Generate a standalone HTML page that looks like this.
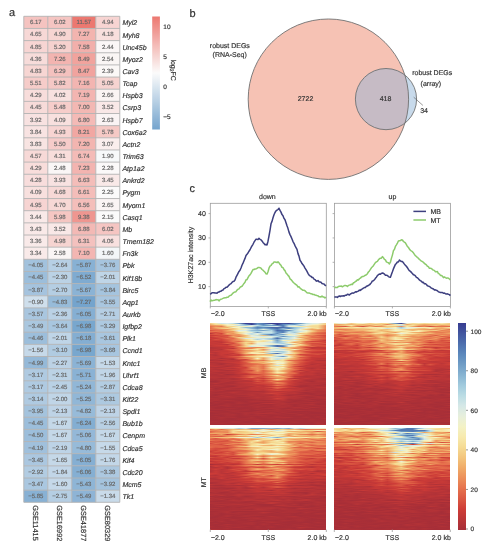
<!DOCTYPE html>
<html><head><meta charset="utf-8"><style>
html,body{margin:0;padding:0;background:#fff;width:491px;height:550px;overflow:hidden}
body{position:relative;font-family:"Liberation Sans",sans-serif}
.hm{position:absolute}
.hm div{position:absolute;left:0;right:0}
svg{position:absolute;left:0;top:0}
svg text{font-family:"Liberation Sans",sans-serif;stroke-width:0.18px;text-rendering:geometricPrecision}
#wrap{position:absolute;left:0;top:0;width:491px;height:550px;filter:blur(0.45px)}
</style></head><body><div id="wrap">
<div class="hm" style="left:210.3px;top:0;width:116.0px"><div style="top:322.80px;height:1.05px;background:linear-gradient(90deg,#f3cc83 0%,#f6e9ac 5%,#cde4e6 10%,#dcece7 15%,#bfdee5 20%,#74a1c8 25%,#373c91 31%,#3a4496 36%,#6390c0 41%,#5076b2 46%,#373c91 53%,#373c91 58%,#4257a0 63%,#394294 68%,#5480b8 73%,#6895c2 78%,#b9dce4 83%,#ddece7 88%,#e4eee2 93%,#f3c981 100%)"></div><div style="top:323.80px;height:1.05px;background:linear-gradient(90deg,#f0ab69 0%,#f5dd97 5%,#f5dc96 10%,#f1f1ca 15%,#f6e7a9 20%,#e3eee2 25%,#6d9ac5 31%,#373c91 36%,#77a4ca 41%,#5784ba 46%,#c1dfe5 53%,#373c91 58%,#5b88bc 63%,#79a6cb 68%,#6b98c4 73%,#cbe3e6 78%,#e3eee3 83%,#ecf0d2 88%,#f7efb8 93%,#f3cc83 100%)"></div><div style="top:324.80px;height:1.05px;background:linear-gradient(90deg,#ec935b 0%,#efa262 5%,#f1af6c 10%,#f7ebaf 15%,#f0f1cc 20%,#bddde5 25%,#a4cddf 31%,#d8eae7 36%,#c2e0e5 41%,#709dc6 46%,#74a1c8 53%,#628fbf 58%,#527bb5 63%,#c2dfe5 68%,#cfe5e6 73%,#a0c9dd 78%,#e3eee3 83%,#f6e19e 88%,#f5de99 93%,#ec915b 100%)"></div><div style="top:325.81px;height:1.05px;background:linear-gradient(90deg,#e66e4b 0%,#eb8e59 5%,#e7774f 10%,#f4d58a 15%,#f4d489 20%,#f3f1c6 25%,#f7f2bf 31%,#eef0cf 36%,#7facce 41%,#a3ccde 46%,#d2e7e6 53%,#ddece7 58%,#527db6 63%,#e6efde 68%,#f7f2bf 73%,#f6e9ac 78%,#f6e19e 83%,#f5d990 88%,#f5db94 93%,#ea8555 100%)"></div><div style="top:326.81px;height:1.05px;background:linear-gradient(90deg,#e6724c 0%,#f0ac69 5%,#f1b06c 10%,#f1af6c 15%,#f1f1ca 20%,#f6f2c1 25%,#91bcd6 31%,#8cb7d3 36%,#5582b9 41%,#608dbe 46%,#4a69aa 53%,#4a69aa 58%,#4a69aa 63%,#6491c0 68%,#95c0d8 73%,#b7dae4 78%,#e1eee6 83%,#f6e3a2 88%,#f5db93 93%,#ea8857 100%)"></div><div style="top:327.81px;height:1.05px;background:linear-gradient(90deg,#e6714c 0%,#ed955d 5%,#f2c17a 10%,#f5d88d 15%,#f2c079 20%,#f7edb3 25%,#d2e7e6 31%,#8cb8d4 36%,#6491c0 41%,#88b4d2 46%,#5c89bc 53%,#4a69aa 58%,#8ab6d3 63%,#527db6 68%,#9bc5da 73%,#c9e2e6 78%,#f7eaaf 83%,#f3c47d 88%,#f6e5a5 93%,#ea8656 100%)"></div><div style="top:328.81px;height:1.05px;background:linear-gradient(90deg,#e98153 0%,#e7754e 5%,#ea8455 10%,#eb8d59 15%,#f3c67e 20%,#f7e9ad 25%,#f0f1ca 31%,#c7e2e5 36%,#91bcd6 41%,#e9efd8 46%,#86b2d1 53%,#5986bb 58%,#81adce 63%,#eaf0d6 68%,#aad3e2 73%,#eff1ce 78%,#f3ca81 83%,#efa363 88%,#f0a967 93%,#e87950 100%)"></div><div style="top:329.81px;height:1.05px;background:linear-gradient(90deg,#d7503f 0%,#e36848 5%,#e6704c 10%,#efa262 15%,#f4d389 20%,#dbebe7 25%,#dcebe7 31%,#96c0d8 36%,#84b0d0 41%,#74a1c8 46%,#b3d9e4 53%,#4a69aa 58%,#5179b4 63%,#5c89bc 68%,#b6dae4 73%,#eaf0d5 78%,#e9efd8 83%,#f3c77f 88%,#ec8f5a 93%,#e6704c 100%)"></div><div style="top:330.82px;height:1.05px;background:linear-gradient(90deg,#e66e4b 0%,#e7784f 5%,#e56c4a 10%,#ed975d 15%,#ed965d 20%,#f0f1cb 25%,#f6f2c1 31%,#b7dbe4 36%,#acd5e2 41%,#d1e6e6 46%,#bedee5 53%,#5f8cbe 58%,#537eb7 63%,#a6cfe0 68%,#b7dae4 73%,#cfe5e6 78%,#f4f2c3 83%,#f4ce85 88%,#ed975d 93%,#e7774f 100%)"></div><div style="top:331.82px;height:1.05px;background:linear-gradient(90deg,#db5842 0%,#d44a3c 5%,#e46b49 10%,#ea8555 15%,#f0a664 20%,#f4d68b 25%,#f1f1ca 31%,#e9efd8 36%,#6a97c3 41%,#c9e3e6 46%,#cae3e6 53%,#729fc7 58%,#537db6 63%,#d6e9e7 68%,#9cc6db 73%,#eef1ce 78%,#f6e4a4 83%,#efa463 88%,#e7744d 93%,#dc5b43 100%)"></div><div style="top:332.82px;height:1.05px;background:linear-gradient(90deg,#b63337 0%,#db5942 5%,#d04239 10%,#f0a664 15%,#ec915b 20%,#f5d990 25%,#e6efde 31%,#bcdde5 36%,#e2eee4 41%,#b1d8e4 46%,#aed6e3 53%,#5d8abd 58%,#d7e9e7 63%,#cde5e6 68%,#d2e7e6 73%,#f3c67e 78%,#f4cd84 83%,#eb8d59 88%,#e26647 93%,#d95541 100%)"></div><div style="top:333.82px;height:1.05px;background:linear-gradient(90deg,#d54c3d 0%,#dc5b43 5%,#d95440 10%,#ec915b 15%,#ee9b5f 20%,#ed965d 25%,#f7f2bf 31%,#c1dfe5 36%,#eff1ce 41%,#8db9d4 46%,#4f74b1 53%,#90bbd5 58%,#719ec7 63%,#f7ecb3 68%,#d3e7e6 73%,#f7efb8 78%,#f2c17a 83%,#ed995e 88%,#e98053 93%,#e06246 100%)"></div><div style="top:334.82px;height:1.05px;background:linear-gradient(90deg,#c73937 0%,#cd3d37 5%,#d85340 10%,#d64e3e 15%,#ea8857 20%,#ed945c 25%,#f2bc76 31%,#eaefd7 36%,#c5e1e5 41%,#f2c17a 46%,#82aecf 53%,#8fbad5 58%,#bddde5 63%,#e9efd8 68%,#eff1cd 73%,#f3ca81 78%,#e87d51 83%,#e98053 88%,#db5942 93%,#d2463b 100%)"></div><div style="top:335.83px;height:1.05px;background:linear-gradient(90deg,#cf4038 0%,#da5741 5%,#d2463b 10%,#dd5d44 15%,#f0ac69 20%,#e87a50 25%,#f3ca81 31%,#e3eee3 36%,#e6efde 41%,#d2e7e6 46%,#e2eee4 53%,#c5e1e5 58%,#5d8abd 63%,#a4cddf 68%,#c3e0e5 73%,#f4d58b 78%,#f0a664 83%,#e56d4a 88%,#e6704c 93%,#d44b3d 100%)"></div><div style="top:336.83px;height:1.05px;background:linear-gradient(90deg,#be3637 0%,#d0433a 5%,#da5641 10%,#d8523f 15%,#e98354 20%,#f4d58b 25%,#f4d086 31%,#f6e4a4 36%,#eaf0d5 41%,#f7f1bb 46%,#e6efdd 53%,#6e9bc5 58%,#e2eee5 63%,#bcdde5 68%,#e9efd7 73%,#f0a765 78%,#f0a665 83%,#e56d4a 88%,#df6145 93%,#d85240 100%)"></div><div style="top:337.83px;height:1.05px;background:linear-gradient(90deg,#cd3d37 0%,#c83a37 5%,#d54c3d 10%,#e6704c 15%,#e16547 20%,#f0ae6b 25%,#d7e9e7 31%,#e4eee0 36%,#d4e8e6 41%,#c5e1e5 46%,#a0c9dd 53%,#4a69aa 58%,#8ebad5 63%,#c3e0e5 68%,#e4eee1 73%,#f6e4a3 78%,#eb8e59 83%,#eb8e59 88%,#e87950 93%,#dc5a43 100%)"></div><div style="top:338.83px;height:1.05px;background:linear-gradient(90deg,#bd3637 0%,#d7513f 5%,#cf4139 10%,#dc5b43 15%,#e7744d 20%,#ed995e 25%,#f5d78d 31%,#f7efb7 36%,#aad2e1 41%,#e1eee7 46%,#9bc5db 53%,#80adce 58%,#b2d8e4 63%,#bbdce4 68%,#f6e19e 73%,#f2be78 78%,#f0a967 83%,#e56d4a 88%,#df6146 93%,#d64f3e 100%)"></div><div style="top:339.83px;height:1.05px;background:linear-gradient(90deg,#c93a37 0%,#cf4139 5%,#ce3e38 10%,#d95541 15%,#e7774f 20%,#ed945c 25%,#f4ce84 31%,#f7f0b9 36%,#ecf0d3 41%,#f6e5a6 46%,#f5f2c3 53%,#729fc7 58%,#f4f2c5 63%,#f6e9ad 68%,#deece7 73%,#f3cc83 78%,#f0ab68 83%,#e7784f 88%,#db5842 93%,#c13737 100%)"></div><div style="top:340.84px;height:1.05px;background:linear-gradient(90deg,#cb3b37 0%,#bd3637 5%,#c63937 10%,#d64e3e 15%,#e7784f 20%,#e16447 25%,#f1b773 31%,#f1b773 36%,#f7eaae 41%,#f5dc96 46%,#d8eae7 53%,#87b3d1 58%,#b1d8e4 63%,#e7efdc 68%,#f4d388 73%,#f1af6c 78%,#e06346 83%,#d0433a 88%,#cf4139 93%,#d2463b 100%)"></div><div style="top:341.84px;height:1.05px;background:linear-gradient(90deg,#c63937 0%,#c83a37 5%,#bd3637 10%,#d04339 15%,#dc5a43 20%,#ee9d60 25%,#f5da92 31%,#f3cc83 36%,#f7f2bf 41%,#eaefd7 46%,#cfe5e6 53%,#8ab6d3 58%,#bddde5 63%,#f6e7a9 68%,#efa061 73%,#f2bc76 78%,#e46a49 83%,#e46b4a 88%,#e26648 93%,#cd3c37 100%)"></div><div style="top:342.84px;height:1.05px;background:linear-gradient(90deg,#c83a37 0%,#c33837 5%,#cc3b37 10%,#dd5d44 15%,#d3483c 20%,#eb8957 25%,#f4d389 31%,#ee9f61 36%,#eaf0d7 41%,#eaf0d6 46%,#edf0d0 53%,#bedde5 58%,#a3ccde 63%,#f0f1cb 68%,#f7f2bc 73%,#ee9e61 78%,#e7754e 83%,#d54c3d 88%,#d3493c 93%,#dc5a43 100%)"></div><div style="top:343.84px;height:1.05px;background:linear-gradient(90deg,#c73a37 0%,#c73a37 5%,#c33837 10%,#ba3537 15%,#e06246 20%,#e56c4a 25%,#f5da91 31%,#f5da91 36%,#e3eee2 41%,#ecf0d3 46%,#eef0cf 53%,#e4eee2 58%,#d9eae7 63%,#98c2d9 68%,#f2ba75 73%,#f6e19d 78%,#eb8d59 83%,#da5742 88%,#d64e3e 93%,#c63937 100%)"></div><div style="top:344.84px;height:1.05px;background:linear-gradient(90deg,#bd3637 0%,#cb3b37 5%,#ce3f38 10%,#ce3f38 15%,#e46a49 20%,#e06246 25%,#f4d087 31%,#eaf0d6 36%,#eff1cd 41%,#d1e6e6 46%,#7eabcd 53%,#4a69aa 58%,#6c99c4 63%,#e7efdb 68%,#f5f2c1 73%,#f3c880 78%,#efa363 83%,#d85340 88%,#d95440 93%,#d7503f 100%)"></div><div style="top:345.85px;height:1.05px;background:linear-gradient(90deg,#c33837 0%,#c43937 5%,#c63937 10%,#ca3b37 15%,#ce3f38 20%,#ec905a 25%,#f4d48a 31%,#cce4e6 36%,#f3f2c5 41%,#ecf0d2 46%,#90bbd5 53%,#4b6cac 58%,#5078b3 63%,#e6efde 68%,#f6e2a0 73%,#ea8656 78%,#e26647 83%,#e56c4a 88%,#d2473b 93%,#d64f3e 100%)"></div><div style="top:346.85px;height:1.05px;background:linear-gradient(90deg,#b13237 0%,#ba3537 5%,#bc3637 10%,#c93a37 15%,#d44a3c 20%,#e36949 25%,#ef9f61 31%,#eb8b58 36%,#e98354 41%,#ed955c 46%,#f0f1cb 53%,#dfede7 58%,#f1b26f 63%,#f2bc76 68%,#f0a564 73%,#e98053 78%,#d0433a 83%,#bd3637 88%,#be3637 93%,#c43837 100%)"></div><div style="top:347.85px;height:1.05px;background:linear-gradient(90deg,#b53337 0%,#b73437 5%,#bf3737 10%,#c73a37 15%,#b73437 20%,#e46b49 25%,#e6734d 31%,#ea8455 36%,#f5d78c 41%,#f4ce85 46%,#f7f1bb 53%,#bddde5 58%,#f7eaaf 63%,#f4cf86 68%,#ea8656 73%,#eb8c58 78%,#e46b4a 83%,#c13837 88%,#c63937 93%,#be3637 100%)"></div><div style="top:348.85px;height:1.05px;background:linear-gradient(90deg,#b93437 0%,#c03737 5%,#b43337 10%,#d44b3d 15%,#db5942 20%,#e16547 25%,#f2bd77 31%,#f5db93 36%,#f6e5a5 41%,#ec8f5a 46%,#cbe3e6 53%,#eef0ce 58%,#bbdce5 63%,#f4d086 68%,#f5f2c2 73%,#efa363 78%,#d44b3d 83%,#d54c3d 88%,#ce3f38 93%,#ce3e37 100%)"></div><div style="top:349.85px;height:1.05px;background:linear-gradient(90deg,#b83437 0%,#b93537 5%,#c23837 10%,#cd3c37 15%,#d8523f 20%,#e06246 25%,#ec935c 31%,#f0a766 36%,#f3cc83 41%,#f1b36f 46%,#e6efdd 53%,#e2eee5 58%,#e2eee5 63%,#f6e5a6 68%,#ee9e61 73%,#e46a49 78%,#e87b50 83%,#d95541 88%,#d54d3d 93%,#d64e3e 100%)"></div><div style="top:350.85px;height:1.05px;background:linear-gradient(90deg,#bd3637 0%,#c83a37 5%,#c63937 10%,#c53937 15%,#d1443a 20%,#e6704c 25%,#efa162 31%,#f1b470 36%,#f5e09c 41%,#f6e8ab 46%,#b7dae4 53%,#92bdd6 58%,#a9d1e1 63%,#e9efd8 68%,#ee9e61 73%,#e87a50 78%,#d44a3c 83%,#d2463b 88%,#cd3c37 93%,#c63937 100%)"></div><div style="top:351.86px;height:1.05px;background:linear-gradient(90deg,#bd3637 0%,#b73437 5%,#c83a37 10%,#ca3b37 15%,#d3483b 20%,#e06346 25%,#f0a665 31%,#f7eaaf 36%,#f6e19f 41%,#f1b571 46%,#d9eae7 53%,#e5efdf 58%,#acd4e2 63%,#f4f2c4 68%,#f3c57d 73%,#eb8c58 78%,#da5741 83%,#ca3a37 88%,#c43837 93%,#c83a37 100%)"></div><div style="top:352.86px;height:1.05px;background:linear-gradient(90deg,#cb3b37 0%,#bb3537 5%,#c93a37 10%,#cb3b37 15%,#c13737 20%,#dd5d44 25%,#f2bc76 31%,#f7e9ad 36%,#f7f0b9 41%,#f7f2bc 46%,#85b1d1 53%,#4a69aa 58%,#cbe4e6 63%,#e8efda 68%,#f4d389 73%,#ec8f5a 78%,#e46a49 83%,#d64e3e 88%,#d2473b 93%,#d44b3d 100%)"></div><div style="top:353.86px;height:1.05px;background:linear-gradient(90deg,#b83437 0%,#b83437 5%,#c93a37 10%,#bc3537 15%,#d0433a 20%,#cb3b37 25%,#e98154 31%,#e87a50 36%,#f1af6c 41%,#f0a866 46%,#f3cc83 53%,#e6efdd 58%,#edf0d1 63%,#f1b26e 68%,#efa262 73%,#d2463b 78%,#d1453a 83%,#d2463b 88%,#d7513f 93%,#c03737 100%)"></div><div style="top:354.86px;height:1.05px;background:linear-gradient(90deg,#bc3637 0%,#b13237 5%,#c63937 10%,#c63937 15%,#c63937 20%,#ca3b37 25%,#e87950 31%,#efa061 36%,#f3c67e 41%,#f4d288 46%,#f4cf85 53%,#d6e9e7 58%,#d8eae7 63%,#f6e3a1 68%,#f1b571 73%,#e36848 78%,#d1453a 83%,#cd3c37 88%,#cb3b37 93%,#c93a37 100%)"></div><div style="top:355.86px;height:1.05px;background:linear-gradient(90deg,#bf3737 0%,#bd3637 5%,#be3637 10%,#cd3c37 15%,#d85340 20%,#e26748 25%,#f1b772 31%,#f4d48a 36%,#f6e4a3 41%,#f7f2bd 46%,#f6f2c1 53%,#add5e3 58%,#6794c2 63%,#edf0d0 68%,#f0a867 73%,#eb8d59 78%,#dd5d44 83%,#cf4139 88%,#cd3c37 93%,#ca3b37 100%)"></div><div style="top:356.87px;height:1.05px;background:linear-gradient(90deg,#bc3537 0%,#be3637 5%,#bf3737 10%,#c93a37 15%,#d1453a 20%,#d85340 25%,#e87b51 31%,#f0ab69 36%,#f5d78d 41%,#f1b671 46%,#daebe7 53%,#eaf0d6 58%,#e6efdd 63%,#f7f2bd 68%,#f1b671 73%,#db5942 78%,#d64f3e 83%,#c43837 88%,#c83a37 93%,#c93a37 100%)"></div><div style="top:357.87px;height:1.05px;background:linear-gradient(90deg,#c23837 0%,#bf3737 5%,#ab3037 10%,#bb3537 15%,#ba3537 20%,#e26748 25%,#eb8c58 31%,#ed995e 36%,#f4f2c4 41%,#ee9c5f 46%,#f5f2c2 53%,#cae3e6 58%,#cee5e6 63%,#f4d086 68%,#ef9f61 73%,#e7744e 78%,#d64f3e 83%,#c63937 88%,#bd3637 93%,#be3637 100%)"></div><div style="top:358.87px;height:1.05px;background:linear-gradient(90deg,#b83437 0%,#b73437 5%,#c33837 10%,#bb3537 15%,#ae3037 20%,#d2463b 25%,#d1443a 31%,#ee9b5f 36%,#f3cb82 41%,#f0a564 46%,#f1f1ca 53%,#c1dfe5 58%,#f6e7a9 63%,#f2bf78 68%,#ed975e 73%,#df6045 78%,#cf4038 83%,#c43837 88%,#bf3637 93%,#c23837 100%)"></div><div style="top:359.87px;height:1.05px;background:linear-gradient(90deg,#ac3037 0%,#b63337 5%,#ad3037 10%,#bd3637 15%,#c03737 20%,#bd3637 25%,#db5842 31%,#e46b4a 36%,#ec8f5a 41%,#e6724c 46%,#f4d288 53%,#f4d48a 58%,#f6e19e 63%,#e7744e 68%,#e16547 73%,#d8523f 78%,#c43837 83%,#cc3b37 88%,#b53337 93%,#b23237 100%)"></div><div style="top:360.87px;height:1.05px;background:linear-gradient(90deg,#c03737 0%,#ba3537 5%,#c13737 10%,#c03737 15%,#bd3637 20%,#c73a37 25%,#e46a49 31%,#ea8656 36%,#efa262 41%,#f1b873 46%,#f4cf85 53%,#eff1cd 58%,#f6e7a8 63%,#f2c17b 68%,#e87d51 73%,#de5e44 78%,#d3483c 83%,#c43837 88%,#c33837 93%,#c13737 100%)"></div><div style="top:361.88px;height:1.05px;background:linear-gradient(90deg,#b23237 0%,#b43337 5%,#bc3637 10%,#c43837 15%,#c73a37 20%,#cb3b37 25%,#db5842 31%,#f0a866 36%,#f1b06c 41%,#f0a867 46%,#f6f2c0 53%,#f7f2be 58%,#f4f2c3 63%,#f1b672 68%,#e98053 73%,#da5641 78%,#ce3e37 83%,#be3637 88%,#c73937 93%,#c13737 100%)"></div><div style="top:362.88px;height:1.05px;background:linear-gradient(90deg,#bb3537 0%,#b53337 5%,#ad3037 10%,#b53337 15%,#bd3637 20%,#cd3d37 25%,#d85340 31%,#e6704c 36%,#ea8555 41%,#f1b36f 46%,#f1b470 53%,#e8efda 58%,#f0f1ca 63%,#f0a564 68%,#eb8c58 73%,#d7503f 78%,#c83a37 83%,#bd3637 88%,#b83437 93%,#c13837 100%)"></div><div style="top:363.88px;height:1.05px;background:linear-gradient(90deg,#b93437 0%,#b83437 5%,#ac3037 10%,#bf3737 15%,#ba3537 20%,#c03737 25%,#db5942 31%,#e06246 36%,#e7764e 41%,#e7754e 46%,#f2ba75 53%,#f7eaaf 58%,#f5d78d 63%,#efa363 68%,#de5e44 73%,#d64e3e 78%,#ce3f38 83%,#b33237 88%,#c33837 93%,#b73437 100%)"></div><div style="top:364.88px;height:1.05px;background:linear-gradient(90deg,#c03737 0%,#b73437 5%,#bb3537 10%,#b73437 15%,#b93537 20%,#c83a37 25%,#df6045 31%,#e66f4b 36%,#ec905a 41%,#e87d52 46%,#f4d389 53%,#d1e6e6 58%,#f7f2bd 63%,#efa463 68%,#e6714c 73%,#d7503f 78%,#bd3637 83%,#c23837 88%,#c13737 93%,#b03137 100%)"></div><div style="top:365.88px;height:1.05px;background:linear-gradient(90deg,#bc3637 0%,#c13737 5%,#b93437 10%,#af3137 15%,#bc3637 20%,#c13737 25%,#da5641 31%,#e6724c 36%,#eb8a58 41%,#e66f4b 46%,#f2ba75 53%,#f6e19d 58%,#f4d087 63%,#ee9a5f 68%,#d85240 73%,#bf3637 78%,#c63937 83%,#c03737 88%,#be3637 93%,#be3637 100%)"></div><div style="top:366.89px;height:1.05px;background:linear-gradient(90deg,#b53337 0%,#b13237 5%,#b33237 10%,#c33837 15%,#c63937 20%,#d04239 25%,#cd3c37 31%,#eb8d59 36%,#ec915b 41%,#e7754e 46%,#f6e19f 53%,#f6e4a4 58%,#f7f2bf 63%,#ea8756 68%,#e36949 73%,#d7513f 78%,#bd3637 83%,#ba3537 88%,#bd3637 93%,#be3637 100%)"></div><div style="top:367.89px;height:1.05px;background:linear-gradient(90deg,#bc3637 0%,#b83437 5%,#c03737 10%,#ba3537 15%,#b43337 20%,#c73937 25%,#d2473b 31%,#e87b51 36%,#ed965d 41%,#e66f4b 46%,#f4cd84 53%,#f2f1c8 58%,#f5da91 63%,#f1af6c 68%,#df6045 73%,#cf4038 78%,#be3637 83%,#b13237 88%,#c03737 93%,#b03137 100%)"></div><div style="top:368.89px;height:1.05px;background:linear-gradient(90deg,#b93537 0%,#b33237 5%,#b23237 10%,#c23837 15%,#c33837 20%,#c23837 25%,#d8523f 31%,#e7764e 36%,#ec935b 41%,#ea8455 46%,#f3c67e 53%,#f6f2c0 58%,#f5d88f 63%,#ec935c 68%,#e7754e 73%,#d7503f 78%,#c63937 83%,#bd3637 88%,#c53937 93%,#c33837 100%)"></div><div style="top:369.89px;height:1.05px;background:linear-gradient(90deg,#b93537 0%,#bc3537 5%,#b33237 10%,#ad3037 15%,#b23237 20%,#c33837 25%,#d64e3e 31%,#d3483c 36%,#efa162 41%,#df6045 46%,#efa262 53%,#f6e19f 58%,#f0ad6b 63%,#ea8756 68%,#de5e44 73%,#b53337 78%,#c83a37 83%,#bb3537 88%,#b73437 93%,#b93537 100%)"></div><div style="top:370.89px;height:1.05px;background:linear-gradient(90deg,#b53337 0%,#bd3637 5%,#bb3537 10%,#b83437 15%,#c03737 20%,#c13737 25%,#d85340 31%,#e06346 36%,#eb8e59 41%,#e06346 46%,#ec935c 53%,#f5dd98 58%,#f0aa68 63%,#e98354 68%,#d2463b 73%,#d54d3e 78%,#b83437 83%,#c53937 88%,#bc3637 93%,#b73437 100%)"></div><div style="top:371.90px;height:1.05px;background:linear-gradient(90deg,#ba3537 0%,#b23237 5%,#ae3137 10%,#b53337 15%,#b73437 20%,#c63937 25%,#d7503f 31%,#e56c4a 36%,#e7774f 41%,#e36848 46%,#f1b36f 53%,#f7ecb2 58%,#f6e19e 63%,#e97e52 68%,#df6045 73%,#c33837 78%,#bc3637 83%,#c03737 88%,#b83437 93%,#b93537 100%)"></div><div style="top:372.90px;height:1.05px;background:linear-gradient(90deg,#b53337 0%,#b83437 5%,#b03137 10%,#b93437 15%,#b83437 20%,#c73a37 25%,#ca3b37 31%,#dc5b43 36%,#e87a50 41%,#e16447 46%,#ed965d 53%,#f4d58a 58%,#f2c079 63%,#e7784f 68%,#e56c4a 73%,#c03737 78%,#c03737 83%,#be3637 88%,#b13237 93%,#c33837 100%)"></div><div style="top:373.90px;height:1.05px;background:linear-gradient(90deg,#b33237 0%,#b03137 5%,#bb3537 10%,#a62e38 15%,#ad3037 20%,#bb3537 25%,#c03737 31%,#cd3d37 36%,#d2473b 41%,#df6045 46%,#e97e52 53%,#eb8c58 58%,#ea8756 63%,#e36949 68%,#d44a3c 73%,#c83a37 78%,#c03737 83%,#c23837 88%,#b73437 93%,#af3137 100%)"></div><div style="top:374.90px;height:1.05px;background:linear-gradient(90deg,#b33237 0%,#b23237 5%,#b23237 10%,#b33237 15%,#b63337 20%,#bd3637 25%,#d3493c 31%,#dd5d44 36%,#e06246 41%,#e06246 46%,#f0ac6a 53%,#f5db93 58%,#e98153 63%,#e7764e 68%,#d2463b 73%,#cc3b37 78%,#b83437 83%,#bb3537 88%,#b13237 93%,#b93537 100%)"></div><div style="top:375.90px;height:1.05px;background:linear-gradient(90deg,#b63437 0%,#b63337 5%,#b03137 10%,#b53337 15%,#be3637 20%,#bb3537 25%,#d2473b 31%,#e16447 36%,#e16547 41%,#d7503f 46%,#e87950 53%,#f1b26e 58%,#f0ae6b 63%,#e26748 68%,#c43937 73%,#b83437 78%,#b33237 83%,#b73437 88%,#bb3537 93%,#b23237 100%)"></div><div style="top:376.91px;height:1.05px;background:linear-gradient(90deg,#ba3537 0%,#b73437 5%,#b83437 10%,#b83437 15%,#bf3737 20%,#cb3b37 25%,#d64f3e 31%,#e7754e 36%,#d44b3d 41%,#db5942 46%,#ec915b 53%,#efa262 58%,#ec925b 63%,#ea8555 68%,#d2473b 73%,#be3637 78%,#b63337 83%,#b83437 88%,#b83437 93%,#b53337 100%)"></div><div style="top:377.91px;height:1.05px;background:linear-gradient(90deg,#b33237 0%,#b43337 5%,#aa2f37 10%,#b33237 15%,#ac3037 20%,#b73437 25%,#c83a37 31%,#cb3b37 36%,#d54c3d 41%,#c83a37 46%,#df6045 53%,#eb8c58 58%,#ed965d 63%,#d04239 68%,#b43337 73%,#b93537 78%,#c53937 83%,#b93537 88%,#b23237 93%,#ab2f37 100%)"></div><div style="top:378.91px;height:1.05px;background:linear-gradient(90deg,#ae3037 0%,#b23237 5%,#b43337 10%,#b73437 15%,#ad3037 20%,#b63337 25%,#d0433a 31%,#cd3d37 36%,#de5f45 41%,#d7513f 46%,#eb8b58 53%,#f6e3a2 58%,#f0a867 63%,#d85340 68%,#da5741 73%,#c03737 78%,#b63337 83%,#b23237 88%,#b13237 93%,#ad3037 100%)"></div><div style="top:379.91px;height:1.05px;background:linear-gradient(90deg,#b13137 0%,#ab3037 5%,#b53337 10%,#b53337 15%,#b93537 20%,#bb3537 25%,#b73437 31%,#c43937 36%,#d2463b 41%,#ca3b37 46%,#df6045 53%,#efa162 58%,#e46b49 63%,#d54d3e 68%,#be3637 73%,#c03737 78%,#ae3037 83%,#b03137 88%,#b63437 93%,#b23237 100%)"></div><div style="top:380.91px;height:1.05px;background:linear-gradient(90deg,#a72e37 0%,#a62e38 5%,#b33237 10%,#b83437 15%,#ad3037 20%,#b43337 25%,#b73437 31%,#b73437 36%,#da5641 41%,#ce3e37 46%,#e7744d 53%,#d95541 58%,#d95440 63%,#d1443a 68%,#c03737 73%,#bc3537 78%,#b33237 83%,#a72e37 88%,#b93537 93%,#b63437 100%)"></div><div style="top:381.92px;height:1.05px;background:linear-gradient(90deg,#ae3137 0%,#ab3037 5%,#b73437 10%,#ad3037 15%,#af3137 20%,#bb3537 25%,#c43837 31%,#c73937 36%,#c93a37 41%,#d3483c 46%,#dd5c44 53%,#ec905a 58%,#e56c4a 63%,#cf4139 68%,#c63937 73%,#b23237 78%,#ba3537 83%,#b33237 88%,#b43337 93%,#b03137 100%)"></div><div style="top:382.92px;height:1.05px;background:linear-gradient(90deg,#ae3137 0%,#bb3537 5%,#ad3037 10%,#ad3037 15%,#ad3037 20%,#b73437 25%,#bc3637 31%,#c13837 36%,#d3483b 41%,#d1443a 46%,#d95440 53%,#e98354 58%,#e6734d 63%,#d04339 68%,#bf3737 73%,#ba3537 78%,#b23237 83%,#b13237 88%,#b13237 93%,#b23237 100%)"></div><div style="top:383.92px;height:1.05px;background:linear-gradient(90deg,#ab3037 0%,#ad3037 5%,#ad3037 10%,#b23237 15%,#b73437 20%,#b43337 25%,#ba3537 31%,#be3637 36%,#c53937 41%,#ca3a37 46%,#d0433a 53%,#d95541 58%,#de5f45 63%,#d1453a 68%,#c03737 73%,#b53337 78%,#b23237 83%,#b53337 88%,#b63337 93%,#a62e38 100%)"></div><div style="top:384.92px;height:1.05px;background:linear-gradient(90deg,#ae3137 0%,#b63437 5%,#b23237 10%,#ae3037 15%,#ad3037 20%,#b73437 25%,#bb3537 31%,#c33837 36%,#be3637 41%,#be3637 46%,#d44b3d 53%,#e87c51 58%,#db5942 63%,#c23837 68%,#c23837 73%,#ae3037 78%,#aa2f37 83%,#b33237 88%,#aa2f37 93%,#ae3137 100%)"></div><div style="top:385.92px;height:1.05px;background:linear-gradient(90deg,#b33337 0%,#ad3037 5%,#b23237 10%,#aa2f37 15%,#a62e37 20%,#b83437 25%,#b73437 31%,#b33237 36%,#c93a37 41%,#bd3637 46%,#c33837 53%,#d2473b 58%,#d1453a 63%,#c73a37 68%,#af3137 73%,#a92f37 78%,#aa2f37 83%,#b23237 88%,#b23237 93%,#af3137 100%)"></div><div style="top:386.93px;height:1.05px;background:linear-gradient(90deg,#ab2f37 0%,#ae3137 5%,#a92f37 10%,#ad3037 15%,#b63337 20%,#b83437 25%,#b23237 31%,#c03737 36%,#c23837 41%,#c13737 46%,#d64f3e 53%,#e36949 58%,#dc5b43 63%,#cd3d37 68%,#c63937 73%,#b03137 78%,#b63337 83%,#ae3137 88%,#b93437 93%,#b93437 100%)"></div><div style="top:387.93px;height:1.05px;background:linear-gradient(90deg,#bb3537 0%,#a62e38 5%,#af3137 10%,#b53337 15%,#b03137 20%,#ac3037 25%,#b43337 31%,#c03737 36%,#c03737 41%,#c43837 46%,#c13837 53%,#dd5c44 58%,#c93a37 63%,#bb3537 68%,#b93437 73%,#be3637 78%,#b33237 83%,#b33237 88%,#b03137 93%,#b13237 100%)"></div><div style="top:388.93px;height:1.05px;background:linear-gradient(90deg,#b23237 0%,#ab3037 5%,#ae3037 10%,#b33237 15%,#b03137 20%,#b13237 25%,#bb3537 31%,#bf3737 36%,#c23837 41%,#be3637 46%,#d1453a 53%,#ce3f38 58%,#c93a37 63%,#cb3b37 68%,#be3637 73%,#bd3637 78%,#b13237 83%,#af3137 88%,#ae3037 93%,#b33237 100%)"></div><div style="top:389.93px;height:1.05px;background:linear-gradient(90deg,#b93437 0%,#af3137 5%,#b83437 10%,#a92f37 15%,#a82f37 20%,#ac3037 25%,#b13237 31%,#bb3537 36%,#c33837 41%,#ba3537 46%,#cd3d37 53%,#d64e3e 58%,#cf4139 63%,#c83a37 68%,#c53937 73%,#b63437 78%,#aa2f37 83%,#b53337 88%,#ad3037 93%,#b13237 100%)"></div><div style="top:390.93px;height:1.05px;background:linear-gradient(90deg,#af3137 0%,#b03137 5%,#ab2f37 10%,#ac3037 15%,#af3137 20%,#b33237 25%,#ae3137 31%,#af3137 36%,#ac3037 41%,#af3137 46%,#c23837 53%,#bb3537 58%,#ba3537 63%,#bf3737 68%,#b43337 73%,#b83437 78%,#b53337 83%,#af3137 88%,#aa2f37 93%,#ac3037 100%)"></div><div style="top:391.94px;height:1.05px;background:linear-gradient(90deg,#b13237 0%,#a92f37 5%,#ad3037 10%,#b23237 15%,#bc3537 20%,#b23237 25%,#af3137 31%,#b63337 36%,#b93437 41%,#b43337 46%,#c33837 53%,#c93a37 58%,#c63937 63%,#b83437 68%,#ba3537 73%,#ad3037 78%,#a62e37 83%,#af3137 88%,#ad3037 93%,#ad3037 100%)"></div><div style="top:392.94px;height:1.05px;background:linear-gradient(90deg,#af3137 0%,#ae3137 5%,#b33237 10%,#ac3037 15%,#b33237 20%,#b03137 25%,#b13237 31%,#b63337 36%,#b53337 41%,#bd3637 46%,#d1443a 53%,#cb3b37 58%,#b93537 63%,#ba3537 68%,#bd3637 73%,#b13137 78%,#a62e38 83%,#a82e37 88%,#ae3037 93%,#b03137 100%)"></div><div style="top:393.94px;height:1.05px;background:linear-gradient(90deg,#ae3137 0%,#a62e37 5%,#ab3037 10%,#b03137 15%,#ac3037 20%,#b43337 25%,#b43337 31%,#b93537 36%,#b33237 41%,#b73437 46%,#b73437 53%,#ca3a37 58%,#c23837 63%,#b13237 68%,#b03137 73%,#a92f37 78%,#ad3037 83%,#a72e37 88%,#af3137 93%,#a62e37 100%)"></div><div style="top:394.94px;height:1.05px;background:linear-gradient(90deg,#ad3037 0%,#a62e38 5%,#b43337 10%,#ab3037 15%,#ad3037 20%,#ab3037 25%,#ac3037 31%,#ba3537 36%,#b33237 41%,#b63337 46%,#b13237 53%,#c13837 58%,#b53337 63%,#aa2f37 68%,#b33237 73%,#b63337 78%,#b63337 83%,#ae3137 88%,#a62e38 93%,#a72e37 100%)"></div><div style="top:395.94px;height:1.05px;background:linear-gradient(90deg,#a92f37 0%,#b13237 5%,#ae3037 10%,#b83437 15%,#ae3137 20%,#ae3137 25%,#b33237 31%,#b23237 36%,#b63337 41%,#b13237 46%,#c03737 53%,#c73937 58%,#c03737 63%,#b83437 68%,#b93537 73%,#ae3137 78%,#aa2f37 83%,#ad3037 88%,#b33237 93%,#ab2f37 100%)"></div><div style="top:396.95px;height:1.05px;background:linear-gradient(90deg,#ab3037 0%,#a92f37 5%,#b13237 10%,#af3137 15%,#b13237 20%,#a62e38 25%,#a92f37 31%,#b13237 36%,#ba3537 41%,#b43337 46%,#ba3537 53%,#be3637 58%,#c33837 63%,#b73437 68%,#b43337 73%,#b53337 78%,#aa2f37 83%,#a72e37 88%,#b13237 93%,#b23237 100%)"></div><div style="top:397.95px;height:1.05px;background:linear-gradient(90deg,#b13137 0%,#ae3137 5%,#ab3037 10%,#ac3037 15%,#aa2f37 20%,#aa2f37 25%,#ac3037 31%,#b33237 36%,#b43337 41%,#b23237 46%,#b83437 53%,#cf4139 58%,#c23837 63%,#b33337 68%,#b53337 73%,#ae3137 78%,#aa2f37 83%,#b03137 88%,#ad3037 93%,#b23237 100%)"></div><div style="top:398.95px;height:1.05px;background:linear-gradient(90deg,#ab2f37 0%,#b03137 5%,#aa2f37 10%,#a72e37 15%,#a72e37 20%,#a62e37 25%,#a92f37 31%,#a82e37 36%,#af3137 41%,#b13237 46%,#bb3537 53%,#c13737 58%,#bf3737 63%,#a92f37 68%,#ae3137 73%,#ab3037 78%,#b13237 83%,#a62e38 88%,#a82e37 93%,#ab2f37 100%)"></div><div style="top:399.95px;height:1.05px;background:linear-gradient(90deg,#ad3037 0%,#b13237 5%,#ac3037 10%,#b23237 15%,#ad3037 20%,#a62e38 25%,#aa2f37 31%,#ac3037 36%,#ae3137 41%,#a92f37 46%,#ad3037 53%,#b03137 58%,#ba3537 63%,#ad3037 68%,#a92f37 73%,#a82e37 78%,#ac3037 83%,#b13237 88%,#a62e38 93%,#af3137 100%)"></div><div style="top:400.95px;height:1.05px;background:linear-gradient(90deg,#b13237 0%,#a62e38 5%,#ac3037 10%,#a82e37 15%,#ab2f37 20%,#ac3037 25%,#a62e38 31%,#b33237 36%,#b33237 41%,#b33237 46%,#b33237 53%,#b63337 58%,#ae3137 63%,#ae3137 68%,#a62e37 73%,#ac3037 78%,#aa2f37 83%,#a62e38 88%,#ac3037 93%,#a82e37 100%)"></div><div style="top:401.95px;height:1.05px;background:linear-gradient(90deg,#a72e37 0%,#ae3037 5%,#ab2f37 10%,#a72e37 15%,#a62e38 20%,#b03137 25%,#a92f37 31%,#ae3037 36%,#aa2f37 41%,#a92f37 46%,#ab2f37 53%,#b43337 58%,#b13237 63%,#a62e38 68%,#ac3037 73%,#ab3037 78%,#af3137 83%,#b33237 88%,#ac3037 93%,#aa2f37 100%)"></div><div style="top:402.96px;height:1.05px;background:linear-gradient(90deg,#a62e38 0%,#ac3037 5%,#a72e37 10%,#ac3037 15%,#a82e37 20%,#b13237 25%,#ac3037 31%,#a82e37 36%,#a62e38 41%,#b63337 46%,#bd3637 53%,#b13237 58%,#b63437 63%,#af3137 68%,#b03137 73%,#ac3037 78%,#a62e37 83%,#ae3037 88%,#a62e38 93%,#ab2f37 100%)"></div><div style="top:403.96px;height:1.05px;background:linear-gradient(90deg,#ac3037 0%,#a62e38 5%,#a82e37 10%,#ae3037 15%,#aa2f37 20%,#a82f37 25%,#a62e38 31%,#aa2f37 36%,#b23237 41%,#a72e37 46%,#a82e37 53%,#b13237 58%,#b43337 63%,#ac3037 68%,#a72e37 73%,#ac3037 78%,#b13237 83%,#b53337 88%,#a62e37 93%,#a82f37 100%)"></div><div style="top:404.96px;height:1.05px;background:linear-gradient(90deg,#a62e38 0%,#a62e38 5%,#b03137 10%,#af3137 15%,#a72e37 20%,#a92f37 25%,#a62e38 31%,#af3137 36%,#aa2f37 41%,#ac3037 46%,#ab2f37 53%,#b43337 58%,#ad3037 63%,#b23237 68%,#a62e37 73%,#ae3137 78%,#ab2f37 83%,#ac3037 88%,#ae3137 93%,#ac3037 100%)"></div><div style="top:405.96px;height:1.05px;background:linear-gradient(90deg,#aa2f37 0%,#ad3037 5%,#a62e38 10%,#b03137 15%,#a92f37 20%,#ad3037 25%,#ab2f37 31%,#a92f37 36%,#b13137 41%,#ae3137 46%,#aa2f37 53%,#b03137 58%,#b13237 63%,#b03137 68%,#a72e37 73%,#ab2f37 78%,#ae3137 83%,#a72e37 88%,#a92f37 93%,#ad3037 100%)"></div><div style="top:406.96px;height:1.05px;background:linear-gradient(90deg,#ac3037 0%,#a62e37 5%,#a82e37 10%,#a62e38 15%,#a62e38 20%,#a92f37 25%,#a62e38 31%,#aa2f37 36%,#af3137 41%,#a62e37 46%,#ac3037 53%,#af3137 58%,#b23237 63%,#aa2f37 68%,#b23237 73%,#b23237 78%,#a82e37 83%,#b43337 88%,#ae3137 93%,#a62e38 100%)"></div><div style="top:407.97px;height:1.05px;background:linear-gradient(90deg,#af3137 0%,#a82e37 5%,#a82e37 10%,#ae3037 15%,#ac3037 20%,#a62e38 25%,#a82e37 31%,#a82f37 36%,#aa2f37 41%,#ad3037 46%,#b33237 53%,#ae3137 58%,#a82e37 63%,#a62e37 68%,#ac3037 73%,#ab2f37 78%,#b23237 83%,#a62e37 88%,#a62e38 93%,#b03137 100%)"></div><div style="top:408.97px;height:1.05px;background:linear-gradient(90deg,#ac3037 0%,#ae3037 5%,#ad3037 10%,#a92f37 15%,#a62e38 20%,#a72e37 25%,#ac3037 31%,#a62e38 36%,#ae3137 41%,#a92f37 46%,#a62e37 53%,#b23237 58%,#a92f37 63%,#b23237 68%,#a92f37 73%,#a62e38 78%,#a62e38 83%,#ab3037 88%,#a82e37 93%,#ad3037 100%)"></div><div style="top:409.97px;height:1.05px;background:linear-gradient(90deg,#a62e38 0%,#a62e38 5%,#a62e38 10%,#ae3037 15%,#ad3037 20%,#ac3037 25%,#ad3037 31%,#a62e37 36%,#a62e38 41%,#ae3037 46%,#ae3137 53%,#af3137 58%,#ac3037 63%,#ab2f37 68%,#b13137 73%,#b33237 78%,#ae3037 83%,#ae3137 88%,#ac3037 93%,#a92f37 100%)"></div><div style="top:410.97px;height:1.05px;background:linear-gradient(90deg,#b03137 0%,#ab2f37 5%,#a92f37 10%,#a62e37 15%,#ae3137 20%,#aa2f37 25%,#a62e37 31%,#a62e37 36%,#b03137 41%,#ad3037 46%,#a82f37 53%,#af3137 58%,#ab2f37 63%,#ac3037 68%,#a62e38 73%,#a62e38 78%,#a62e38 83%,#aa2f37 88%,#ac3037 93%,#ac3037 100%)"></div><div style="top:411.97px;height:1.05px;background:linear-gradient(90deg,#a72e37 0%,#aa2f37 5%,#a92f37 10%,#aa2f37 15%,#a92f37 20%,#ac3037 25%,#af3137 31%,#ae3037 36%,#ae3037 41%,#a82e37 46%,#b23237 53%,#a62e38 58%,#b03137 63%,#a72e37 68%,#a62e38 73%,#a92f37 78%,#aa2f37 83%,#a62e38 88%,#a62e38 93%,#aa2f37 100%)"></div><div style="top:412.98px;height:1.05px;background:linear-gradient(90deg,#a62e37 0%,#a62e38 5%,#ac3037 10%,#ae3137 15%,#a82f37 20%,#a62e38 25%,#b13237 31%,#ac3037 36%,#b23237 41%,#b63337 46%,#b23237 53%,#af3137 58%,#a82e37 63%,#ae3137 68%,#ae3137 73%,#a62e38 78%,#aa2f37 83%,#a62e38 88%,#a62e38 93%,#a62e38 100%)"></div><div style="top:413.98px;height:1.05px;background:linear-gradient(90deg,#a62e38 0%,#ac3037 5%,#a92f37 10%,#ad3037 15%,#b03137 20%,#a72e37 25%,#b03137 31%,#a62e38 36%,#ae3137 41%,#a62e37 46%,#aa2f37 53%,#ac3037 58%,#ab2f37 63%,#a62e37 68%,#a72e37 73%,#b23237 78%,#a72e37 83%,#ab2f37 88%,#aa2f37 93%,#aa2f37 100%)"></div><div style="top:414.98px;height:1.05px;background:linear-gradient(90deg,#a62e38 0%,#a62e37 5%,#a62e38 10%,#ad3037 15%,#ad3037 20%,#a62e37 25%,#ac3037 31%,#ac3037 36%,#ad3037 41%,#af3137 46%,#a72e37 53%,#a82e37 58%,#a92f37 63%,#a92f37 68%,#a92f37 73%,#ab3037 78%,#a72e37 83%,#a82f37 88%,#a62e38 93%,#a62e38 100%)"></div><div style="top:415.98px;height:1.05px;background:linear-gradient(90deg,#a62e37 0%,#ad3037 5%,#a62e38 10%,#ab3037 15%,#a92f37 20%,#a62e37 25%,#aa2f37 31%,#a92f37 36%,#a62e38 41%,#ab2f37 46%,#a82e37 53%,#af3137 58%,#a82e37 63%,#a72e37 68%,#a62e38 73%,#a62e37 78%,#ab2f37 83%,#a62e37 88%,#ad3037 93%,#a62e38 100%)"></div><div style="top:416.98px;height:1.05px;background:linear-gradient(90deg,#aa2f37 0%,#a72e37 5%,#b03137 10%,#ab3037 15%,#b03137 20%,#a62e38 25%,#a72e37 31%,#af3137 36%,#a72e37 41%,#ab2f37 46%,#ab2f37 53%,#b03137 58%,#b03137 63%,#b13237 68%,#a82f37 73%,#a82f37 78%,#af3137 83%,#a62e38 88%,#ac3037 93%,#a62e38 100%)"></div><div style="top:417.99px;height:1.05px;background:linear-gradient(90deg,#a62e38 0%,#aa2f37 5%,#ac3037 10%,#a62e37 15%,#a62e38 20%,#aa2f37 25%,#ac3037 31%,#ac3037 36%,#a82e37 41%,#a62e37 46%,#aa2f37 53%,#a62e38 58%,#a92f37 63%,#a62e38 68%,#a62e38 73%,#a82e37 78%,#a72e37 83%,#a92f37 88%,#a62e38 93%,#b33237 100%)"></div><div style="top:418.99px;height:1.05px;background:linear-gradient(90deg,#a92f37 0%,#a62e38 5%,#aa2f37 10%,#a72e37 15%,#a62e38 20%,#ac3037 25%,#aa2f37 31%,#aa2f37 36%,#ae3037 41%,#a72e37 46%,#a72e37 53%,#ab3037 58%,#a62e38 63%,#a72e37 68%,#a92f37 73%,#ab2f37 78%,#a62e38 83%,#ad3037 88%,#a82e37 93%,#aa2f37 100%)"></div><div style="top:419.99px;height:1.05px;background:linear-gradient(90deg,#a62e38 0%,#a82e37 5%,#aa2f37 10%,#a62e38 15%,#a62e38 20%,#a62e38 25%,#ae3037 31%,#a62e38 36%,#ad3037 41%,#ab2f37 46%,#ab3037 53%,#ac3037 58%,#ac3037 63%,#a82e37 68%,#a72e37 73%,#a62e38 78%,#a62e38 83%,#aa2f37 88%,#a62e38 93%,#a92f37 100%)"></div><div style="top:420.99px;height:1.05px;background:linear-gradient(90deg,#ab2f37 0%,#ac3037 5%,#a72e37 10%,#a62e38 15%,#ac3037 20%,#ab3037 25%,#a62e38 31%,#a62e38 36%,#b13237 41%,#a62e38 46%,#a82e37 53%,#aa2f37 58%,#a82e37 63%,#a92f37 68%,#a92f37 73%,#a62e38 78%,#a72e37 83%,#a82f37 88%,#a92f37 93%,#a72e37 100%)"></div><div style="top:421.99px;height:1.05px;background:linear-gradient(90deg,#ab3037 0%,#a92f37 5%,#aa2f37 10%,#a92f37 15%,#ad3037 20%,#ac3037 25%,#a62e38 31%,#a92f37 36%,#a72e37 41%,#b03137 46%,#a62e38 53%,#a92f37 58%,#a62e38 63%,#a82f37 68%,#ad3037 73%,#a82e37 78%,#a82e37 83%,#a72e37 88%,#ad3037 93%,#a82e37 100%)"></div><div style="top:423.00px;height:1.05px;background:linear-gradient(90deg,#a72e37 0%,#ab2f37 5%,#ad3037 10%,#a82e37 15%,#a62e37 20%,#a92f37 25%,#ae3137 31%,#aa2f37 36%,#ac3037 41%,#a72e37 46%,#ad3037 53%,#ad3037 58%,#a62e38 63%,#a72e37 68%,#a62e38 73%,#a72e37 78%,#a72e37 83%,#a62e38 88%,#af3137 93%,#a72e37 100%)"></div><div style="top:424.00px;height:1.05px;background:linear-gradient(90deg,#ad3037 0%,#a62e37 5%,#a62e38 10%,#aa2f37 15%,#a62e37 20%,#a82e37 25%,#ac3037 31%,#af3137 36%,#aa2f37 41%,#ab2f37 46%,#a82e37 53%,#ab3037 58%,#ab2f37 63%,#aa2f37 68%,#a62e37 73%,#a62e38 78%,#a92f37 83%,#a62e38 88%,#ac3037 93%,#b43337 100%)"></div></div>
<div class="hm" style="left:334.3px;top:0;width:116.0px"><div style="top:322.80px;height:1.05px;background:linear-gradient(90deg,#f6e4a4 0%,#e7efdc 5%,#eff1cd 10%,#f3c77f 15%,#f7edb3 20%,#f2f1c8 25%,#f4cd84 31%,#f7eaae 36%,#f4d389 41%,#f5de98 46%,#729fc7 53%,#373c91 58%,#edf0d1 63%,#f5db94 68%,#f6e9ac 73%,#f5d990 78%,#f6e5a5 83%,#f5de99 88%,#f7eaaf 93%,#f3cb83 100%)"></div><div style="top:323.80px;height:1.05px;background:linear-gradient(90deg,#f0a766 0%,#f0a665 5%,#f2be78 10%,#f1b671 15%,#f3ca81 20%,#f1b470 25%,#f3c880 31%,#f1b873 36%,#f3cc83 41%,#e98153 46%,#f6e3a2 53%,#e9efd7 58%,#ee9d60 63%,#f4d389 68%,#f2bd77 73%,#f0aa68 78%,#f1b26e 83%,#f1b873 88%,#f3cc83 93%,#f2bf78 100%)"></div><div style="top:324.80px;height:1.05px;background:linear-gradient(90deg,#ee9a5f 0%,#f1b671 5%,#f3c67e 10%,#f6e8ab 15%,#f0a765 20%,#f2bc76 25%,#ec945c 31%,#f4d48a 36%,#f1b470 41%,#f6e3a3 46%,#f6e8aa 53%,#bcdde5 58%,#f5d78c 63%,#f5df9b 68%,#f0ad6a 73%,#ec935c 78%,#f1b06d 83%,#f3c67e 88%,#ee9a5f 93%,#f2b974 100%)"></div><div style="top:325.81px;height:1.05px;background:linear-gradient(90deg,#e98053 0%,#df6146 5%,#da5742 10%,#f1b772 15%,#e87950 20%,#d3493c 25%,#f1b571 31%,#e7774f 36%,#eb8b58 41%,#f3c880 46%,#f2c07a 53%,#ea8656 58%,#f6e9ac 63%,#f0a967 68%,#e46b4a 73%,#ea8756 78%,#d44b3d 83%,#e6734d 88%,#e7744d 93%,#e26748 100%)"></div><div style="top:326.81px;height:1.05px;background:linear-gradient(90deg,#f1b26e 0%,#f3ca81 5%,#f6e7a8 10%,#f5d990 15%,#f7eeb5 20%,#f5dd98 25%,#f7e9ad 31%,#f7eeb6 36%,#f7eaaf 41%,#f5d78c 46%,#f6f2c1 53%,#99c3da 58%,#f0f1cb 63%,#e4eee1 68%,#f1f1ca 73%,#f7ecb2 78%,#f6e7a9 83%,#f3c37c 88%,#f1b570 93%,#f6e6a7 100%)"></div><div style="top:327.81px;height:1.05px;background:linear-gradient(90deg,#f1b773 0%,#f1b26f 5%,#f1b773 10%,#f3c981 15%,#f3c77f 20%,#f3c67e 25%,#f5dd98 31%,#f5e09c 36%,#f7f1bb 41%,#c5e1e5 46%,#f0f1cb 53%,#b7dbe4 58%,#deece7 63%,#f6e8ab 68%,#f3c880 73%,#f2bb76 78%,#f6e6a6 83%,#f0ad6a 88%,#f0a766 93%,#f2c27b 100%)"></div><div style="top:328.81px;height:1.05px;background:linear-gradient(90deg,#ec905a 0%,#e7784f 5%,#ea8455 10%,#ed955d 15%,#f1af6c 20%,#f1b773 25%,#f1b36f 31%,#f5db93 36%,#f3c77f 41%,#f2ba75 46%,#f7eeb5 53%,#f6e5a5 58%,#f2bf79 63%,#f1b470 68%,#f1b06d 73%,#efa363 78%,#ec945c 83%,#ec905a 88%,#f2bd77 93%,#e46a49 100%)"></div><div style="top:329.81px;height:1.05px;background:linear-gradient(90deg,#ef9f61 0%,#f1b36f 5%,#ec915b 10%,#efa062 15%,#f1b26f 20%,#f1b16d 25%,#f4d68b 31%,#f5d990 36%,#f1b16d 41%,#f4d388 46%,#f3f2c5 53%,#f7f1bb 58%,#f6e2a0 63%,#f1b470 68%,#f6e6a7 73%,#f4d187 78%,#f3c47d 83%,#f4ce85 88%,#e97f52 93%,#ed955c 100%)"></div><div style="top:330.82px;height:1.05px;background:linear-gradient(90deg,#e98354 0%,#eb8d59 5%,#f0a564 10%,#ee9d60 15%,#ec925b 20%,#ec8f5a 25%,#f2bf79 31%,#f3ca81 36%,#f4cd84 41%,#f0a967 46%,#f5db93 53%,#f4d388 58%,#f6e8ab 63%,#f7f1ba 68%,#f7f2bd 73%,#f3c57d 78%,#eb8b58 83%,#e87a50 88%,#ed985e 93%,#e98053 100%)"></div><div style="top:331.82px;height:1.05px;background:linear-gradient(90deg,#e87d52 0%,#e16447 5%,#e6734d 10%,#e97e52 15%,#e7744e 20%,#eb8b58 25%,#ea8555 31%,#f2bf79 36%,#f6e2a0 41%,#f4ce85 46%,#ed995e 53%,#f7f0b9 58%,#f7eaaf 63%,#f1b36f 68%,#f0a866 73%,#ea8957 78%,#ee9d60 83%,#e98053 88%,#e7784f 93%,#ec945c 100%)"></div><div style="top:332.82px;height:1.05px;background:linear-gradient(90deg,#efa162 0%,#e7774f 5%,#e87b51 10%,#efa463 15%,#f0a664 20%,#ec925b 25%,#f2b974 31%,#f5df9b 36%,#f5da91 41%,#f1b06c 46%,#f6e8ac 53%,#e5eedf 58%,#f7ecb1 63%,#f6e4a4 68%,#f3c67e 73%,#f1b672 78%,#f2bd77 83%,#eb8d59 88%,#eb8c58 93%,#efa463 100%)"></div><div style="top:333.82px;height:1.05px;background:linear-gradient(90deg,#e98153 0%,#d54d3e 5%,#ed965d 10%,#ea8555 15%,#e98354 20%,#ee9e60 25%,#efa061 31%,#f1b36f 36%,#f0a665 41%,#ee9b5f 46%,#f0ab68 53%,#f6e2a0 58%,#f2be78 63%,#f2bc76 68%,#efa363 73%,#f0aa68 78%,#e87a50 83%,#ec8f5a 88%,#e97e52 93%,#ea8555 100%)"></div><div style="top:334.82px;height:1.05px;background:linear-gradient(90deg,#e36848 0%,#e16547 5%,#db5942 10%,#e26648 15%,#e46a49 20%,#ee9c60 25%,#e7734d 31%,#f0a867 36%,#f0ad6a 41%,#e87a50 46%,#f0ac6a 53%,#f6e09c 58%,#f3cc83 63%,#efa262 68%,#f0ac6a 73%,#ed975d 78%,#e98154 83%,#db5942 88%,#efa463 93%,#e7754e 100%)"></div><div style="top:335.83px;height:1.05px;background:linear-gradient(90deg,#e7774f 0%,#d7513f 5%,#d1443a 10%,#e56d4a 15%,#e46a49 20%,#e7774f 25%,#e16547 31%,#ee9a5f 36%,#f3c77f 41%,#ed955c 46%,#f3c57e 53%,#f1b36f 58%,#ee9c60 63%,#ec8f5a 68%,#ee9c60 73%,#e6704c 78%,#e06246 83%,#ee9b5f 88%,#de5f45 93%,#e6714c 100%)"></div><div style="top:336.83px;height:1.05px;background:linear-gradient(90deg,#d1453a 0%,#e6714c 5%,#e98053 10%,#e87950 15%,#dc5b43 20%,#efa463 25%,#f0ae6b 31%,#ea8957 36%,#f4d388 41%,#f1af6c 46%,#f6e7aa 53%,#f5d78d 58%,#f5da92 63%,#ee9b5f 68%,#eb8a58 73%,#ea8455 78%,#ea8756 83%,#e97e52 88%,#ec905a 93%,#d44a3c 100%)"></div><div style="top:337.83px;height:1.05px;background:linear-gradient(90deg,#da5741 0%,#d7513f 5%,#e98354 10%,#e26648 15%,#e46a49 20%,#e46b49 25%,#e7784f 31%,#e98154 36%,#f0ac69 41%,#f1b672 46%,#f6e8aa 53%,#f4d58a 58%,#ed955d 63%,#f0ab69 68%,#efa263 73%,#e87b51 78%,#e7754e 83%,#ee9c60 88%,#db5942 93%,#e36848 100%)"></div><div style="top:338.83px;height:1.05px;background:linear-gradient(90deg,#d85240 0%,#dc5b43 5%,#e36848 10%,#df6045 15%,#e87b51 20%,#e98354 25%,#ea8756 31%,#f0a564 36%,#f2bd77 41%,#efa363 46%,#f6e9ac 53%,#f7ecb2 58%,#f0ab69 63%,#f0aa68 68%,#e87d51 73%,#e98153 78%,#ed995e 83%,#e87e52 88%,#e06346 93%,#e87b50 100%)"></div><div style="top:339.83px;height:1.05px;background:linear-gradient(90deg,#c73a37 0%,#d7513f 5%,#d44a3c 10%,#d64e3e 15%,#d7513f 20%,#e6734d 25%,#e16447 31%,#e06346 36%,#f3cb82 41%,#efa061 46%,#f0a765 53%,#ee9b5f 58%,#f1b36f 63%,#f0a665 68%,#e7784f 73%,#e98153 78%,#d95440 83%,#e87c51 88%,#d54d3d 93%,#d95541 100%)"></div><div style="top:340.84px;height:1.05px;background:linear-gradient(90deg,#ce3f38 0%,#dc5b43 5%,#db5842 10%,#dd5d44 15%,#d1453a 20%,#e66f4b 25%,#de5f45 31%,#e87a50 36%,#f1b672 41%,#f1b06d 46%,#f5de9a 53%,#f2bb76 58%,#f2ba75 63%,#ed995e 68%,#efa463 73%,#e66e4b 78%,#e36949 83%,#e06346 88%,#d95541 93%,#e56d4a 100%)"></div><div style="top:341.84px;height:1.05px;background:linear-gradient(90deg,#d54d3d 0%,#d54d3e 5%,#d2473b 10%,#d7513f 15%,#e6704c 20%,#dc5a43 25%,#e16547 31%,#ec925b 36%,#f0a867 41%,#f0aa68 46%,#e98354 53%,#efa262 58%,#ea8655 63%,#e7754e 68%,#e98254 73%,#e6724d 78%,#cf4038 83%,#db5942 88%,#db5942 93%,#cf4038 100%)"></div><div style="top:342.84px;height:1.05px;background:linear-gradient(90deg,#d85340 0%,#cf4139 5%,#dc5b43 10%,#e66e4b 15%,#d95440 20%,#e7774f 25%,#e87950 31%,#f0a866 36%,#e66f4b 41%,#f2c27b 46%,#f5dd98 53%,#f4d68b 58%,#f6e6a8 63%,#ec905a 68%,#efa463 73%,#ea8756 78%,#e46b49 83%,#e56c4a 88%,#dd5d44 93%,#dc5a43 100%)"></div><div style="top:343.84px;height:1.05px;background:linear-gradient(90deg,#d7503f 0%,#c33837 5%,#db5942 10%,#e46a49 15%,#d64f3e 20%,#e36949 25%,#ea8455 31%,#e66e4b 36%,#efa061 41%,#ec945c 46%,#f5dc96 53%,#f4d086 58%,#f0ae6b 63%,#ec8f5a 68%,#ec945c 73%,#d8523f 78%,#d85340 83%,#d1443a 88%,#d85240 93%,#d64f3e 100%)"></div><div style="top:344.84px;height:1.05px;background:linear-gradient(90deg,#bf3737 0%,#c43937 5%,#d3483c 10%,#da5641 15%,#c83a37 20%,#e98153 25%,#d95440 31%,#eb8957 36%,#f0a564 41%,#ee9d60 46%,#f0aa68 53%,#ec925b 58%,#f1af6c 63%,#f2bb76 68%,#e6714c 73%,#e98154 78%,#e26647 83%,#e16447 88%,#d85340 93%,#db5942 100%)"></div><div style="top:345.85px;height:1.05px;background:linear-gradient(90deg,#cc3b37 0%,#db5942 5%,#d7513f 10%,#d2463b 15%,#d8523f 20%,#df6045 25%,#e7784f 31%,#eb8957 36%,#f2bd77 41%,#eb8957 46%,#f2ba75 53%,#f5dc96 58%,#f1b470 63%,#efa061 68%,#f0ab69 73%,#dd5c43 78%,#de5e44 83%,#df6045 88%,#e16447 93%,#d2473b 100%)"></div><div style="top:346.85px;height:1.05px;background:linear-gradient(90deg,#d95440 0%,#d04339 5%,#d3493c 10%,#cf4139 15%,#ce3e38 20%,#da5741 25%,#c73a37 31%,#d95440 36%,#e98154 41%,#e6704c 46%,#efa061 53%,#f2bc76 58%,#ea8957 63%,#e7744d 68%,#df6145 73%,#cf4139 78%,#d1453a 83%,#c03737 88%,#d1443a 93%,#d1443a 100%)"></div><div style="top:347.85px;height:1.05px;background:linear-gradient(90deg,#ce3e37 0%,#d2473b 5%,#d1453a 10%,#d7513f 15%,#ce3e37 20%,#e16447 25%,#e7734d 31%,#eb8c58 36%,#e98354 41%,#ee9f61 46%,#f2c17b 53%,#f6e19f 58%,#ea8555 63%,#ee9a5f 68%,#e97e52 73%,#e98053 78%,#e6724c 83%,#ce3f38 88%,#dc5a43 93%,#d44b3d 100%)"></div><div style="top:348.85px;height:1.05px;background:linear-gradient(90deg,#d85340 0%,#db5842 5%,#d54d3e 10%,#db5842 15%,#e06246 20%,#e56c4a 25%,#db5842 31%,#e87a50 36%,#f1b26e 41%,#efa162 46%,#f6e29f 53%,#f5dc95 58%,#f4d389 63%,#f2b974 68%,#e98153 73%,#dc5a43 78%,#e7784f 83%,#e36848 88%,#db5942 93%,#e66e4b 100%)"></div><div style="top:349.85px;height:1.05px;background:linear-gradient(90deg,#c13737 0%,#bd3637 5%,#be3637 10%,#bd3637 15%,#cf4139 20%,#d04239 25%,#ca3a37 31%,#c33837 36%,#cf4038 41%,#e6704c 46%,#ea8857 53%,#ec945c 58%,#dd5d44 63%,#d64e3e 68%,#df6145 73%,#d64f3e 78%,#d44b3d 83%,#c83a37 88%,#bc3637 93%,#c93a37 100%)"></div><div style="top:350.85px;height:1.05px;background:linear-gradient(90deg,#b53337 0%,#c53937 5%,#c53937 10%,#d44b3d 15%,#c73a37 20%,#b93537 25%,#cb3b37 31%,#d85340 36%,#dd5c43 41%,#e98354 46%,#e56c4a 53%,#f1b06c 58%,#e66e4b 63%,#e87950 68%,#d44a3c 73%,#c63937 78%,#d54c3d 83%,#ca3b37 88%,#ce3e37 93%,#c63937 100%)"></div><div style="top:351.86px;height:1.05px;background:linear-gradient(90deg,#b13237 0%,#bd3637 5%,#c13737 10%,#c03737 15%,#c93a37 20%,#c83a37 25%,#d85240 31%,#d95541 36%,#d8523f 41%,#d44b3d 46%,#e98354 53%,#efa363 58%,#e56c4a 63%,#d8523f 68%,#cb3b37 73%,#cf4139 78%,#c53937 83%,#ce3f38 88%,#c93a37 93%,#c83a37 100%)"></div><div style="top:352.86px;height:1.05px;background:linear-gradient(90deg,#cf4139 0%,#cf4038 5%,#c03737 10%,#c33837 15%,#d2473b 20%,#d7503f 25%,#dd5d44 31%,#e98053 36%,#efa062 41%,#e98153 46%,#f3c77f 53%,#f1af6c 58%,#ea8455 63%,#ea8555 68%,#d85240 73%,#dd5c44 78%,#df6145 83%,#d54d3e 88%,#d64f3e 93%,#cf4038 100%)"></div><div style="top:353.86px;height:1.05px;background:linear-gradient(90deg,#ca3b37 0%,#c53937 5%,#cc3b37 10%,#cf4139 15%,#d54d3e 20%,#d1453a 25%,#d85340 31%,#e36949 36%,#eb8c58 41%,#dc5a43 46%,#efa363 53%,#f1b772 58%,#f1b773 63%,#e7774f 68%,#e6704c 73%,#d0433a 78%,#cf4038 83%,#ce3e38 88%,#d1443a 93%,#c33837 100%)"></div><div style="top:354.86px;height:1.05px;background:linear-gradient(90deg,#c63937 0%,#cd3d37 5%,#ca3b37 10%,#d1453a 15%,#ca3b37 20%,#d44a3c 25%,#e16547 31%,#e98053 36%,#e98153 41%,#ec915b 46%,#f0aa68 53%,#f3c37c 58%,#efa463 63%,#ed985e 68%,#e87c51 73%,#d95440 78%,#c83a37 83%,#d7503f 88%,#d04339 93%,#d04239 100%)"></div><div style="top:355.86px;height:1.05px;background:linear-gradient(90deg,#b93537 0%,#c83a37 5%,#d2473b 10%,#c13837 15%,#d85340 20%,#d2473b 25%,#cd3d37 31%,#d95440 36%,#dc5b43 41%,#eb8c59 46%,#f3c57d 53%,#f3c981 58%,#efa162 63%,#e36949 68%,#e46a49 73%,#d1443a 78%,#d2463b 83%,#ca3b37 88%,#d2463b 93%,#c13837 100%)"></div><div style="top:356.87px;height:1.05px;background:linear-gradient(90deg,#c73937 0%,#ca3b37 5%,#c33837 10%,#c43937 15%,#c63937 20%,#c83a37 25%,#dc5b43 31%,#e06346 36%,#e46b4a 41%,#d95440 46%,#f0ad6a 53%,#f1b772 58%,#ed995e 63%,#e6704c 68%,#d2473b 73%,#d64e3e 78%,#cf4139 83%,#c13737 88%,#c23837 93%,#c73a37 100%)"></div><div style="top:357.87px;height:1.05px;background:linear-gradient(90deg,#be3637 0%,#c13837 5%,#be3637 10%,#c33837 15%,#c63937 20%,#d44a3c 25%,#d1453a 31%,#db5942 36%,#e06346 41%,#ea8455 46%,#ee9e60 53%,#f0ac69 58%,#efa162 63%,#db5842 68%,#da5741 73%,#d95541 78%,#c93a37 83%,#c93a37 88%,#c63937 93%,#c03737 100%)"></div><div style="top:358.87px;height:1.05px;background:linear-gradient(90deg,#b73437 0%,#ba3537 5%,#b93437 10%,#c63937 15%,#c33837 20%,#b63437 25%,#d04239 31%,#e6704b 36%,#e56c4a 41%,#df6045 46%,#e16447 53%,#ee9e61 58%,#e26648 63%,#e7744d 68%,#cd3d37 73%,#da5741 78%,#cc3b37 83%,#cf4038 88%,#cb3b37 93%,#c63937 100%)"></div><div style="top:359.87px;height:1.05px;background:linear-gradient(90deg,#ba3537 0%,#be3637 5%,#cb3b37 10%,#c53937 15%,#ce3f38 20%,#c93a37 25%,#db5842 31%,#d85340 36%,#e46a49 41%,#de5e44 46%,#ec935b 53%,#f5d78d 58%,#f0a967 63%,#e56d4a 68%,#d04239 73%,#ca3a37 78%,#d3483b 83%,#cf4038 88%,#c83a37 93%,#c63937 100%)"></div><div style="top:360.87px;height:1.05px;background:linear-gradient(90deg,#b23237 0%,#c13737 5%,#bd3637 10%,#c03737 15%,#bb3537 20%,#c43937 25%,#c33837 31%,#d64f3e 36%,#da5641 41%,#d95541 46%,#de5f45 53%,#d7513f 58%,#e6734d 63%,#d54d3e 68%,#c73937 73%,#cb3b37 78%,#c03737 83%,#be3637 88%,#c73a37 93%,#b63337 100%)"></div><div style="top:361.88px;height:1.05px;background:linear-gradient(90deg,#ba3537 0%,#b93537 5%,#bc3637 10%,#c43937 15%,#c43837 20%,#c93a37 25%,#d3483c 31%,#d7503f 36%,#e06346 41%,#de5f45 46%,#e98254 53%,#ee9b5f 58%,#e7764f 63%,#db5942 68%,#ca3b37 73%,#ce3f38 78%,#c43937 83%,#bf3737 88%,#c53937 93%,#cd3d37 100%)"></div><div style="top:362.88px;height:1.05px;background:linear-gradient(90deg,#bd3637 0%,#bb3537 5%,#c23837 10%,#c33837 15%,#bf3737 20%,#ce3e38 25%,#cd3c37 31%,#d04339 36%,#e87c51 41%,#d04239 46%,#e56c4a 53%,#e56d4a 58%,#e6714c 63%,#e16547 68%,#d2463b 73%,#bc3537 78%,#ce3e37 83%,#cd3d37 88%,#bb3537 93%,#ce3f38 100%)"></div><div style="top:363.88px;height:1.05px;background:linear-gradient(90deg,#ba3537 0%,#ca3b37 5%,#ca3b37 10%,#bf3737 15%,#c13737 20%,#c63937 25%,#d85340 31%,#d95541 36%,#e7754e 41%,#d95541 46%,#ec915b 53%,#e98354 58%,#f0aa68 63%,#e26647 68%,#e6724d 73%,#c53937 78%,#d95541 83%,#cb3b37 88%,#c33837 93%,#d04239 100%)"></div><div style="top:364.88px;height:1.05px;background:linear-gradient(90deg,#bb3537 0%,#b53337 5%,#ba3537 10%,#b83437 15%,#c13737 20%,#ba3537 25%,#cb3b37 31%,#d44b3d 36%,#c43837 41%,#cc3b37 46%,#e7764f 53%,#d85340 58%,#e66f4b 63%,#d64e3e 68%,#d54c3d 73%,#c03737 78%,#d0433a 83%,#c03737 88%,#c23837 93%,#c63937 100%)"></div><div style="top:365.88px;height:1.05px;background:linear-gradient(90deg,#ba3537 0%,#b93537 5%,#b53337 10%,#b83437 15%,#bc3537 20%,#c03737 25%,#c23837 31%,#c83a37 36%,#da5742 41%,#ca3b37 46%,#e06346 53%,#e46b49 58%,#e06246 63%,#d95541 68%,#d44a3c 73%,#c63937 78%,#be3637 83%,#c13737 88%,#c33837 93%,#bc3637 100%)"></div><div style="top:366.89px;height:1.05px;background:linear-gradient(90deg,#c43837 0%,#b93537 5%,#b73437 10%,#c33837 15%,#bd3637 20%,#c83a37 25%,#cd3c37 31%,#c93a37 36%,#e06246 41%,#de5e44 46%,#d64f3e 53%,#e87c51 58%,#da5741 63%,#c73a37 68%,#c63937 73%,#cc3b37 78%,#c53937 83%,#bd3637 88%,#bf3737 93%,#c33837 100%)"></div><div style="top:367.89px;height:1.05px;background:linear-gradient(90deg,#c13737 0%,#b73437 5%,#c13737 10%,#c33837 15%,#c33837 20%,#ca3b37 25%,#c73937 31%,#d54d3e 36%,#dd5c43 41%,#d85340 46%,#eb8a57 53%,#ec8f5a 58%,#dc5a43 63%,#db5842 68%,#d1453a 73%,#cf4139 78%,#c63937 83%,#c03737 88%,#b73437 93%,#c53937 100%)"></div><div style="top:368.89px;height:1.05px;background:linear-gradient(90deg,#b03137 0%,#ba3537 5%,#b73437 10%,#bb3537 15%,#b93537 20%,#bb3537 25%,#cb3b37 31%,#cc3b37 36%,#d2473b 41%,#d44b3d 46%,#e7734d 53%,#ef9f61 58%,#dd5c44 63%,#d1443a 68%,#ce3f38 73%,#c93a37 78%,#c83a37 83%,#b33237 88%,#b53337 93%,#b13237 100%)"></div><div style="top:369.89px;height:1.05px;background:linear-gradient(90deg,#be3637 0%,#be3637 5%,#c13737 10%,#c13737 15%,#c63937 20%,#bd3637 25%,#c63937 31%,#d3483c 36%,#de5f45 41%,#d64e3e 46%,#eb8e59 53%,#ea8656 58%,#e97f52 63%,#da5741 68%,#d54d3d 73%,#d54d3d 78%,#cf4038 83%,#b23237 88%,#b43337 93%,#c73937 100%)"></div><div style="top:370.89px;height:1.05px;background:linear-gradient(90deg,#c03737 0%,#bc3637 5%,#b43337 10%,#a82e37 15%,#b83437 20%,#bc3637 25%,#be3637 31%,#bf3737 36%,#c03737 41%,#cd3d37 46%,#d3483b 53%,#c03737 58%,#c53937 63%,#c83a37 68%,#c03737 73%,#c33837 78%,#c43837 83%,#af3137 88%,#bd3637 93%,#b43337 100%)"></div><div style="top:371.90px;height:1.05px;background:linear-gradient(90deg,#b43337 0%,#b43337 5%,#bc3537 10%,#b63337 15%,#c43837 20%,#ca3b37 25%,#d2473b 31%,#d2463b 36%,#d44b3d 41%,#d7513f 46%,#e6704c 53%,#e06346 58%,#e7784f 63%,#ce3f38 68%,#c73937 73%,#c23837 78%,#bf3737 83%,#c63937 88%,#b43337 93%,#c63937 100%)"></div><div style="top:372.90px;height:1.05px;background:linear-gradient(90deg,#b83437 0%,#b83437 5%,#b53337 10%,#bd3637 15%,#bb3537 20%,#c13737 25%,#c33837 31%,#d1453a 36%,#d3493c 41%,#d3493c 46%,#d95440 53%,#df6145 58%,#df6146 63%,#d7503f 68%,#d44b3d 73%,#c83a37 78%,#c23837 83%,#bf3737 88%,#bf3737 93%,#c33837 100%)"></div><div style="top:373.90px;height:1.05px;background:linear-gradient(90deg,#b23237 0%,#b73437 5%,#b43337 10%,#b73437 15%,#b13137 20%,#b33237 25%,#c93a37 31%,#c83a37 36%,#b83437 41%,#c33837 46%,#cf4038 53%,#d85240 58%,#d54d3d 63%,#c73a37 68%,#c23837 73%,#ae3137 78%,#ad3037 83%,#ac3037 88%,#b63337 93%,#ba3537 100%)"></div><div style="top:374.90px;height:1.05px;background:linear-gradient(90deg,#c13737 0%,#ba3537 5%,#af3137 10%,#b33237 15%,#b93537 20%,#b43337 25%,#bd3637 31%,#cb3b37 36%,#d0433a 41%,#c93a37 46%,#d7513f 53%,#e06246 58%,#d95440 63%,#d1453a 68%,#c93a37 73%,#c13737 78%,#c23837 83%,#bd3637 88%,#be3637 93%,#b33237 100%)"></div><div style="top:375.90px;height:1.05px;background:linear-gradient(90deg,#bf3737 0%,#b53337 5%,#b63337 10%,#c03737 15%,#c73a37 20%,#bb3537 25%,#b43337 31%,#c93a37 36%,#d7503f 41%,#cd3c37 46%,#cf4038 53%,#e36848 58%,#d54d3e 63%,#d95440 68%,#bd3637 73%,#b83437 78%,#bd3637 83%,#ae3037 88%,#bc3537 93%,#b33237 100%)"></div><div style="top:376.91px;height:1.05px;background:linear-gradient(90deg,#b73437 0%,#b43337 5%,#b03137 10%,#af3137 15%,#b93537 20%,#b23237 25%,#c93a37 31%,#c63937 36%,#c63937 41%,#b83437 46%,#d85340 53%,#d64f3e 58%,#ce3e38 63%,#bf3637 68%,#b63437 73%,#b33237 78%,#c13737 83%,#be3637 88%,#ba3537 93%,#b43337 100%)"></div><div style="top:377.91px;height:1.05px;background:linear-gradient(90deg,#b83437 0%,#b53337 5%,#bf3737 10%,#b13237 15%,#bd3637 20%,#bb3537 25%,#c13737 31%,#b43337 36%,#c83a37 41%,#c23837 46%,#dd5c43 53%,#d44b3d 58%,#d3483c 63%,#be3637 68%,#cd3c37 73%,#be3637 78%,#bb3537 83%,#bf3737 88%,#bb3537 93%,#bd3637 100%)"></div><div style="top:378.91px;height:1.05px;background:linear-gradient(90deg,#b83437 0%,#b33237 5%,#c03737 10%,#ba3537 15%,#b53337 20%,#b33237 25%,#c43837 31%,#cc3b37 36%,#d44b3d 41%,#c83a37 46%,#d7503f 53%,#d64e3e 58%,#d85340 63%,#d1453a 68%,#bf3737 73%,#c23837 78%,#c73a37 83%,#bb3537 88%,#b73437 93%,#bf3737 100%)"></div><div style="top:379.91px;height:1.05px;background:linear-gradient(90deg,#b03137 0%,#b23237 5%,#a92f37 10%,#ae3037 15%,#ad3037 20%,#ba3537 25%,#b93537 31%,#c23837 36%,#c73a37 41%,#bf3737 46%,#c53937 53%,#da5641 58%,#ca3b37 63%,#bd3637 68%,#c43837 73%,#bb3537 78%,#ac3037 83%,#b43337 88%,#b83437 93%,#b53337 100%)"></div><div style="top:380.91px;height:1.05px;background:linear-gradient(90deg,#b63337 0%,#aa2f37 5%,#b73437 10%,#be3637 15%,#b53337 20%,#ad3037 25%,#bb3537 31%,#b13237 36%,#c93a37 41%,#bc3637 46%,#bb3537 53%,#bf3737 58%,#c23837 63%,#bb3537 68%,#c03737 73%,#bb3537 78%,#b33237 83%,#af3137 88%,#b53337 93%,#af3137 100%)"></div><div style="top:381.92px;height:1.05px;background:linear-gradient(90deg,#ab2f37 0%,#b43337 5%,#b33237 10%,#ae3137 15%,#aa2f37 20%,#b43337 25%,#bb3537 31%,#c23837 36%,#c33837 41%,#b83437 46%,#c03737 53%,#c83a37 58%,#c73a37 63%,#b53337 68%,#be3637 73%,#b13237 78%,#b13237 83%,#ac3037 88%,#ae3137 93%,#b93537 100%)"></div><div style="top:382.92px;height:1.05px;background:linear-gradient(90deg,#ba3537 0%,#b03137 5%,#b43337 10%,#b83437 15%,#aa2f37 20%,#ad3037 25%,#bd3637 31%,#b23237 36%,#be3637 41%,#af3137 46%,#c53937 53%,#c23837 58%,#c63937 63%,#bd3637 68%,#bb3537 73%,#c33837 78%,#b93537 83%,#bf3737 88%,#b03137 93%,#b03137 100%)"></div><div style="top:383.92px;height:1.05px;background:linear-gradient(90deg,#b23237 0%,#b03137 5%,#ac3037 10%,#b33237 15%,#ae3137 20%,#b13237 25%,#aa2f37 31%,#c13737 36%,#b13237 41%,#b43337 46%,#b93537 53%,#cb3b37 58%,#c23837 63%,#b63337 68%,#b43337 73%,#ad3037 78%,#b23237 83%,#ab2f37 88%,#b03137 93%,#b03137 100%)"></div><div style="top:384.92px;height:1.05px;background:linear-gradient(90deg,#b73437 0%,#b83437 5%,#b33237 10%,#ac3037 15%,#b03137 20%,#b93537 25%,#be3637 31%,#b53337 36%,#b83437 41%,#b53337 46%,#b43337 53%,#c93a37 58%,#bb3537 63%,#aa2f37 68%,#b53337 73%,#ad3037 78%,#b33237 83%,#ab3037 88%,#b43337 93%,#b03137 100%)"></div><div style="top:385.92px;height:1.05px;background:linear-gradient(90deg,#b83437 0%,#a62e38 5%,#b43337 10%,#aa2f37 15%,#a82e37 20%,#ac3037 25%,#bc3537 31%,#a92f37 36%,#bb3537 41%,#bc3637 46%,#ba3537 53%,#bc3637 58%,#c63937 63%,#b93437 68%,#bd3637 73%,#b33237 78%,#ac3037 83%,#a82f37 88%,#aa2f37 93%,#b13237 100%)"></div><div style="top:386.93px;height:1.05px;background:linear-gradient(90deg,#a92f37 0%,#ad3037 5%,#af3137 10%,#b63337 15%,#ab2f37 20%,#b33237 25%,#b53337 31%,#b43337 36%,#b03137 41%,#b83437 46%,#c23837 53%,#be3637 58%,#b83437 63%,#ba3537 68%,#aa2f37 73%,#b93537 78%,#b83437 83%,#ae3037 88%,#bb3537 93%,#a82f37 100%)"></div><div style="top:387.93px;height:1.05px;background:linear-gradient(90deg,#ad3037 0%,#a62e38 5%,#b63437 10%,#a82e37 15%,#b73437 20%,#b23237 25%,#a72e37 31%,#ab3037 36%,#b63337 41%,#ae3037 46%,#c43837 53%,#c53937 58%,#bb3537 63%,#b13237 68%,#b83437 73%,#ad3037 78%,#b63337 83%,#af3137 88%,#ad3037 93%,#af3137 100%)"></div><div style="top:388.93px;height:1.05px;background:linear-gradient(90deg,#ac3037 0%,#af3137 5%,#ab3037 10%,#ab2f37 15%,#b23237 20%,#ac3037 25%,#ad3037 31%,#ae3137 36%,#a72e37 41%,#a92f37 46%,#b13137 53%,#be3637 58%,#b33237 63%,#b63337 68%,#bb3537 73%,#ba3537 78%,#b43337 83%,#af3137 88%,#a82e37 93%,#ac3037 100%)"></div><div style="top:389.93px;height:1.05px;background:linear-gradient(90deg,#af3137 0%,#b03137 5%,#aa2f37 10%,#b33237 15%,#ab2f37 20%,#a92f37 25%,#b63337 31%,#aa2f37 36%,#ab2f37 41%,#b33237 46%,#b53337 53%,#bd3637 58%,#aa2f37 63%,#af3137 68%,#aa2f37 73%,#a92f37 78%,#a92f37 83%,#ae3137 88%,#ac3037 93%,#aa2f37 100%)"></div><div style="top:390.93px;height:1.05px;background:linear-gradient(90deg,#b33237 0%,#ae3037 5%,#b43337 10%,#ac3037 15%,#ae3037 20%,#b33237 25%,#b93537 31%,#b23237 36%,#b53337 41%,#b23237 46%,#bf3737 53%,#c23837 58%,#bb3537 63%,#bb3537 68%,#b23237 73%,#ac3037 78%,#b93537 83%,#aa2f37 88%,#ab3037 93%,#b53337 100%)"></div><div style="top:391.94px;height:1.05px;background:linear-gradient(90deg,#b83437 0%,#ab3037 5%,#b13237 10%,#ae3037 15%,#af3137 20%,#b53337 25%,#b03137 31%,#b03137 36%,#b63437 41%,#be3637 46%,#af3137 53%,#b93437 58%,#b23237 63%,#ad3037 68%,#ae3137 73%,#b43337 78%,#b33237 83%,#b13237 88%,#a92f37 93%,#a62e37 100%)"></div><div style="top:392.94px;height:1.05px;background:linear-gradient(90deg,#b23237 0%,#ab2f37 5%,#b43337 10%,#aa2f37 15%,#a62e38 20%,#ac3037 25%,#ad3037 31%,#a92f37 36%,#b93437 41%,#ac3037 46%,#bf3737 53%,#b53337 58%,#b63437 63%,#b93537 68%,#b63437 73%,#b13237 78%,#b53337 83%,#b73437 88%,#b13237 93%,#af3137 100%)"></div><div style="top:393.94px;height:1.05px;background:linear-gradient(90deg,#b13237 0%,#ae3037 5%,#ad3037 10%,#b33237 15%,#a62e38 20%,#b33237 25%,#b03137 31%,#ac3037 36%,#ad3037 41%,#ba3537 46%,#b63337 53%,#ad3037 58%,#ae3137 63%,#aa2f37 68%,#b63337 73%,#b53337 78%,#ac3037 83%,#b13237 88%,#a62e38 93%,#b63337 100%)"></div><div style="top:394.94px;height:1.05px;background:linear-gradient(90deg,#af3137 0%,#ab3037 5%,#ad3037 10%,#aa2f37 15%,#a72e37 20%,#ad3037 25%,#a82f37 31%,#b33237 36%,#b23237 41%,#b03137 46%,#bc3537 53%,#b83437 58%,#b13237 63%,#a92f37 68%,#aa2f37 73%,#b63337 78%,#a62e38 83%,#ae3137 88%,#a62e38 93%,#af3137 100%)"></div><div style="top:395.94px;height:1.05px;background:linear-gradient(90deg,#aa2f37 0%,#a92f37 5%,#b63337 10%,#af3137 15%,#a72e37 20%,#a92f37 25%,#ae3137 31%,#b13237 36%,#b13237 41%,#ae3037 46%,#b23237 53%,#af3137 58%,#ba3537 63%,#b43337 68%,#b33237 73%,#ad3037 78%,#ad3037 83%,#ab2f37 88%,#ad3037 93%,#ae3037 100%)"></div><div style="top:396.95px;height:1.05px;background:linear-gradient(90deg,#a92f37 0%,#af3137 5%,#af3137 10%,#a62e38 15%,#b03137 20%,#a82e37 25%,#b23237 31%,#ae3137 36%,#b53337 41%,#b23237 46%,#aa2f37 53%,#b63337 58%,#ac3037 63%,#b53337 68%,#af3137 73%,#a62e38 78%,#aa2f37 83%,#ab3037 88%,#ab2f37 93%,#a62e37 100%)"></div><div style="top:397.95px;height:1.05px;background:linear-gradient(90deg,#ae3137 0%,#ac3037 5%,#b23237 10%,#aa2f37 15%,#a62e38 20%,#ae3137 25%,#a62e38 31%,#ab2f37 36%,#b43337 41%,#ad3037 46%,#b23237 53%,#af3137 58%,#b73437 63%,#ac3037 68%,#ad3037 73%,#aa2f37 78%,#a72e37 83%,#ae3037 88%,#ad3037 93%,#b03137 100%)"></div><div style="top:398.95px;height:1.05px;background:linear-gradient(90deg,#a62e38 0%,#a82f37 5%,#ac3037 10%,#b33237 15%,#b13237 20%,#ac3037 25%,#ad3037 31%,#ae3137 36%,#b13237 41%,#af3137 46%,#b33237 53%,#ae3137 58%,#ae3137 63%,#b63337 68%,#ab2f37 73%,#b43337 78%,#b13237 83%,#ab2f37 88%,#b33237 93%,#ab3037 100%)"></div><div style="top:399.95px;height:1.05px;background:linear-gradient(90deg,#b03137 0%,#ac3037 5%,#af3137 10%,#b33237 15%,#ab2f37 20%,#b43337 25%,#a92f37 31%,#ac3037 36%,#b23237 41%,#b33237 46%,#b33237 53%,#b23237 58%,#b73437 63%,#ad3037 68%,#ac3037 73%,#b33237 78%,#ab2f37 83%,#af3137 88%,#ae3037 93%,#a82e37 100%)"></div><div style="top:400.95px;height:1.05px;background:linear-gradient(90deg,#a92f37 0%,#ad3037 5%,#b63337 10%,#af3137 15%,#a62e37 20%,#b13237 25%,#a62e38 31%,#b73437 36%,#a72e37 41%,#a92f37 46%,#b03137 53%,#b03137 58%,#a62e37 63%,#af3137 68%,#ad3037 73%,#ae3137 78%,#ad3037 83%,#ac3037 88%,#ac3037 93%,#af3137 100%)"></div><div style="top:401.95px;height:1.05px;background:linear-gradient(90deg,#b43337 0%,#a92f37 5%,#aa2f37 10%,#ae3137 15%,#b23237 20%,#a62e37 25%,#ae3037 31%,#ac3037 36%,#b93437 41%,#af3137 46%,#af3137 53%,#c23837 58%,#ac3037 63%,#ab3037 68%,#a92f37 73%,#ac3037 78%,#b33237 83%,#a62e38 88%,#a92f37 93%,#a62e38 100%)"></div><div style="top:402.96px;height:1.05px;background:linear-gradient(90deg,#a62e38 0%,#b43337 5%,#a62e38 10%,#a72e37 15%,#af3137 20%,#a62e38 25%,#af3137 31%,#b13137 36%,#a62e37 41%,#aa2f37 46%,#a92f37 53%,#ad3037 58%,#ae3137 63%,#a62e38 68%,#a92f37 73%,#b03137 78%,#ac3037 83%,#ab3037 88%,#a82f37 93%,#b13237 100%)"></div><div style="top:403.96px;height:1.05px;background:linear-gradient(90deg,#a62e37 0%,#ac3037 5%,#b23237 10%,#af3137 15%,#b03137 20%,#b13237 25%,#ab2f37 31%,#b43337 36%,#a82f37 41%,#a62e38 46%,#aa2f37 53%,#b23237 58%,#b53337 63%,#ac3037 68%,#ad3037 73%,#ae3137 78%,#a72e37 83%,#a82e37 88%,#ab3037 93%,#a82e37 100%)"></div><div style="top:404.96px;height:1.05px;background:linear-gradient(90deg,#aa2f37 0%,#a92f37 5%,#a72e37 10%,#ad3037 15%,#aa2f37 20%,#aa2f37 25%,#b13137 31%,#ad3037 36%,#ae3037 41%,#ad3037 46%,#b43337 53%,#ad3037 58%,#aa2f37 63%,#ad3037 68%,#aa2f37 73%,#b03137 78%,#aa2f37 83%,#aa2f37 88%,#a72e37 93%,#b43337 100%)"></div><div style="top:405.96px;height:1.05px;background:linear-gradient(90deg,#a62e38 0%,#a72e37 5%,#ac3037 10%,#a92f37 15%,#af3137 20%,#ac3037 25%,#ae3137 31%,#ac3037 36%,#a72e37 41%,#ad3037 46%,#b33237 53%,#ab3037 58%,#ae3137 63%,#b23237 68%,#a72e37 73%,#aa2f37 78%,#ac3037 83%,#a62e38 88%,#a62e38 93%,#a82e37 100%)"></div><div style="top:406.96px;height:1.05px;background:linear-gradient(90deg,#a62e38 0%,#a62e38 5%,#a82e37 10%,#aa2f37 15%,#a82f37 20%,#a62e38 25%,#b03137 31%,#a92f37 36%,#a72e37 41%,#ab3037 46%,#a62e38 53%,#b03137 58%,#b03137 63%,#a92f37 68%,#ae3137 73%,#ad3037 78%,#b13237 83%,#a62e37 88%,#ac3037 93%,#af3137 100%)"></div><div style="top:407.97px;height:1.05px;background:linear-gradient(90deg,#a82e37 0%,#ae3137 5%,#ad3037 10%,#a62e38 15%,#a82e37 20%,#ac3037 25%,#a72e37 31%,#ab2f37 36%,#a92f37 41%,#aa2f37 46%,#aa2f37 53%,#ab3037 58%,#ad3037 63%,#af3137 68%,#b03137 73%,#a62e37 78%,#a92f37 83%,#af3137 88%,#a92f37 93%,#a82e37 100%)"></div><div style="top:408.97px;height:1.05px;background:linear-gradient(90deg,#a72e37 0%,#a62e38 5%,#a62e37 10%,#ac3037 15%,#a72e37 20%,#a62e38 25%,#a62e38 31%,#af3137 36%,#a72e37 41%,#ab3037 46%,#a62e37 53%,#a82e37 58%,#b23237 63%,#a62e38 68%,#a62e38 73%,#a92f37 78%,#a72e37 83%,#a62e38 88%,#b03137 93%,#a62e38 100%)"></div><div style="top:409.97px;height:1.05px;background:linear-gradient(90deg,#ac3037 0%,#a82e37 5%,#ab3037 10%,#ad3037 15%,#aa2f37 20%,#af3137 25%,#a62e38 31%,#ac3037 36%,#ac3037 41%,#a72e37 46%,#af3137 53%,#af3137 58%,#af3137 63%,#ab2f37 68%,#ae3037 73%,#a62e38 78%,#a72e37 83%,#a62e38 88%,#ab2f37 93%,#af3137 100%)"></div><div style="top:410.97px;height:1.05px;background:linear-gradient(90deg,#ad3037 0%,#a72e37 5%,#a62e37 10%,#ad3037 15%,#a82e37 20%,#aa2f37 25%,#af3137 31%,#ac3037 36%,#ab2f37 41%,#ad3037 46%,#a72e37 53%,#aa2f37 58%,#a62e37 63%,#ac3037 68%,#b53337 73%,#a82e37 78%,#ae3137 83%,#aa2f37 88%,#a92f37 93%,#a62e38 100%)"></div><div style="top:411.97px;height:1.05px;background:linear-gradient(90deg,#aa2f37 0%,#a92f37 5%,#ac3037 10%,#a72e37 15%,#ac3037 20%,#ab2f37 25%,#ad3037 31%,#a72e37 36%,#a62e38 41%,#a82e37 46%,#ac3037 53%,#ad3037 58%,#a62e37 63%,#aa2f37 68%,#a62e37 73%,#a62e38 78%,#ae3037 83%,#a62e38 88%,#aa2f37 93%,#a62e38 100%)"></div><div style="top:412.98px;height:1.05px;background:linear-gradient(90deg,#a72e37 0%,#b33237 5%,#ab3037 10%,#aa2f37 15%,#ad3037 20%,#a72e37 25%,#af3137 31%,#a82e37 36%,#ae3037 41%,#ad3037 46%,#ad3037 53%,#ac3037 58%,#ac3037 63%,#ae3137 68%,#a82e37 73%,#a82f37 78%,#a72e37 83%,#a82e37 88%,#a92f37 93%,#b03137 100%)"></div><div style="top:413.98px;height:1.05px;background:linear-gradient(90deg,#ae3037 0%,#a62e37 5%,#af3137 10%,#a62e38 15%,#a62e38 20%,#af3137 25%,#a82e37 31%,#a62e37 36%,#a62e38 41%,#a62e38 46%,#ac3037 53%,#a62e37 58%,#b13237 63%,#a72e37 68%,#ad3037 73%,#a82e37 78%,#ac3037 83%,#a72e37 88%,#aa2f37 93%,#a62e38 100%)"></div><div style="top:414.98px;height:1.05px;background:linear-gradient(90deg,#a92f37 0%,#a92f37 5%,#a72e37 10%,#a62e38 15%,#ad3037 20%,#a82e37 25%,#a62e37 31%,#af3137 36%,#a62e38 41%,#a82e37 46%,#aa2f37 53%,#ad3037 58%,#ab3037 63%,#b13237 68%,#a62e38 73%,#ab3037 78%,#aa2f37 83%,#af3137 88%,#a62e38 93%,#ac3037 100%)"></div><div style="top:415.98px;height:1.05px;background:linear-gradient(90deg,#a62e38 0%,#a62e38 5%,#ab2f37 10%,#ad3037 15%,#ad3037 20%,#a62e37 25%,#aa2f37 31%,#af3137 36%,#a62e38 41%,#aa2f37 46%,#aa2f37 53%,#b43337 58%,#ad3037 63%,#a92f37 68%,#ad3037 73%,#a72e37 78%,#b03137 83%,#a62e38 88%,#ab2f37 93%,#ae3137 100%)"></div><div style="top:416.98px;height:1.05px;background:linear-gradient(90deg,#a62e38 0%,#a62e38 5%,#a62e38 10%,#a82f37 15%,#ab2f37 20%,#a62e38 25%,#a72e37 31%,#a62e38 36%,#ac3037 41%,#ae3037 46%,#a92f37 53%,#a92f37 58%,#a92f37 63%,#ac3037 68%,#a62e37 73%,#a92f37 78%,#ad3037 83%,#b03137 88%,#a92f37 93%,#a62e38 100%)"></div><div style="top:417.99px;height:1.05px;background:linear-gradient(90deg,#ad3037 0%,#ac3037 5%,#a72e37 10%,#ac3037 15%,#af3137 20%,#a92f37 25%,#a92f37 31%,#a72e37 36%,#a82f37 41%,#ad3037 46%,#ba3537 53%,#ad3037 58%,#a62e38 63%,#aa2f37 68%,#a92f37 73%,#ac3037 78%,#a82e37 83%,#a92f37 88%,#a62e38 93%,#ad3037 100%)"></div><div style="top:418.99px;height:1.05px;background:linear-gradient(90deg,#b03137 0%,#ad3037 5%,#ac3037 10%,#ae3137 15%,#a92f37 20%,#ab2f37 25%,#a62e38 31%,#a62e38 36%,#af3137 41%,#a92f37 46%,#a92f37 53%,#a62e37 58%,#aa2f37 63%,#a82e37 68%,#ab2f37 73%,#aa2f37 78%,#a62e38 83%,#a92f37 88%,#ab3037 93%,#ae3137 100%)"></div><div style="top:419.99px;height:1.05px;background:linear-gradient(90deg,#ad3037 0%,#a62e38 5%,#a92f37 10%,#af3137 15%,#a92f37 20%,#ae3137 25%,#a62e38 31%,#a62e37 36%,#a62e38 41%,#aa2f37 46%,#ac3037 53%,#a62e38 58%,#a62e38 63%,#a92f37 68%,#aa2f37 73%,#aa2f37 78%,#ab2f37 83%,#ad3037 88%,#ab2f37 93%,#ab2f37 100%)"></div><div style="top:420.99px;height:1.05px;background:linear-gradient(90deg,#a62e38 0%,#a82e37 5%,#ae3137 10%,#a62e38 15%,#a62e38 20%,#a62e38 25%,#a62e38 31%,#ae3137 36%,#a72e37 41%,#a62e37 46%,#a82e37 53%,#a62e38 58%,#ae3137 63%,#ab2f37 68%,#a62e38 73%,#a62e38 78%,#a62e37 83%,#ac3037 88%,#aa2f37 93%,#ae3137 100%)"></div><div style="top:421.99px;height:1.05px;background:linear-gradient(90deg,#a72e37 0%,#a62e38 5%,#a62e38 10%,#a62e38 15%,#ab2f37 20%,#ab3037 25%,#ab3037 31%,#ab2f37 36%,#ad3037 41%,#a92f37 46%,#a62e38 53%,#a82e37 58%,#a72e37 63%,#aa2f37 68%,#b23237 73%,#aa2f37 78%,#a62e38 83%,#a62e38 88%,#a62e37 93%,#a62e38 100%)"></div><div style="top:423.00px;height:1.05px;background:linear-gradient(90deg,#a62e38 0%,#a72e37 5%,#a62e38 10%,#a62e38 15%,#aa2f37 20%,#a62e37 25%,#af3137 31%,#ae3137 36%,#ad3037 41%,#a62e37 46%,#a72e37 53%,#a62e38 58%,#aa2f37 63%,#a62e38 68%,#a72e37 73%,#a62e38 78%,#a92f37 83%,#ab2f37 88%,#a62e38 93%,#a72e37 100%)"></div><div style="top:424.00px;height:1.05px;background:linear-gradient(90deg,#a62e38 0%,#a62e38 5%,#af3137 10%,#ac3037 15%,#a92f37 20%,#a62e38 25%,#a62e37 31%,#aa2f37 36%,#a62e38 41%,#a62e38 46%,#af3137 53%,#a62e38 58%,#a92f37 63%,#a92f37 68%,#a62e38 73%,#a62e37 78%,#a62e38 83%,#ab2f37 88%,#b03137 93%,#a62e38 100%)"></div></div>
<div class="hm" style="left:210.3px;top:0;width:116.0px"><div style="top:427.50px;height:1.05px;background:linear-gradient(90deg,#f7edb4 0%,#f5f2c3 5%,#f0f1cb 10%,#d1e7e6 15%,#edf0d1 20%,#aad3e2 25%,#d8eae7 31%,#7daacd 36%,#7daacd 41%,#7daacd 46%,#98c2d9 53%,#7daacd 58%,#9ec8dc 63%,#7daacd 68%,#e5eee0 73%,#b7dae4 78%,#deece7 83%,#ecf0d3 88%,#eff1cd 93%,#f3f1c7 100%)"></div><div style="top:428.50px;height:1.05px;background:linear-gradient(90deg,#e56d4a 0%,#efa363 5%,#e46a49 10%,#ee9d60 15%,#f2ba75 20%,#f0ae6b 25%,#f3c67f 31%,#f0a766 36%,#f0a766 41%,#f6e8ab 46%,#ee9b5f 53%,#f4ce84 58%,#f4d58a 63%,#f1b36f 68%,#f1b773 73%,#ec925b 78%,#e6714c 83%,#e98154 88%,#e87e52 93%,#e87a50 100%)"></div><div style="top:429.50px;height:1.05px;background:linear-gradient(90deg,#ec915b 0%,#e98254 5%,#ee9f61 10%,#ec935b 15%,#f4d68b 20%,#f7ebaf 25%,#f7ebb0 31%,#ebf0d4 36%,#e8efd9 41%,#eaefd7 46%,#edf0d0 53%,#c7e2e5 58%,#ebf0d5 63%,#f6e6a8 68%,#f6f2c0 73%,#f5de99 78%,#f4d58a 83%,#f5d78c 88%,#f7ecb3 93%,#f5dd98 100%)"></div><div style="top:430.50px;height:1.05px;background:linear-gradient(90deg,#e06246 0%,#e87d52 5%,#ea8857 10%,#ec8f5a 15%,#f5da92 20%,#f2be78 25%,#f5d78c 31%,#f7e9ad 36%,#f5dc95 41%,#f4f2c5 46%,#f4d086 53%,#f4f2c5 58%,#f7eeb6 63%,#f1b470 68%,#f0a967 73%,#f2b974 78%,#efa162 83%,#ee9a5f 88%,#da5641 93%,#ec905a 100%)"></div><div style="top:431.50px;height:1.05px;background:linear-gradient(90deg,#e56c4a 0%,#ec905a 5%,#ec8f5a 10%,#ea8455 15%,#f5dd97 20%,#f3cb83 25%,#f4d187 31%,#f5de9a 36%,#e8efda 41%,#f3c47c 46%,#f2f1c7 53%,#f6e3a1 58%,#f6e4a4 63%,#f6e7a9 68%,#f4d68b 73%,#f1b571 78%,#f2c17b 83%,#ee9b5f 88%,#f3c57d 93%,#ed995e 100%)"></div><div style="top:432.50px;height:1.05px;background:linear-gradient(90deg,#f0a765 0%,#f0ab69 5%,#efa363 10%,#f0aa68 15%,#f0ae6b 20%,#f3cb83 25%,#f5da91 31%,#f5d98f 36%,#eaf0d6 41%,#f6e9ad 46%,#f7f1bb 53%,#f6f2c1 58%,#f3f1c6 63%,#f0ac6a 68%,#f2bc77 73%,#f3c57e 78%,#f3c981 83%,#ee9c60 88%,#f3c47d 93%,#ed955c 100%)"></div><div style="top:433.51px;height:1.05px;background:linear-gradient(90deg,#e66f4b 0%,#de5f45 5%,#ee9e61 10%,#ca3b37 15%,#dd5c43 20%,#e87c51 25%,#f0ae6b 31%,#e87a50 36%,#eb8a57 41%,#f0aa68 46%,#f6e29f 53%,#f6e5a5 58%,#f4d087 63%,#efa263 68%,#f2bf79 73%,#eb8c58 78%,#e87b51 83%,#e56d4a 88%,#ea8555 93%,#e87d52 100%)"></div><div style="top:434.51px;height:1.05px;background:linear-gradient(90deg,#e87a50 0%,#eb8a57 5%,#ea8857 10%,#ea8555 15%,#ee9c60 20%,#f5d88d 25%,#f4cd84 31%,#f2f1c8 36%,#f6e7a9 41%,#f7f1ba 46%,#f2be78 53%,#f7eeb6 58%,#f6e3a2 63%,#ec905a 68%,#f5d990 73%,#f2bf79 78%,#f2b974 83%,#ec915b 88%,#f2bb75 93%,#eb8c59 100%)"></div><div style="top:435.51px;height:1.05px;background:linear-gradient(90deg,#e6714c 0%,#de5e44 5%,#dd5c44 10%,#eb8a57 15%,#ee9c60 20%,#ed995e 25%,#f0a866 31%,#f2c17a 36%,#f7ecb3 41%,#f0a564 46%,#f7f2bc 53%,#f6e9ad 58%,#f1b873 63%,#f1b873 68%,#ed975d 73%,#f1b16e 78%,#ef9f61 83%,#f0ae6b 88%,#f0ad6b 93%,#ec8f5a 100%)"></div><div style="top:436.51px;height:1.05px;background:linear-gradient(90deg,#ed955c 0%,#f1b571 5%,#f2c17b 10%,#f2c17b 15%,#f5d990 20%,#eef0d0 25%,#eff1cd 31%,#dbebe7 36%,#a0c9dd 41%,#e1eee6 46%,#b0d7e4 53%,#7eabcd 58%,#c6e1e5 63%,#ebf0d4 68%,#f6f2c1 73%,#f6e3a3 78%,#f7edb4 83%,#f3c981 88%,#f5da91 93%,#f4d68b 100%)"></div><div style="top:437.51px;height:1.05px;background:linear-gradient(90deg,#e7784f 0%,#d95440 5%,#e87e52 10%,#ec8f5a 15%,#e66e4b 20%,#efa162 25%,#f3c981 31%,#f2be78 36%,#f4d489 41%,#f4d68b 46%,#eff1ce 53%,#f6e8ab 58%,#f6e2a1 63%,#f2bc76 68%,#f2bd77 73%,#f0ac69 78%,#e97e52 83%,#efa162 88%,#f0a967 93%,#e56c4a 100%)"></div><div style="top:438.51px;height:1.05px;background:linear-gradient(90deg,#e16447 0%,#dd5d44 5%,#df6045 10%,#e66e4b 15%,#e56d4a 20%,#e56c4a 25%,#f1b773 31%,#ee9c5f 36%,#f0ae6b 41%,#f5de9a 46%,#f6e2a0 53%,#ea8857 58%,#f5de99 63%,#f1b571 68%,#ed965d 73%,#efa162 78%,#f0a766 83%,#e7734d 88%,#eb8a57 93%,#eb8a57 100%)"></div><div style="top:439.51px;height:1.05px;background:linear-gradient(90deg,#e87a50 0%,#e16447 5%,#e16547 10%,#d8523f 15%,#efa061 20%,#e66e4b 25%,#f0aa68 31%,#f2bd77 36%,#f7f2bf 41%,#f2bd77 46%,#f2bd77 53%,#f7eeb6 58%,#f5db93 63%,#f2bf79 68%,#f1b570 73%,#ee9a5f 78%,#efa263 83%,#ee9a5f 88%,#e36848 93%,#e7754e 100%)"></div><div style="top:440.51px;height:1.05px;background:linear-gradient(90deg,#d64e3e 0%,#dc5b43 5%,#d64e3e 10%,#da5741 15%,#e6714c 20%,#ee9d60 25%,#f0a564 31%,#f5d88e 36%,#f5da92 41%,#f0a564 46%,#f5da91 53%,#f6e5a5 58%,#f3cc83 63%,#ea8555 68%,#e97f52 73%,#e7744e 78%,#e6704b 83%,#e98053 88%,#ed975e 93%,#e87b50 100%)"></div><div style="top:441.51px;height:1.05px;background:linear-gradient(90deg,#e06346 0%,#da5741 5%,#e06246 10%,#e46a49 15%,#e26647 20%,#de5f45 25%,#ed965d 31%,#f5dd98 36%,#f0aa68 41%,#ee9f61 46%,#f4d389 53%,#f5de9a 58%,#f7ebb0 63%,#ec8f5a 68%,#ec945c 73%,#e7774f 78%,#e98154 83%,#df6145 88%,#e98154 93%,#e87c51 100%)"></div><div style="top:442.51px;height:1.05px;background:linear-gradient(90deg,#d3483c 0%,#e46b4a 5%,#dc5b43 10%,#de5f45 15%,#eb8c58 20%,#eb8e59 25%,#f2bb75 31%,#f4d288 36%,#f5db93 41%,#f1b16d 46%,#f6e7a9 53%,#f5de99 58%,#f5d88e 63%,#f0ac6a 68%,#efa062 73%,#e06346 78%,#ed995e 83%,#eb8b58 88%,#eb8d59 93%,#ea8656 100%)"></div><div style="top:443.52px;height:1.05px;background:linear-gradient(90deg,#df6146 0%,#da5641 5%,#d54d3e 10%,#ea8555 15%,#e6704c 20%,#e16447 25%,#ed995e 31%,#f4d68b 36%,#f6e7a9 41%,#f7edb3 46%,#f5d990 53%,#f7edb4 58%,#f7ebb0 63%,#f5de98 68%,#ea8857 73%,#efa262 78%,#e7734d 83%,#e7764f 88%,#ec905a 93%,#ec8f5a 100%)"></div><div style="top:444.52px;height:1.05px;background:linear-gradient(90deg,#de5f45 0%,#df6146 5%,#dd5c43 10%,#d2473b 15%,#e6704c 20%,#ea8756 25%,#e98053 31%,#f5de98 36%,#f5db94 41%,#f1b570 46%,#f0aa68 53%,#f4d086 58%,#f1b873 63%,#f2b974 68%,#ed975d 73%,#ea8857 78%,#ea8455 83%,#de5e44 88%,#e6704c 93%,#e36949 100%)"></div><div style="top:445.52px;height:1.05px;background:linear-gradient(90deg,#e26748 0%,#df6145 5%,#e06346 10%,#e06346 15%,#e66f4b 20%,#f0a665 25%,#f4cf85 31%,#f7eaaf 36%,#f5f2c3 41%,#f6e3a2 46%,#f6e5a5 53%,#f3f2c5 58%,#f6e2a1 63%,#f1b26e 68%,#f2bf79 73%,#e7764e 78%,#efa363 83%,#eb8e59 88%,#e66e4b 93%,#e16447 100%)"></div><div style="top:446.52px;height:1.05px;background:linear-gradient(90deg,#e46b49 0%,#db5842 5%,#e06346 10%,#d8523f 15%,#dd5d44 20%,#e7764e 25%,#e97e52 31%,#f1b873 36%,#f3c67e 41%,#f5dc96 46%,#f6e6a8 53%,#f5d991 58%,#f3cb83 63%,#f1b773 68%,#e26648 73%,#df6045 78%,#e56c4a 83%,#de5e44 88%,#e7744d 93%,#eb8a58 100%)"></div><div style="top:447.52px;height:1.05px;background:linear-gradient(90deg,#da5742 0%,#d44a3c 5%,#d1453a 10%,#d3493c 15%,#e87950 20%,#ed965d 25%,#ee9b5f 31%,#f3c47d 36%,#f3ca82 41%,#f6e19e 46%,#f5d78c 53%,#f6e9ad 58%,#f5d88d 63%,#efa363 68%,#ec915a 73%,#e87b50 78%,#e16447 83%,#e6714c 88%,#d2463b 93%,#d95541 100%)"></div><div style="top:448.52px;height:1.05px;background:linear-gradient(90deg,#da5641 0%,#d3483c 5%,#d95440 10%,#df6146 15%,#e7784f 20%,#ea8555 25%,#f1af6c 31%,#f2c17a 36%,#f7edb3 41%,#f5dd97 46%,#f2f1c8 53%,#f0f1cb 58%,#f4d388 63%,#f3c57e 68%,#eb8e59 73%,#e98153 78%,#eb8b58 83%,#e6734d 88%,#e87b51 93%,#e97f52 100%)"></div><div style="top:449.52px;height:1.05px;background:linear-gradient(90deg,#d44a3c 0%,#d04239 5%,#dd5c44 10%,#de5f45 15%,#e6724d 20%,#e16447 25%,#e66f4b 31%,#f0a665 36%,#f6e4a3 41%,#f2be78 46%,#f1b36f 53%,#f6e8aa 58%,#f4d58a 63%,#f1b873 68%,#e7764e 73%,#ea8455 78%,#e7784f 83%,#d7503f 88%,#e98354 93%,#e97f52 100%)"></div><div style="top:450.52px;height:1.05px;background:linear-gradient(90deg,#c73937 0%,#d85340 5%,#d44b3d 10%,#d3493c 15%,#dd5d44 20%,#e26647 25%,#e6734d 31%,#ee9b5f 36%,#f3c981 41%,#f2bd77 46%,#f0a866 53%,#f3c980 58%,#f1b16d 63%,#eb8a58 68%,#eb8d59 73%,#e26647 78%,#de5f45 83%,#dd5d44 88%,#d3483c 93%,#da5742 100%)"></div><div style="top:451.52px;height:1.05px;background:linear-gradient(90deg,#d1453a 0%,#d2473b 5%,#ce3e37 10%,#e16447 15%,#d3493c 20%,#e98153 25%,#ea8455 31%,#f3cc83 36%,#f4d086 41%,#f4d489 46%,#f1b470 53%,#f2b974 58%,#f0a765 63%,#eb8c58 68%,#e87a50 73%,#df6045 78%,#da5742 83%,#df6045 88%,#e36949 93%,#da5742 100%)"></div><div style="top:452.52px;height:1.05px;background:linear-gradient(90deg,#d95541 0%,#ce3e38 5%,#d54d3d 10%,#d7503f 15%,#d7513f 20%,#e56c4a 25%,#ee9e60 31%,#f3ca82 36%,#f6e4a3 41%,#f5dd98 46%,#f5f2c2 53%,#f1f1c9 58%,#f3c37c 63%,#ec8f5a 68%,#ed965d 73%,#e26748 78%,#e46a49 83%,#df6045 88%,#e36848 93%,#d64f3e 100%)"></div><div style="top:453.53px;height:1.05px;background:linear-gradient(90deg,#d3493c 0%,#dd5c43 5%,#da5742 10%,#e16547 15%,#d3493c 20%,#ee9b5f 25%,#f1b06c 31%,#f2b974 36%,#f4f2c4 41%,#f2c27b 46%,#e7efdd 53%,#f7eaaf 58%,#f6e7a8 63%,#f0a664 68%,#ea8455 73%,#e46b49 78%,#e56c4a 83%,#e36949 88%,#d44b3d 93%,#e06246 100%)"></div><div style="top:454.53px;height:1.05px;background:linear-gradient(90deg,#ce3f38 0%,#c93a37 5%,#d1453a 10%,#d85340 15%,#d95440 20%,#e06246 25%,#e98053 31%,#ee9a5f 36%,#f2bb76 41%,#ec905a 46%,#f0ad6a 53%,#f1b672 58%,#f0ac6a 63%,#ea8957 68%,#e98053 73%,#d85340 78%,#d54d3d 83%,#d54c3d 88%,#dc5a43 93%,#cf4139 100%)"></div><div style="top:455.53px;height:1.05px;background:linear-gradient(90deg,#c23837 0%,#bf3737 5%,#d8523f 10%,#d04239 15%,#ca3a37 20%,#d3493c 25%,#db5842 31%,#eb8957 36%,#f0a665 41%,#e66e4b 46%,#f1b36f 53%,#f0a866 58%,#f1b16d 63%,#ec925b 68%,#de5e44 73%,#e66f4b 78%,#db5842 83%,#d44b3d 88%,#d44b3d 93%,#d54d3d 100%)"></div><div style="top:456.53px;height:1.05px;background:linear-gradient(90deg,#d95440 0%,#d04239 5%,#d1443a 10%,#c73a37 15%,#de5e44 20%,#de5e44 25%,#e97f52 31%,#ed985e 36%,#f6e5a5 41%,#f0a564 46%,#f6e6a6 53%,#f3ca81 58%,#ec905a 63%,#e98254 68%,#e87a50 73%,#db5942 78%,#dd5c43 83%,#e06346 88%,#df6146 93%,#e26748 100%)"></div><div style="top:457.53px;height:1.05px;background:linear-gradient(90deg,#c13737 0%,#c83a37 5%,#cf4038 10%,#d7503f 15%,#c63937 20%,#c93a37 25%,#e6724d 31%,#e6704b 36%,#ed995e 41%,#d85240 46%,#f1b470 53%,#ea8656 58%,#e26748 63%,#e7744d 68%,#e36949 73%,#d95541 78%,#d44a3c 83%,#c33837 88%,#d95440 93%,#d04239 100%)"></div><div style="top:458.53px;height:1.05px;background:linear-gradient(90deg,#cd3d37 0%,#c43937 5%,#ca3b37 10%,#d64e3e 15%,#d95541 20%,#dc5b43 25%,#e36949 31%,#efa262 36%,#f0aa68 41%,#e87d52 46%,#f0aa68 53%,#f0ac69 58%,#ea8656 63%,#ea8555 68%,#e6734d 73%,#db5942 78%,#cf4139 83%,#d7513f 88%,#d54d3e 93%,#cf4038 100%)"></div><div style="top:459.53px;height:1.05px;background:linear-gradient(90deg,#cd3c37 0%,#d3493c 5%,#d3483b 10%,#d1453a 15%,#d7513f 20%,#e46b49 25%,#e87b50 31%,#f1b570 36%,#f3cc83 41%,#f1b16e 46%,#f5d78c 53%,#f3cb83 58%,#ee9e61 63%,#e7784f 68%,#e66f4b 73%,#e26748 78%,#d95541 83%,#d95541 88%,#d54c3d 93%,#c33837 100%)"></div><div style="top:460.53px;height:1.05px;background:linear-gradient(90deg,#b93437 0%,#ca3b37 5%,#cf4038 10%,#d54d3d 15%,#d7513f 20%,#d3483c 25%,#e7754e 31%,#ee9e61 36%,#e7774f 41%,#e7774f 46%,#ed975d 53%,#f3c67e 58%,#f3c77f 63%,#e7774f 68%,#e46a49 73%,#d8523f 78%,#da5641 83%,#d3493c 88%,#d04339 93%,#ca3b37 100%)"></div><div style="top:461.53px;height:1.05px;background:linear-gradient(90deg,#d2473b 0%,#c93a37 5%,#d44a3c 10%,#c63937 15%,#d64e3e 20%,#d2473b 25%,#e7764e 31%,#ed985e 36%,#ee9c60 41%,#e98354 46%,#f3cb82 53%,#ee9a5f 58%,#e97e52 63%,#e16447 68%,#e16547 73%,#d44a3c 78%,#d44a3c 83%,#d64e3e 88%,#c33837 93%,#d1453a 100%)"></div><div style="top:462.53px;height:1.05px;background:linear-gradient(90deg,#c93a37 0%,#c83a37 5%,#c33837 10%,#cb3b37 15%,#c83a37 20%,#cb3b37 25%,#e7784f 31%,#ec925b 36%,#f2bc76 41%,#e7754e 46%,#f3c37c 53%,#f1b06c 58%,#f3cb83 63%,#e7744d 68%,#e7784f 73%,#e26648 78%,#d1443a 83%,#d7513f 88%,#d54c3d 93%,#d0433a 100%)"></div><div style="top:463.54px;height:1.05px;background:linear-gradient(90deg,#a62e38 0%,#b33237 5%,#b93537 10%,#c53937 15%,#b83437 20%,#c53937 25%,#dc5a43 31%,#df6045 36%,#c53937 41%,#dc5b43 46%,#d54d3e 53%,#cc3b37 58%,#db5942 63%,#ca3b37 68%,#d1453a 73%,#c93a37 78%,#d3493c 83%,#b83437 88%,#c83a37 93%,#c23837 100%)"></div><div style="top:464.54px;height:1.05px;background:linear-gradient(90deg,#c43837 0%,#cb3b37 5%,#c63937 10%,#d3493c 15%,#d2473b 20%,#dc5a43 25%,#e87b51 31%,#ed965d 36%,#efa262 41%,#ec915b 46%,#ee9f61 53%,#f1b16d 58%,#eb8c58 63%,#ed985e 68%,#e46b49 73%,#e56d4a 78%,#d1453a 83%,#d2463b 88%,#d2463b 93%,#d2473b 100%)"></div><div style="top:465.54px;height:1.05px;background:linear-gradient(90deg,#ae3037 0%,#ce3f38 5%,#c03737 10%,#ba3537 15%,#d0433a 20%,#d1443a 25%,#df6146 31%,#da5641 36%,#e7764e 41%,#df6146 46%,#f1b873 53%,#e6714c 58%,#e56d4a 63%,#df6145 68%,#d2473b 73%,#cd3d37 78%,#c43837 83%,#ba3537 88%,#c83a37 93%,#ce3e38 100%)"></div><div style="top:466.54px;height:1.05px;background:linear-gradient(90deg,#b83437 0%,#b43337 5%,#c53937 10%,#ae3137 15%,#c73937 20%,#cb3b37 25%,#ce3e38 31%,#df6145 36%,#d44b3d 41%,#d3483b 46%,#e6704b 53%,#e97f52 58%,#e6734d 63%,#d44b3d 68%,#c53937 73%,#c13737 78%,#c23837 83%,#b53337 88%,#cd3d37 93%,#bf3737 100%)"></div><div style="top:467.54px;height:1.05px;background:linear-gradient(90deg,#bd3637 0%,#c43837 5%,#c83a37 10%,#b13137 15%,#c83a37 20%,#d44a3c 25%,#db5942 31%,#e87e52 36%,#ee9c5f 41%,#e87d52 46%,#ee9c60 53%,#f0aa68 58%,#e7774f 63%,#e7744d 68%,#d64f3e 73%,#d1453a 78%,#d2473b 83%,#d3483b 88%,#cd3d37 93%,#d1453a 100%)"></div><div style="top:468.54px;height:1.05px;background:linear-gradient(90deg,#ba3537 0%,#ce3f38 5%,#b83437 10%,#c33837 15%,#d64f3e 20%,#ce3f38 25%,#d95541 31%,#e97f52 36%,#f0ae6b 41%,#ec925b 46%,#e87c51 53%,#ea8756 58%,#ed965d 63%,#e26647 68%,#d54d3d 73%,#db5942 78%,#d04239 83%,#d1443a 88%,#cc3b37 93%,#d44b3d 100%)"></div><div style="top:469.54px;height:1.05px;background:linear-gradient(90deg,#b63337 0%,#c33837 5%,#bd3637 10%,#c43837 15%,#cd3d37 20%,#d95541 25%,#c73a37 31%,#e7784f 36%,#e6704c 41%,#de5f45 46%,#e06246 53%,#f0a766 58%,#ee9c5f 63%,#dd5d44 68%,#ce3e38 73%,#c93a37 78%,#c73937 83%,#d2463b 88%,#b63437 93%,#bd3637 100%)"></div><div style="top:470.54px;height:1.05px;background:linear-gradient(90deg,#b33237 0%,#c83a37 5%,#ba3537 10%,#c23837 15%,#cd3d37 20%,#cd3c37 25%,#bf3737 31%,#cc3b37 36%,#d0433a 41%,#e46a49 46%,#ea8756 53%,#e06346 58%,#e26748 63%,#e06246 68%,#d04239 73%,#c43837 78%,#c53937 83%,#bd3637 88%,#ae3137 93%,#c23837 100%)"></div><div style="top:471.54px;height:1.05px;background:linear-gradient(90deg,#bc3537 0%,#c73a37 5%,#bb3537 10%,#cb3b37 15%,#b63337 20%,#cf4038 25%,#d64e3e 31%,#e66e4b 36%,#e26648 41%,#de5f45 46%,#e66e4b 53%,#eb8d59 58%,#e06346 63%,#e7744d 68%,#d85340 73%,#be3637 78%,#c43937 83%,#ca3a37 88%,#c43837 93%,#bb3537 100%)"></div><div style="top:472.54px;height:1.05px;background:linear-gradient(90deg,#cb3b37 0%,#cc3b37 5%,#ba3537 10%,#b53337 15%,#c13737 20%,#c53937 25%,#cc3b37 31%,#de5f45 36%,#ed965d 41%,#e7784f 46%,#e7764e 53%,#eb8a57 58%,#e26647 63%,#d04239 68%,#cb3b37 73%,#be3637 78%,#ca3b37 83%,#af3137 88%,#cb3b37 93%,#c63937 100%)"></div><div style="top:473.55px;height:1.05px;background:linear-gradient(90deg,#cb3b37 0%,#c03737 5%,#c63937 10%,#be3637 15%,#c73a37 20%,#c83a37 25%,#da5641 31%,#e87c51 36%,#e87d52 41%,#e7754e 46%,#ed965d 53%,#eb8a57 58%,#ec935c 63%,#da5741 68%,#d3483b 73%,#cf4038 78%,#c43937 83%,#ca3b37 88%,#cd3c37 93%,#cf4038 100%)"></div><div style="top:474.55px;height:1.05px;background:linear-gradient(90deg,#ba3537 0%,#b33237 5%,#c83a37 10%,#bb3537 15%,#b83437 20%,#cf4139 25%,#da5641 31%,#d85340 36%,#da5741 41%,#eb8d59 46%,#d3493c 53%,#ed975d 58%,#e7784f 63%,#d85340 68%,#d54c3d 73%,#c63937 78%,#b43337 83%,#c03737 88%,#bb3537 93%,#ce3e38 100%)"></div><div style="top:475.55px;height:1.05px;background:linear-gradient(90deg,#c13737 0%,#c03737 5%,#be3637 10%,#be3637 15%,#c23837 20%,#c23837 25%,#c43837 31%,#de5f45 36%,#df6145 41%,#e16447 46%,#de5e44 53%,#ea8957 58%,#dd5d44 63%,#cf4038 68%,#bc3537 73%,#bd3637 78%,#c53937 83%,#c43837 88%,#c23837 93%,#b23237 100%)"></div><div style="top:476.55px;height:1.05px;background:linear-gradient(90deg,#bc3637 0%,#b83437 5%,#c73937 10%,#bd3637 15%,#b53337 20%,#bc3637 25%,#d95541 31%,#d54c3d 36%,#e66f4b 41%,#e06346 46%,#e97e52 53%,#f0a564 58%,#da5742 63%,#d1443a 68%,#d2473b 73%,#cf4038 78%,#c33837 83%,#c03737 88%,#cd3c37 93%,#c43937 100%)"></div><div style="top:477.55px;height:1.05px;background:linear-gradient(90deg,#ad3037 0%,#b43337 5%,#cb3b37 10%,#b43337 15%,#ca3a37 20%,#c93a37 25%,#d0433a 31%,#ce3e37 36%,#d44b3d 41%,#d3483b 46%,#e66e4b 53%,#e87b51 58%,#d85340 63%,#c63937 68%,#c73937 73%,#c23837 78%,#c03737 83%,#c13837 88%,#c43837 93%,#c13737 100%)"></div><div style="top:478.55px;height:1.05px;background:linear-gradient(90deg,#b73437 0%,#af3137 5%,#b63337 10%,#c13737 15%,#b63437 20%,#c33837 25%,#c83a37 31%,#ce3f38 36%,#d54c3d 41%,#d1443a 46%,#d3483c 53%,#db5842 58%,#dd5c44 63%,#c83a37 68%,#c43837 73%,#b33237 78%,#b73437 83%,#bc3537 88%,#b23237 93%,#b73437 100%)"></div><div style="top:479.55px;height:1.05px;background:linear-gradient(90deg,#b83437 0%,#ba3537 5%,#b43337 10%,#b73437 15%,#bc3637 20%,#c53937 25%,#cf4139 31%,#d3493c 36%,#dc5a43 41%,#d54c3d 46%,#e6724d 53%,#e36949 58%,#d3483c 63%,#d44b3d 68%,#cd3c37 73%,#c63937 78%,#c83a37 83%,#b83437 88%,#c43937 93%,#bd3637 100%)"></div><div style="top:480.55px;height:1.05px;background:linear-gradient(90deg,#ba3537 0%,#b73437 5%,#b83437 10%,#c13737 15%,#c53937 20%,#c23837 25%,#c23837 31%,#c63937 36%,#da5641 41%,#de5e44 46%,#d44a3c 53%,#d1453a 58%,#df6145 63%,#c93a37 68%,#c33837 73%,#c33837 78%,#b93537 83%,#bc3637 88%,#b63337 93%,#b53337 100%)"></div><div style="top:481.55px;height:1.05px;background:linear-gradient(90deg,#ad3037 0%,#b03137 5%,#ba3537 10%,#c33837 15%,#bd3637 20%,#b63437 25%,#cc3b37 31%,#d04239 36%,#d1443a 41%,#d1443a 46%,#cf4139 53%,#e6724c 58%,#cd3d37 63%,#c83a37 68%,#c73a37 73%,#b23237 78%,#b33237 83%,#aa2f37 88%,#b43337 93%,#ad3037 100%)"></div><div style="top:482.55px;height:1.05px;background:linear-gradient(90deg,#aa2f37 0%,#b23237 5%,#bb3537 10%,#b83437 15%,#af3137 20%,#c13837 25%,#b83437 31%,#bb3537 36%,#c53937 41%,#c83a37 46%,#ce3e37 53%,#c73a37 58%,#c53937 63%,#bf3737 68%,#b53337 73%,#b63337 78%,#bb3537 83%,#b83437 88%,#bf3737 93%,#ac3037 100%)"></div><div style="top:483.55px;height:1.05px;background:linear-gradient(90deg,#bf3737 0%,#b73437 5%,#b63337 10%,#c13737 15%,#be3637 20%,#ca3a37 25%,#bb3537 31%,#c53937 36%,#cf4038 41%,#c03737 46%,#c83a37 53%,#d8523f 58%,#d3483c 63%,#c93a37 68%,#c03737 73%,#c13837 78%,#ba3537 83%,#af3137 88%,#b63437 93%,#b73437 100%)"></div><div style="top:484.56px;height:1.05px;background:linear-gradient(90deg,#b03137 0%,#a82f37 5%,#a92f37 10%,#b33237 15%,#b03137 20%,#a92f37 25%,#b63337 31%,#bb3537 36%,#bf3737 41%,#c53937 46%,#c73937 53%,#bd3637 58%,#c33837 63%,#ad3037 68%,#b13237 73%,#aa2f37 78%,#b33237 83%,#ac3037 88%,#a82e37 93%,#ae3137 100%)"></div><div style="top:485.56px;height:1.05px;background:linear-gradient(90deg,#ba3537 0%,#b43337 5%,#b43337 10%,#b63437 15%,#bb3537 20%,#c03737 25%,#b63337 31%,#d3483c 36%,#cc3b37 41%,#c43937 46%,#d44a3c 53%,#da5641 58%,#ce3f38 63%,#bd3637 68%,#c23837 73%,#c13737 78%,#ba3537 83%,#c23837 88%,#b23237 93%,#ae3137 100%)"></div><div style="top:486.56px;height:1.05px;background:linear-gradient(90deg,#b13237 0%,#b13237 5%,#ac3037 10%,#b23237 15%,#b23237 20%,#bc3637 25%,#ac3037 31%,#bf3737 36%,#c93a37 41%,#b23237 46%,#d0433a 53%,#da5641 58%,#d3483b 63%,#c73a37 68%,#bb3537 73%,#bd3637 78%,#c13737 83%,#b63337 88%,#b93537 93%,#b03137 100%)"></div><div style="top:487.56px;height:1.05px;background:linear-gradient(90deg,#ad3037 0%,#a82f37 5%,#ad3037 10%,#a82e37 15%,#a92f37 20%,#ba3537 25%,#ad3037 31%,#b03137 36%,#c03737 41%,#be3637 46%,#cb3b37 53%,#b43337 58%,#b73437 63%,#b63337 68%,#a92f37 73%,#b23237 78%,#ac3037 83%,#af3137 88%,#b73437 93%,#b93437 100%)"></div><div style="top:488.56px;height:1.05px;background:linear-gradient(90deg,#b83437 0%,#b23237 5%,#b03137 10%,#b03137 15%,#b93437 20%,#b93437 25%,#b73437 31%,#c33837 36%,#c03737 41%,#c33837 46%,#c43837 53%,#c43937 58%,#c73a37 63%,#bb3537 68%,#b83437 73%,#ba3537 78%,#b53337 83%,#bb3537 88%,#ae3137 93%,#b03137 100%)"></div><div style="top:489.56px;height:1.05px;background:linear-gradient(90deg,#b43337 0%,#b33237 5%,#b53337 10%,#be3637 15%,#a92f37 20%,#b43337 25%,#b03137 31%,#bc3637 36%,#c33837 41%,#ba3537 46%,#a92f37 53%,#c73a37 58%,#b73437 63%,#c03737 68%,#ba3537 73%,#b33237 78%,#af3137 83%,#b43337 88%,#b73437 93%,#b93437 100%)"></div><div style="top:490.56px;height:1.05px;background:linear-gradient(90deg,#b83437 0%,#b23237 5%,#b43337 10%,#ae3137 15%,#b93537 20%,#b33237 25%,#bb3537 31%,#ba3537 36%,#c73937 41%,#c93a37 46%,#c83a37 53%,#c53937 58%,#bf3737 63%,#c13737 68%,#b43337 73%,#b93437 78%,#b63337 83%,#b23237 88%,#b73437 93%,#b03137 100%)"></div><div style="top:491.56px;height:1.05px;background:linear-gradient(90deg,#a92f37 0%,#b43337 5%,#a82e37 10%,#ab2f37 15%,#b63437 20%,#ad3037 25%,#b83437 31%,#b93537 36%,#bb3537 41%,#b53337 46%,#b73437 53%,#c13737 58%,#be3637 63%,#af3137 68%,#ab2f37 73%,#aa2f37 78%,#a82e37 83%,#b83437 88%,#b73437 93%,#ab2f37 100%)"></div><div style="top:492.56px;height:1.05px;background:linear-gradient(90deg,#b13237 0%,#ad3037 5%,#ab2f37 10%,#af3137 15%,#ae3037 20%,#b13237 25%,#b13237 31%,#ae3137 36%,#b63337 41%,#b53337 46%,#be3637 53%,#c13737 58%,#c53937 63%,#bc3637 68%,#ac3037 73%,#b23237 78%,#a62e38 83%,#ba3537 88%,#af3137 93%,#b03137 100%)"></div><div style="top:493.56px;height:1.05px;background:linear-gradient(90deg,#b53337 0%,#b83437 5%,#b13237 10%,#af3137 15%,#b03137 20%,#bd3637 25%,#b73437 31%,#bb3537 36%,#ba3537 41%,#c23837 46%,#b03137 53%,#b93537 58%,#ba3537 63%,#b53337 68%,#b23237 73%,#b33237 78%,#b13237 83%,#c13837 88%,#b63437 93%,#ae3137 100%)"></div><div style="top:494.57px;height:1.05px;background:linear-gradient(90deg,#bd3637 0%,#ae3037 5%,#bc3637 10%,#ad3037 15%,#b53337 20%,#bc3637 25%,#b23237 31%,#b33237 36%,#b93437 41%,#b63437 46%,#c63937 53%,#c43837 58%,#ba3537 63%,#bd3637 68%,#bd3637 73%,#b43337 78%,#bf3737 83%,#b83437 88%,#b23237 93%,#bc3637 100%)"></div><div style="top:495.57px;height:1.05px;background:linear-gradient(90deg,#a62e38 0%,#ad3037 5%,#a62e38 10%,#ac3037 15%,#a62e37 20%,#b63337 25%,#a62e38 31%,#ae3137 36%,#b73437 41%,#b53337 46%,#b03137 53%,#ac3037 58%,#b03137 63%,#ab2f37 68%,#a92f37 73%,#b53337 78%,#b03137 83%,#ab2f37 88%,#ae3137 93%,#a82e37 100%)"></div><div style="top:496.57px;height:1.05px;background:linear-gradient(90deg,#b83437 0%,#aa2f37 5%,#ae3137 10%,#a72e37 15%,#ad3037 20%,#ae3137 25%,#af3137 31%,#af3137 36%,#b93537 41%,#b83437 46%,#b53337 53%,#b03137 58%,#ba3537 63%,#b53337 68%,#ad3037 73%,#ac3037 78%,#b03137 83%,#b13237 88%,#ae3137 93%,#a62e37 100%)"></div><div style="top:497.57px;height:1.05px;background:linear-gradient(90deg,#ad3037 0%,#b23237 5%,#ad3037 10%,#b13237 15%,#ad3037 20%,#aa2f37 25%,#b53337 31%,#b33237 36%,#b73437 41%,#b33237 46%,#b73437 53%,#af3137 58%,#b53337 63%,#b13237 68%,#b13237 73%,#b33237 78%,#a72e37 83%,#ab3037 88%,#a92f37 93%,#af3137 100%)"></div><div style="top:498.57px;height:1.05px;background:linear-gradient(90deg,#b53337 0%,#ab3037 5%,#b73437 10%,#a82e37 15%,#b13237 20%,#aa2f37 25%,#b73437 31%,#b93437 36%,#ad3037 41%,#ad3037 46%,#b93537 53%,#b63337 58%,#ac3037 63%,#b83437 68%,#a62e37 73%,#b13237 78%,#bd3637 83%,#af3137 88%,#ae3037 93%,#b03137 100%)"></div><div style="top:499.57px;height:1.05px;background:linear-gradient(90deg,#b13237 0%,#ad3037 5%,#a92f37 10%,#ae3137 15%,#b73437 20%,#b23237 25%,#bb3537 31%,#b63437 36%,#bc3637 41%,#ba3537 46%,#b83437 53%,#c23837 58%,#b53337 63%,#ba3537 68%,#b43337 73%,#ba3537 78%,#bb3537 83%,#b23237 88%,#aa2f37 93%,#ab2f37 100%)"></div><div style="top:500.57px;height:1.05px;background:linear-gradient(90deg,#ab2f37 0%,#a62e38 5%,#a92f37 10%,#ac3037 15%,#ad3037 20%,#b23237 25%,#aa2f37 31%,#a82f37 36%,#b03137 41%,#ba3537 46%,#ac3037 53%,#ac3037 58%,#b33237 63%,#b13237 68%,#ad3037 73%,#b03137 78%,#a62e38 83%,#af3137 88%,#b03137 93%,#aa2f37 100%)"></div><div style="top:501.57px;height:1.05px;background:linear-gradient(90deg,#af3137 0%,#af3137 5%,#af3137 10%,#ad3037 15%,#aa2f37 20%,#ac3037 25%,#a82e37 31%,#af3137 36%,#b33337 41%,#ae3137 46%,#c03737 53%,#ba3537 58%,#ae3137 63%,#b43337 68%,#ac3037 73%,#ab2f37 78%,#ac3037 83%,#a92f37 88%,#b43337 93%,#ae3137 100%)"></div><div style="top:502.57px;height:1.05px;background:linear-gradient(90deg,#b23237 0%,#ad3037 5%,#a92f37 10%,#ad3037 15%,#b03137 20%,#ac3037 25%,#b03137 31%,#ad3037 36%,#ac3037 41%,#b13237 46%,#c33837 53%,#b23237 58%,#b03137 63%,#ab2f37 68%,#ac3037 73%,#a62e37 78%,#a62e38 83%,#ad3037 88%,#ae3137 93%,#b03137 100%)"></div><div style="top:503.57px;height:1.05px;background:linear-gradient(90deg,#a62e37 0%,#b13237 5%,#b43337 10%,#b13237 15%,#b53337 20%,#b83437 25%,#af3137 31%,#b83437 36%,#a82e37 41%,#a62e38 46%,#a62e38 53%,#ac3037 58%,#b33237 63%,#ac3037 68%,#b53337 73%,#a72e37 78%,#b03137 83%,#ad3037 88%,#b23237 93%,#aa2f37 100%)"></div><div style="top:504.58px;height:1.05px;background:linear-gradient(90deg,#aa2f37 0%,#ac3037 5%,#a82f37 10%,#b03137 15%,#ad3037 20%,#ac3037 25%,#b23237 31%,#aa2f37 36%,#ac3037 41%,#a62e38 46%,#a72e37 53%,#b73437 58%,#ba3537 63%,#af3137 68%,#ab3037 73%,#a62e38 78%,#ae3137 83%,#a82f37 88%,#af3137 93%,#a62e37 100%)"></div><div style="top:505.58px;height:1.05px;background:linear-gradient(90deg,#a82e37 0%,#ac3037 5%,#b23237 10%,#a72e37 15%,#ac3037 20%,#ad3037 25%,#a82e37 31%,#ae3137 36%,#ad3037 41%,#a92f37 46%,#aa2f37 53%,#a72e37 58%,#ad3037 63%,#b43337 68%,#b33237 73%,#b13237 78%,#a92f37 83%,#a62e38 88%,#ab2f37 93%,#b13237 100%)"></div><div style="top:506.58px;height:1.05px;background:linear-gradient(90deg,#aa2f37 0%,#a62e38 5%,#a92f37 10%,#a62e38 15%,#ad3037 20%,#a62e37 25%,#af3137 31%,#b13237 36%,#af3137 41%,#b03137 46%,#b23237 53%,#af3137 58%,#a82e37 63%,#a72e37 68%,#a62e37 73%,#ab2f37 78%,#a62e38 83%,#ad3037 88%,#af3137 93%,#a82e37 100%)"></div><div style="top:507.58px;height:1.05px;background:linear-gradient(90deg,#ab3037 0%,#b13237 5%,#a92f37 10%,#ab2f37 15%,#ad3037 20%,#ad3037 25%,#b13237 31%,#ad3037 36%,#b43337 41%,#b23237 46%,#b53337 53%,#ae3037 58%,#b23237 63%,#ab2f37 68%,#a82e37 73%,#ba3537 78%,#b53337 83%,#af3137 88%,#aa2f37 93%,#b23237 100%)"></div><div style="top:508.58px;height:1.05px;background:linear-gradient(90deg,#aa2f37 0%,#a82f37 5%,#a92f37 10%,#aa2f37 15%,#ac3037 20%,#ac3037 25%,#a92f37 31%,#a72e37 36%,#b73437 41%,#b53337 46%,#ad3037 53%,#a72e37 58%,#b23237 63%,#ac3037 68%,#ad3037 73%,#b03137 78%,#aa2f37 83%,#ab2f37 88%,#b13237 93%,#ad3037 100%)"></div><div style="top:509.58px;height:1.05px;background:linear-gradient(90deg,#af3137 0%,#ac3037 5%,#ad3037 10%,#ac3037 15%,#b33237 20%,#b13137 25%,#b23237 31%,#b33237 36%,#b13237 41%,#b33237 46%,#ae3037 53%,#ab3037 58%,#aa2f37 63%,#ad3037 68%,#ad3037 73%,#a62e38 78%,#ad3037 83%,#a62e38 88%,#aa2f37 93%,#a82e37 100%)"></div><div style="top:510.58px;height:1.05px;background:linear-gradient(90deg,#a72e37 0%,#a82e37 5%,#ae3137 10%,#b23237 15%,#a82e37 20%,#a62e37 25%,#a62e37 31%,#a82e37 36%,#aa2f37 41%,#a92f37 46%,#a82e37 53%,#ad3037 58%,#aa2f37 63%,#af3137 68%,#ad3037 73%,#ae3037 78%,#ab2f37 83%,#ae3037 88%,#aa2f37 93%,#a62e38 100%)"></div><div style="top:511.58px;height:1.05px;background:linear-gradient(90deg,#a92f37 0%,#ac3037 5%,#ac3037 10%,#b33237 15%,#a62e38 20%,#b03137 25%,#ad3037 31%,#ac3037 36%,#ac3037 41%,#ba3537 46%,#b03137 53%,#a62e38 58%,#b03137 63%,#ac3037 68%,#af3137 73%,#a62e37 78%,#b23237 83%,#aa2f37 88%,#a62e38 93%,#ac3037 100%)"></div><div style="top:512.58px;height:1.05px;background:linear-gradient(90deg,#a92f37 0%,#ad3037 5%,#a62e38 10%,#ad3037 15%,#ae3137 20%,#ad3037 25%,#ab2f37 31%,#aa2f37 36%,#ab3037 41%,#b03137 46%,#a62e37 53%,#ac3037 58%,#a82f37 63%,#a92f37 68%,#a62e38 73%,#a62e38 78%,#ab3037 83%,#a62e37 88%,#b13237 93%,#ac3037 100%)"></div><div style="top:513.58px;height:1.05px;background:linear-gradient(90deg,#a62e38 0%,#ad3037 5%,#a72e37 10%,#aa2f37 15%,#a82e37 20%,#ac3037 25%,#a62e38 31%,#ab3037 36%,#ac3037 41%,#a82f37 46%,#a92f37 53%,#a92f37 58%,#ab2f37 63%,#ad3037 68%,#a62e38 73%,#ab3037 78%,#a92f37 83%,#a92f37 88%,#ac3037 93%,#aa2f37 100%)"></div><div style="top:514.59px;height:1.05px;background:linear-gradient(90deg,#ab3037 0%,#a92f37 5%,#a72e37 10%,#b03137 15%,#ab3037 20%,#a82e37 25%,#af3137 31%,#af3137 36%,#af3137 41%,#ab3037 46%,#a82e37 53%,#a72e37 58%,#aa2f37 63%,#a82f37 68%,#a62e38 73%,#a62e37 78%,#a82e37 83%,#a82e37 88%,#a62e38 93%,#a72e37 100%)"></div><div style="top:515.59px;height:1.05px;background:linear-gradient(90deg,#ab2f37 0%,#a62e38 5%,#aa2f37 10%,#b13237 15%,#a62e37 20%,#ac3037 25%,#af3137 31%,#aa2f37 36%,#a62e38 41%,#a62e37 46%,#b43337 53%,#ac3037 58%,#aa2f37 63%,#af3137 68%,#b43337 73%,#a62e38 78%,#ab2f37 83%,#a82e37 88%,#a82e37 93%,#aa2f37 100%)"></div><div style="top:516.59px;height:1.05px;background:linear-gradient(90deg,#a62e38 0%,#a62e38 5%,#ad3037 10%,#a62e38 15%,#a62e37 20%,#a72e37 25%,#a62e38 31%,#ae3037 36%,#ad3037 41%,#ab2f37 46%,#ab3037 53%,#af3137 58%,#aa2f37 63%,#ab3037 68%,#ac3037 73%,#ad3037 78%,#a62e38 83%,#ad3037 88%,#a92f37 93%,#a92f37 100%)"></div><div style="top:517.59px;height:1.05px;background:linear-gradient(90deg,#a72e37 0%,#ab2f37 5%,#ab2f37 10%,#af3137 15%,#a72e37 20%,#a82e37 25%,#af3137 31%,#ae3137 36%,#b33237 41%,#aa2f37 46%,#ad3037 53%,#ad3037 58%,#ab3037 63%,#a72e37 68%,#aa2f37 73%,#ab3037 78%,#ac3037 83%,#a62e38 88%,#ad3037 93%,#b13237 100%)"></div><div style="top:518.59px;height:1.05px;background:linear-gradient(90deg,#ad3037 0%,#a82e37 5%,#ab3037 10%,#a62e37 15%,#af3137 20%,#a92f37 25%,#a62e38 31%,#ac3037 36%,#ab3037 41%,#af3137 46%,#ac3037 53%,#a92f37 58%,#aa2f37 63%,#a62e38 68%,#ac3037 73%,#af3137 78%,#a92f37 83%,#a62e38 88%,#a62e38 93%,#a92f37 100%)"></div><div style="top:519.59px;height:1.05px;background:linear-gradient(90deg,#a82f37 0%,#ab2f37 5%,#aa2f37 10%,#a82e37 15%,#ae3137 20%,#a72e37 25%,#a72e37 31%,#b13137 36%,#a62e37 41%,#a72e37 46%,#a62e38 53%,#a62e37 58%,#ae3137 63%,#ad3037 68%,#a92f37 73%,#ae3137 78%,#a92f37 83%,#a62e38 88%,#a92f37 93%,#a62e37 100%)"></div><div style="top:520.59px;height:1.05px;background:linear-gradient(90deg,#b23237 0%,#a62e38 5%,#b13137 10%,#a62e38 15%,#a62e38 20%,#ab2f37 25%,#a92f37 31%,#a62e38 36%,#a62e38 41%,#ae3137 46%,#ac3037 53%,#a92f37 58%,#ab2f37 63%,#a62e37 68%,#a62e38 73%,#ad3037 78%,#a62e38 83%,#a92f37 88%,#a82e37 93%,#a72e37 100%)"></div><div style="top:521.59px;height:1.05px;background:linear-gradient(90deg,#a62e37 0%,#a62e38 5%,#a92f37 10%,#aa2f37 15%,#a72e37 20%,#a92f37 25%,#aa2f37 31%,#af3137 36%,#a92f37 41%,#a72e37 46%,#b33237 53%,#ac3037 58%,#a62e38 63%,#a62e38 68%,#a82e37 73%,#a62e38 78%,#a62e38 83%,#a62e38 88%,#b03137 93%,#a62e38 100%)"></div><div style="top:522.59px;height:1.05px;background:linear-gradient(90deg,#a72e37 0%,#ad3037 5%,#a62e37 10%,#a62e38 15%,#a62e38 20%,#a82e37 25%,#ae3137 31%,#ae3137 36%,#a62e38 41%,#ac3037 46%,#a62e38 53%,#a62e37 58%,#a92f37 63%,#a82e37 68%,#a62e37 73%,#a82f37 78%,#b03137 83%,#a62e37 88%,#aa2f37 93%,#a82f37 100%)"></div><div style="top:523.59px;height:1.05px;background:linear-gradient(90deg,#a92f37 0%,#a62e38 5%,#a82e37 10%,#b33237 15%,#aa2f37 20%,#aa2f37 25%,#aa2f37 31%,#af3137 36%,#a72e37 41%,#b03137 46%,#a82e37 53%,#b03137 58%,#a72e37 63%,#a62e38 68%,#ab3037 73%,#a82e37 78%,#ab2f37 83%,#aa2f37 88%,#a62e38 93%,#a82e37 100%)"></div><div style="top:524.60px;height:1.05px;background:linear-gradient(90deg,#a82e37 0%,#a62e38 5%,#ac3037 10%,#a92f37 15%,#a82f37 20%,#aa2f37 25%,#a62e38 31%,#a82e37 36%,#a62e38 41%,#aa2f37 46%,#a62e38 53%,#a62e38 58%,#aa2f37 63%,#a62e38 68%,#aa2f37 73%,#af3137 78%,#ab2f37 83%,#a82e37 88%,#ac3037 93%,#aa2f37 100%)"></div><div style="top:525.60px;height:1.05px;background:linear-gradient(90deg,#af3137 0%,#a62e37 5%,#a62e38 10%,#b03137 15%,#a62e38 20%,#aa2f37 25%,#ad3037 31%,#a62e37 36%,#ae3137 41%,#a62e37 46%,#ae3037 53%,#a62e38 58%,#a72e37 63%,#a82f37 68%,#ab2f37 73%,#a62e38 78%,#ad3037 83%,#a62e37 88%,#a62e38 93%,#a62e38 100%)"></div><div style="top:526.60px;height:1.05px;background:linear-gradient(90deg,#ab2f37 0%,#a82e37 5%,#a92f37 10%,#a92f37 15%,#ad3037 20%,#b03137 25%,#a72e37 31%,#a62e37 36%,#ac3037 41%,#a62e38 46%,#ad3037 53%,#a62e38 58%,#a62e38 63%,#a92f37 68%,#a62e38 73%,#b73437 78%,#b03137 83%,#ae3137 88%,#a72e37 93%,#a92f37 100%)"></div><div style="top:527.60px;height:1.05px;background:linear-gradient(90deg,#a62e38 0%,#a72e37 5%,#a82f37 10%,#b03137 15%,#a62e38 20%,#a62e38 25%,#ab2f37 31%,#a62e38 36%,#ac3037 41%,#a92f37 46%,#a62e37 53%,#a62e38 58%,#a92f37 63%,#aa2f37 68%,#a62e38 73%,#ae3037 78%,#a72e37 83%,#a62e38 88%,#aa2f37 93%,#ac3037 100%)"></div><div style="top:528.60px;height:1.05px;background:linear-gradient(90deg,#b23237 0%,#b03137 5%,#a92f37 10%,#aa2f37 15%,#a62e37 20%,#a62e38 25%,#a62e38 31%,#a62e37 36%,#a62e38 41%,#a62e38 46%,#a62e38 53%,#a82f37 58%,#a82e37 63%,#af3137 68%,#a92f37 73%,#a62e38 78%,#a62e38 83%,#a62e38 88%,#a82e37 93%,#a62e37 100%)"></div></div>
<div class="hm" style="left:334.3px;top:0;width:116.0px"><div style="top:427.50px;height:1.05px;background:linear-gradient(90deg,#f5df9a 0%,#f5da92 5%,#ee9c60 10%,#f4cd84 15%,#f2c17a 20%,#f1af6c 25%,#f7efb7 31%,#ebf0d5 36%,#f7f2be 41%,#f1f1c9 46%,#8eb9d4 53%,#add5e3 58%,#5078b3 63%,#5078b3 68%,#85b1d1 73%,#cee5e6 78%,#f6e9ac 83%,#f6e19e 88%,#f5d78d 93%,#f4cd84 100%)"></div><div style="top:428.50px;height:1.05px;background:linear-gradient(90deg,#f5dc95 0%,#f3cc83 5%,#f6e7aa 10%,#f1af6c 15%,#f5d990 20%,#f5dd97 25%,#f4d58a 31%,#f5db93 36%,#eff1cd 41%,#e7efdd 46%,#b3d9e4 53%,#5078b3 58%,#5078b3 63%,#5078b3 68%,#e5efdf 73%,#edf0d1 78%,#ddece7 83%,#f5d78d 88%,#f5de98 93%,#f3f1c7 100%)"></div><div style="top:429.50px;height:1.05px;background:linear-gradient(90deg,#f7e9ad 0%,#f5d78c 5%,#f6e19f 10%,#f3c980 15%,#f7f0b9 20%,#f5db93 25%,#f5f2c3 31%,#eef0cf 36%,#c9e2e6 41%,#b1d8e4 46%,#537eb7 53%,#5078b3 58%,#5078b3 63%,#5078b3 68%,#5078b3 73%,#5078b3 78%,#c3e0e5 83%,#f7f1ba 88%,#f6e4a3 93%,#f7f1bc 100%)"></div><div style="top:430.50px;height:1.05px;background:linear-gradient(90deg,#f6e5a6 0%,#f5dc96 5%,#f1b26e 10%,#f5d98f 15%,#f6e29f 20%,#f4d086 25%,#f2c17b 31%,#f7ebb0 36%,#f4f2c3 41%,#dfede7 46%,#cde5e6 53%,#6a97c3 58%,#5e8bbd 63%,#5078b3 68%,#6e9bc5 73%,#82afcf 78%,#bbdce5 83%,#f5db94 88%,#f6e09c 93%,#f7e9ad 100%)"></div><div style="top:431.50px;height:1.05px;background:linear-gradient(90deg,#ea8656 0%,#eb8b58 5%,#f1b06d 10%,#ec925b 15%,#ed975d 20%,#db5842 25%,#e98354 31%,#ea8656 36%,#f6e9ac 41%,#f6e6a8 46%,#f6e09d 53%,#d3e7e6 58%,#f5f2c2 63%,#e1eee6 68%,#f6e4a3 73%,#efa061 78%,#f3c37c 83%,#ee9a5f 88%,#efa363 93%,#e6724c 100%)"></div><div style="top:432.50px;height:1.05px;background:linear-gradient(90deg,#f3c67f 0%,#ec915b 5%,#f0ab68 10%,#f3cc83 15%,#e98153 20%,#f0a664 25%,#f0ad6a 31%,#f3c37c 36%,#f5d78c 41%,#eef0d0 46%,#608dbe 53%,#c5e1e5 58%,#5078b3 63%,#73a0c8 68%,#97c1d9 73%,#c4e0e5 78%,#f5df9b 83%,#f2bb75 88%,#ee9c60 93%,#f4d187 100%)"></div><div style="top:433.51px;height:1.05px;background:linear-gradient(90deg,#e56d4a 0%,#e98254 5%,#ec915b 10%,#efa363 15%,#f1b773 20%,#ea8455 25%,#e16547 31%,#f2c27b 36%,#f3cb82 41%,#f7efb8 46%,#f7f2be 53%,#9ac4da 58%,#92bdd6 63%,#8bb6d3 68%,#96c1d8 73%,#edf0d1 78%,#f6e6a7 83%,#f2b974 88%,#f6e3a2 93%,#f0ad6a 100%)"></div><div style="top:434.51px;height:1.05px;background:linear-gradient(90deg,#eb8e59 0%,#ec905a 5%,#ec945c 10%,#ea8555 15%,#f0ac69 20%,#ec8f5a 25%,#f0a866 31%,#f1b772 36%,#f7ecb3 41%,#ecf0d2 46%,#c2e0e5 53%,#77a4ca 58%,#537db6 63%,#5078b3 68%,#e0ede7 73%,#c6e1e5 78%,#eef0cf 83%,#f5de99 88%,#f3c880 93%,#f1b873 100%)"></div><div style="top:435.51px;height:1.05px;background:linear-gradient(90deg,#cf4139 0%,#efa463 5%,#ea8756 10%,#e06246 15%,#e66e4b 20%,#e87b51 25%,#e6704c 31%,#e36949 36%,#e6704c 41%,#f4cd84 46%,#f7eaae 53%,#f7edb3 58%,#7ca9cc 63%,#a3ccde 68%,#f6e3a2 73%,#ebf0d4 78%,#f3c981 83%,#ec915b 88%,#e98254 93%,#ed985e 100%)"></div><div style="top:436.51px;height:1.05px;background:linear-gradient(90deg,#e7784f 0%,#ec935c 5%,#eb8b58 10%,#f1af6c 15%,#e7764e 20%,#f0a866 25%,#ee9d60 31%,#f2c27b 36%,#f7ecb2 41%,#f1b772 46%,#d6e9e7 53%,#e8efd9 58%,#a9d1e1 63%,#5078b3 68%,#99c3d9 73%,#e6efdd 78%,#f6e7a9 83%,#f2f1c7 88%,#f4d389 93%,#e26748 100%)"></div><div style="top:437.51px;height:1.05px;background:linear-gradient(90deg,#ea8555 0%,#ee9d60 5%,#f1b36f 10%,#f0ad6a 15%,#f1b873 20%,#eb8e59 25%,#f2bb76 31%,#f0ab69 36%,#f3cb82 41%,#f7f1bb 46%,#a1cadd 53%,#93bed7 58%,#9bc5da 63%,#8db8d4 68%,#6794c2 73%,#d5e8e7 78%,#f6e8aa 83%,#f4d187 88%,#f1b873 93%,#ed985e 100%)"></div><div style="top:438.51px;height:1.05px;background:linear-gradient(90deg,#f2bb76 0%,#e56d4a 5%,#ed955d 10%,#f3c67f 15%,#f4cf85 20%,#ed995e 25%,#f5d78d 31%,#f7e9ad 36%,#f3c77f 41%,#ecf0d3 46%,#b4d9e4 53%,#9bc5db 58%,#74a1c8 63%,#74a1c8 68%,#5a87bb 73%,#cfe5e6 78%,#f4f2c5 83%,#f4d086 88%,#f3c57d 93%,#f5da92 100%)"></div><div style="top:439.51px;height:1.05px;background:linear-gradient(90deg,#ed975d 0%,#ee9b5f 5%,#f0ad6a 10%,#ea8756 15%,#ec905a 20%,#ea8555 25%,#f0a967 31%,#f3c880 36%,#f1b470 41%,#f7f2bc 46%,#f1f1c9 53%,#b8dbe4 58%,#e2eee5 63%,#b2d8e4 68%,#c2dfe5 73%,#f6f2c0 78%,#f7f2bf 83%,#ed955c 88%,#f0a967 93%,#ee9a5f 100%)"></div><div style="top:440.51px;height:1.05px;background:linear-gradient(90deg,#ea8455 0%,#ea8856 5%,#ea8957 10%,#e46b4a 15%,#e16547 20%,#e98053 25%,#f0a967 31%,#f6e3a2 36%,#f2ba75 41%,#f7f1bc 46%,#cde5e6 53%,#94bfd7 58%,#acd4e2 63%,#7facce 68%,#abd3e2 73%,#f6e19e 78%,#f7ebb0 83%,#ed945c 88%,#f4cd84 93%,#f2bf79 100%)"></div><div style="top:441.51px;height:1.05px;background:linear-gradient(90deg,#d54c3d 0%,#df6145 5%,#dc5b43 10%,#e26748 15%,#e6724d 20%,#e16447 25%,#f0a665 31%,#e87a50 36%,#f2be78 41%,#f0a967 46%,#f6e2a0 53%,#f5dd98 58%,#e5efdf 63%,#e8efd9 68%,#dfede7 73%,#f1b671 78%,#df6145 83%,#ec925b 88%,#d54d3d 93%,#e6714c 100%)"></div><div style="top:442.51px;height:1.05px;background:linear-gradient(90deg,#ea8455 0%,#ee9e60 5%,#efa262 10%,#f4ce85 15%,#f0a866 20%,#f1b470 25%,#f3c880 31%,#f4d68b 36%,#f6e7aa 41%,#f1f1ca 46%,#a1cbdd 53%,#6b98c4 58%,#6d9ac5 63%,#5078b3 68%,#a1cbdd 73%,#e8efd9 78%,#cee5e6 83%,#f6e19f 88%,#f5df9a 93%,#f4d086 100%)"></div><div style="top:443.52px;height:1.05px;background:linear-gradient(90deg,#e26648 0%,#e46b49 5%,#e66e4b 10%,#e26647 15%,#c73937 20%,#e66f4b 25%,#e26748 31%,#e87c51 36%,#e7744e 41%,#e26748 46%,#f2c27b 53%,#f7f2be 58%,#efa061 63%,#c93a37 68%,#ee9a5f 73%,#efa463 78%,#e66e4b 83%,#ed945c 88%,#ec8f5a 93%,#e7744e 100%)"></div><div style="top:444.52px;height:1.05px;background:linear-gradient(90deg,#e6704b 0%,#e98053 5%,#ea8957 10%,#ed955c 15%,#f0ac6a 20%,#efa262 25%,#f1b772 31%,#f4cd84 36%,#f0ab68 41%,#f6e2a1 46%,#e6efdd 53%,#8bb6d3 58%,#c9e3e6 63%,#d7e9e7 68%,#d1e7e6 73%,#f7f2bf 78%,#f5d88e 83%,#f3c880 88%,#f5df9a 93%,#f2bd77 100%)"></div><div style="top:445.52px;height:1.05px;background:linear-gradient(90deg,#e7774f 0%,#de5f45 5%,#e7734d 10%,#db5842 15%,#e98254 20%,#df6146 25%,#e36949 31%,#f0a967 36%,#f5d88e 41%,#f7eeb5 46%,#f4d288 53%,#e5efdf 58%,#cbe4e6 63%,#f5f2c1 68%,#f4f2c3 73%,#f4d288 78%,#f2bb76 83%,#ec925b 88%,#f1b470 93%,#f1b06d 100%)"></div><div style="top:446.52px;height:1.05px;background:linear-gradient(90deg,#d04239 0%,#d64e3e 5%,#db5842 10%,#e36949 15%,#d64e3e 20%,#e66e4b 25%,#f0a665 31%,#ec8f5a 36%,#f5d88f 41%,#f1b470 46%,#f5dd98 53%,#e7efdc 58%,#f4d489 63%,#eff1cc 68%,#f2bd77 73%,#f1b772 78%,#e56c4a 83%,#e56c4a 88%,#eb8e59 93%,#eb8957 100%)"></div><div style="top:447.52px;height:1.05px;background:linear-gradient(90deg,#d64f3e 0%,#d95541 5%,#e36949 10%,#e6704c 15%,#e06346 20%,#e87a50 25%,#e7784f 31%,#eb8c58 36%,#efa463 41%,#efa162 46%,#f5de98 53%,#e8efda 58%,#f2f1c8 63%,#f7eaae 68%,#f4d389 73%,#f1b873 78%,#f1af6c 83%,#ec925b 88%,#e7764e 93%,#ed985e 100%)"></div><div style="top:448.52px;height:1.05px;background:linear-gradient(90deg,#d1453a 0%,#cf4038 5%,#c23837 10%,#dd5d44 15%,#d95541 20%,#e06246 25%,#e7744d 31%,#e87d51 36%,#f1af6c 41%,#f0ae6b 46%,#f6e5a5 53%,#f7f1ba 58%,#f7f2be 63%,#efa061 68%,#f4d68b 73%,#f3cb82 78%,#ec915b 83%,#ed975d 88%,#efa363 93%,#ea8455 100%)"></div><div style="top:449.52px;height:1.05px;background:linear-gradient(90deg,#e06246 0%,#da5641 5%,#dd5c44 10%,#d54d3d 15%,#e6734d 20%,#ea8555 25%,#f0a967 31%,#f0ab69 36%,#f6e6a7 41%,#f0a967 46%,#f5d990 53%,#d1e7e6 58%,#f3f2c6 63%,#f6e09c 68%,#f2bd77 73%,#f5dc95 78%,#e98254 83%,#f0a564 88%,#ec935c 93%,#f2bc76 100%)"></div><div style="top:450.52px;height:1.05px;background:linear-gradient(90deg,#e56d4a 0%,#e56d4a 5%,#e36848 10%,#de5f45 15%,#e16547 20%,#e26648 25%,#ed995e 31%,#ee9d60 36%,#efa363 41%,#ea8857 46%,#f5db94 53%,#f6e3a1 58%,#f6f2c1 63%,#f1af6c 68%,#f4d58a 73%,#ec945c 78%,#ee9b5f 83%,#e98254 88%,#e98153 93%,#ea8455 100%)"></div><div style="top:451.52px;height:1.05px;background:linear-gradient(90deg,#e66f4b 0%,#e56d4a 5%,#da5641 10%,#e6704c 15%,#ea8455 20%,#eb8a57 25%,#f2ba75 31%,#f2bf78 36%,#f4cf86 41%,#f1b16e 46%,#cae3e6 53%,#f7f2be 58%,#eaf0d6 63%,#f6e3a2 68%,#f3cb82 73%,#f5d990 78%,#ed985e 83%,#f1b773 88%,#f1b26e 93%,#ef9f61 100%)"></div><div style="top:452.52px;height:1.05px;background:linear-gradient(90deg,#c93a37 0%,#d44b3d 5%,#d0433a 10%,#ce3f38 15%,#d7503f 20%,#ce3e38 25%,#e46a49 31%,#e98153 36%,#ec945c 41%,#eb8a57 46%,#f1b873 53%,#f5db94 58%,#f0ac69 63%,#e46a49 68%,#efa263 73%,#dd5d44 78%,#e26748 83%,#e06346 88%,#e36848 93%,#d95440 100%)"></div><div style="top:453.53px;height:1.05px;background:linear-gradient(90deg,#d2473b 0%,#e16447 5%,#d64f3e 10%,#d44b3d 15%,#e06246 20%,#e46a49 25%,#e98354 31%,#ee9f61 36%,#f4d087 41%,#f1b16e 46%,#eff1cd 53%,#f5e09c 58%,#f5da93 63%,#f4d288 68%,#efa363 73%,#e98053 78%,#f1b671 83%,#f1b36f 88%,#e7734d 93%,#e87b51 100%)"></div><div style="top:454.53px;height:1.05px;background:linear-gradient(90deg,#c73a37 0%,#d04339 5%,#d04239 10%,#cc3b37 15%,#e36949 20%,#e16547 25%,#e06246 31%,#ea8555 36%,#e7744d 41%,#e98254 46%,#f5dd97 53%,#f2bb76 58%,#f5dc95 63%,#f2c27b 68%,#f0aa68 73%,#e7734d 78%,#e46a49 83%,#e7754e 88%,#e6714c 93%,#e87a50 100%)"></div><div style="top:455.53px;height:1.05px;background:linear-gradient(90deg,#d7503f 0%,#db5942 5%,#de5f45 10%,#dc5a43 15%,#d64e3e 20%,#e46a49 25%,#e98354 31%,#f1b36f 36%,#ee9b5f 41%,#f0ab69 46%,#f6e19e 53%,#e6efde 58%,#f7eaaf 63%,#f3ca81 68%,#ea8555 73%,#efa262 78%,#efa463 83%,#ec945c 88%,#ea8957 93%,#ea8756 100%)"></div><div style="top:456.53px;height:1.05px;background:linear-gradient(90deg,#bf3737 0%,#b03137 5%,#cc3b37 10%,#cf4139 15%,#cd3c37 20%,#df6045 25%,#e06346 31%,#e46b49 36%,#e7774f 41%,#d54c3d 46%,#f1b16d 53%,#ed945c 58%,#dd5c43 63%,#e7774f 68%,#df6045 73%,#ce3e37 78%,#df6045 83%,#e87d52 88%,#cc3b37 93%,#d2463b 100%)"></div><div style="top:457.53px;height:1.05px;background:linear-gradient(90deg,#d85340 0%,#c43837 5%,#cb3b37 10%,#d44b3d 15%,#e46b49 20%,#cd3d37 25%,#e7774f 31%,#e7784f 36%,#e98354 41%,#e87c51 46%,#f5db93 53%,#f2f1c7 58%,#f4d087 63%,#f0a866 68%,#ec935c 73%,#ee9f61 78%,#ea8455 83%,#ee9b5f 88%,#e16447 93%,#d2473b 100%)"></div><div style="top:458.53px;height:1.05px;background:linear-gradient(90deg,#cf4139 0%,#de5e44 5%,#cb3b37 10%,#ce3f38 15%,#e36949 20%,#d95541 25%,#ea8656 31%,#ed965d 36%,#eb8e59 41%,#e98254 46%,#f7e9ad 53%,#f4d48a 58%,#f2ba75 63%,#f5dd98 68%,#eb8d59 73%,#efa463 78%,#e36848 83%,#e16447 88%,#df6045 93%,#db5942 100%)"></div><div style="top:459.53px;height:1.05px;background:linear-gradient(90deg,#cb3b37 0%,#c13737 5%,#d2463b 10%,#c83a37 15%,#cb3b37 20%,#dc5a43 25%,#d95541 31%,#dd5d44 36%,#ea8555 41%,#e87950 46%,#e46b4a 53%,#f0ad6a 58%,#e98354 63%,#e97f53 68%,#eb8c58 73%,#e66f4b 78%,#d7503f 83%,#e56c4a 88%,#cf4139 93%,#e36949 100%)"></div><div style="top:460.53px;height:1.05px;background:linear-gradient(90deg,#cd3c37 0%,#be3637 5%,#d3493c 10%,#dd5c44 15%,#e06246 20%,#e16547 25%,#e87950 31%,#f1b772 36%,#f0ae6b 41%,#eb8e59 46%,#f2ba74 53%,#e8efda 58%,#f3c67e 63%,#f4d389 68%,#ea8756 73%,#ec915a 78%,#ea8756 83%,#e87a50 88%,#e6714c 93%,#e98254 100%)"></div><div style="top:461.53px;height:1.05px;background:linear-gradient(90deg,#d04239 0%,#ca3b37 5%,#d2473b 10%,#cb3b37 15%,#d64e3e 20%,#d04339 25%,#e46b49 31%,#f0a564 36%,#e87b51 41%,#ed985e 46%,#f2bf79 53%,#f7eeb5 58%,#f6e2a0 63%,#f1b26e 68%,#e6724c 73%,#ea8856 78%,#ed965d 83%,#e98254 88%,#e16447 93%,#e87d52 100%)"></div><div style="top:462.53px;height:1.05px;background:linear-gradient(90deg,#d1443a 0%,#d44a3c 5%,#d95440 10%,#da5641 15%,#d54c3d 20%,#d2473b 25%,#e7774f 31%,#ed955c 36%,#f0a967 41%,#f0a766 46%,#f5db94 53%,#f6e4a4 58%,#f0a765 63%,#ec925b 68%,#ec915b 73%,#ea8957 78%,#e7754e 83%,#eb8c58 88%,#e66e4b 93%,#e7754e 100%)"></div><div style="top:463.54px;height:1.05px;background:linear-gradient(90deg,#cb3b37 0%,#d44a3c 5%,#d2473b 10%,#d8523f 15%,#d3483c 20%,#c03737 25%,#e97e52 31%,#e6704c 36%,#f0ac6a 41%,#e87e52 46%,#f5d990 53%,#f5df9b 58%,#f4d68b 63%,#f0a665 68%,#e87950 73%,#e46a49 78%,#f0a564 83%,#e26748 88%,#e6724c 93%,#e6714c 100%)"></div><div style="top:464.54px;height:1.05px;background:linear-gradient(90deg,#bc3637 0%,#be3637 5%,#cd3c37 10%,#c13837 15%,#cb3b37 20%,#d8523f 25%,#da5741 31%,#ce3f38 36%,#df6045 41%,#ea8857 46%,#f0a564 53%,#f5dd98 58%,#ed965d 63%,#e66f4b 68%,#ea8455 73%,#dd5d44 78%,#dd5c43 83%,#d85240 88%,#db5942 93%,#d54c3d 100%)"></div><div style="top:465.54px;height:1.05px;background:linear-gradient(90deg,#bd3637 0%,#cb3b37 5%,#c03737 10%,#d1453a 15%,#cf4139 20%,#d64f3e 25%,#d54c3d 31%,#e16447 36%,#e97e52 41%,#eb8b58 46%,#ed975d 53%,#f1af6c 58%,#eb8957 63%,#e98053 68%,#d1443a 73%,#e16447 78%,#e26648 83%,#e6714c 88%,#e06346 93%,#d85340 100%)"></div><div style="top:466.54px;height:1.05px;background:linear-gradient(90deg,#bf3737 0%,#c93a37 5%,#bb3537 10%,#ce3f38 15%,#cd3c37 20%,#cf4038 25%,#ca3b37 31%,#e66e4b 36%,#ec935c 41%,#eb8b58 46%,#f0a664 53%,#f4d288 58%,#eb8a58 63%,#ed985e 68%,#e87d51 73%,#e66f4b 78%,#e6714c 83%,#dd5d44 88%,#e46a49 93%,#e16547 100%)"></div><div style="top:467.54px;height:1.05px;background:linear-gradient(90deg,#d44a3c 0%,#be3637 5%,#c33837 10%,#ce3e37 15%,#be3637 20%,#ce3f38 25%,#dd5d44 31%,#e87b51 36%,#df6045 41%,#e06246 46%,#f1b470 53%,#f2c079 58%,#f4d187 63%,#e98354 68%,#ec935c 73%,#e06346 78%,#d85340 83%,#dd5c44 88%,#e46a49 93%,#e36949 100%)"></div><div style="top:468.54px;height:1.05px;background:linear-gradient(90deg,#c63937 0%,#c13737 5%,#d2473b 10%,#cc3b37 15%,#d7513f 20%,#d64e3e 25%,#da5741 31%,#e7784f 36%,#eb8c58 41%,#e6704b 46%,#ed995e 53%,#f2bf78 58%,#ec8f5a 63%,#ed975d 68%,#e87a50 73%,#ef9f61 78%,#e7734d 83%,#dc5b43 88%,#d95541 93%,#d95440 100%)"></div><div style="top:469.54px;height:1.05px;background:linear-gradient(90deg,#cc3b37 0%,#be3637 5%,#bf3737 10%,#d3493c 15%,#ca3b37 20%,#c53937 25%,#d2463b 31%,#dd5c43 36%,#e26648 41%,#e36848 46%,#f0a967 53%,#e7774f 58%,#db5942 63%,#e87d52 68%,#db5942 73%,#d95541 78%,#dc5b43 83%,#e16447 88%,#e56d4a 93%,#c13737 100%)"></div><div style="top:470.54px;height:1.05px;background:linear-gradient(90deg,#b73437 0%,#be3637 5%,#c73a37 10%,#bc3537 15%,#cb3b37 20%,#d04239 25%,#d04239 31%,#d44a3c 36%,#dd5d44 41%,#e06246 46%,#eb8c58 53%,#f2b974 58%,#ef9f61 63%,#de5f45 68%,#e98153 73%,#de5f45 78%,#db5942 83%,#cf4038 88%,#d3493c 93%,#da5641 100%)"></div><div style="top:471.54px;height:1.05px;background:linear-gradient(90deg,#c23837 0%,#b83437 5%,#c33837 10%,#bd3637 15%,#cc3b37 20%,#d85240 25%,#ca3b37 31%,#d64e3e 36%,#e7774f 41%,#db5942 46%,#e36949 53%,#e87c51 58%,#ee9f61 63%,#e6704b 68%,#e06346 73%,#d7513f 78%,#c73a37 83%,#d2463b 88%,#cd3d37 93%,#d64f3e 100%)"></div><div style="top:472.54px;height:1.05px;background:linear-gradient(90deg,#c43937 0%,#c63937 5%,#c53937 10%,#c03737 15%,#b73437 20%,#ce3e38 25%,#d54d3e 31%,#e6724c 36%,#d54d3e 41%,#d1453a 46%,#ec905a 53%,#f1b671 58%,#e26648 63%,#db5842 68%,#e16547 73%,#d7503f 78%,#d0433a 83%,#d7513f 88%,#ca3b37 93%,#d44a3c 100%)"></div><div style="top:473.55px;height:1.05px;background:linear-gradient(90deg,#b83437 0%,#c13737 5%,#c23837 10%,#d04339 15%,#ca3b37 20%,#ce3e37 25%,#d54c3d 31%,#df6146 36%,#e26647 41%,#e06246 46%,#ee9b5f 53%,#ee9a5f 58%,#e7784f 63%,#e26748 68%,#d7503f 73%,#d54d3e 78%,#d85340 83%,#cd3c37 88%,#db5942 93%,#ce3f38 100%)"></div><div style="top:474.55px;height:1.05px;background:linear-gradient(90deg,#b93537 0%,#bf3737 5%,#ca3a37 10%,#c83a37 15%,#c03737 20%,#cb3b37 25%,#cf4139 31%,#e06346 36%,#dd5d44 41%,#d0433a 46%,#e36949 53%,#ea8957 58%,#e87b51 63%,#e87b51 68%,#d44a3c 73%,#dc5b43 78%,#c93a37 83%,#d0433a 88%,#cf4038 93%,#d2463b 100%)"></div><div style="top:475.55px;height:1.05px;background:linear-gradient(90deg,#ce3f38 0%,#c23837 5%,#cc3b37 10%,#cc3b37 15%,#ce3f38 20%,#d64e3e 25%,#cd3c37 31%,#da5641 36%,#e98254 41%,#e36949 46%,#ee9f61 53%,#ee9c5f 58%,#efa061 63%,#e6734d 68%,#e87a50 73%,#e06346 78%,#d1453a 83%,#ce3f38 88%,#de5e44 93%,#d95541 100%)"></div><div style="top:476.55px;height:1.05px;background:linear-gradient(90deg,#bc3537 0%,#c23837 5%,#c03737 10%,#bf3737 15%,#c83a37 20%,#c93a37 25%,#d44b3d 31%,#d54d3e 36%,#d04339 41%,#d1443a 46%,#e36848 53%,#e46a49 58%,#e98153 63%,#e16547 68%,#cd3c37 73%,#d3483c 78%,#d64e3e 83%,#c43937 88%,#c83a37 93%,#c53937 100%)"></div><div style="top:477.55px;height:1.05px;background:linear-gradient(90deg,#ba3537 0%,#b93537 5%,#bb3537 10%,#bd3637 15%,#c83a37 20%,#c43837 25%,#d04239 31%,#dc5b43 36%,#d95541 41%,#d7503f 46%,#e16447 53%,#e87d51 58%,#dc5a43 63%,#da5741 68%,#cf4038 73%,#cb3b37 78%,#cf4038 83%,#bb3537 88%,#ca3b37 93%,#cf4038 100%)"></div><div style="top:478.55px;height:1.05px;background:linear-gradient(90deg,#b53337 0%,#c23837 5%,#ba3537 10%,#bc3537 15%,#ad3037 20%,#c43937 25%,#d64f3e 31%,#cf4139 36%,#e56c4a 41%,#cc3b37 46%,#e7784f 53%,#ed955d 58%,#e87c51 63%,#cd3c37 68%,#cd3d37 73%,#ce3f38 78%,#c43837 83%,#d1453a 88%,#c93a37 93%,#cd3d37 100%)"></div><div style="top:479.55px;height:1.05px;background:linear-gradient(90deg,#bc3537 0%,#ba3537 5%,#c23837 10%,#b93437 15%,#c73937 20%,#b23237 25%,#c63937 31%,#c83a37 36%,#d54d3e 41%,#d04239 46%,#dd5d44 53%,#de5f45 58%,#d64f3e 63%,#c63937 68%,#c03737 73%,#cb3b37 78%,#c63937 83%,#c13737 88%,#c33837 93%,#ba3537 100%)"></div><div style="top:480.55px;height:1.05px;background:linear-gradient(90deg,#ae3037 0%,#b73437 5%,#be3637 10%,#ba3537 15%,#cb3b37 20%,#c33837 25%,#c23837 31%,#d0433a 36%,#d64e3e 41%,#c73a37 46%,#da5641 53%,#e66f4b 58%,#dd5c44 63%,#dd5c43 68%,#cf4038 73%,#c83a37 78%,#c63937 83%,#bf3737 88%,#c73a37 93%,#bd3637 100%)"></div><div style="top:481.55px;height:1.05px;background:linear-gradient(90deg,#b63337 0%,#ba3537 5%,#c03737 10%,#b53337 15%,#c53937 20%,#bf3737 25%,#c03737 31%,#c73937 36%,#cc3b37 41%,#c83a37 46%,#d64e3e 53%,#df6045 58%,#df6045 63%,#d64f3e 68%,#d04239 73%,#cc3b37 78%,#b73437 83%,#c13737 88%,#c63937 93%,#bf3737 100%)"></div><div style="top:482.55px;height:1.05px;background:linear-gradient(90deg,#c23837 0%,#bd3637 5%,#b73437 10%,#b13237 15%,#b93437 20%,#c53937 25%,#ca3a37 31%,#c03737 36%,#d1453a 41%,#cc3b37 46%,#cd3d37 53%,#d85340 58%,#df6045 63%,#de5f45 68%,#d54c3d 73%,#cd3d37 78%,#c03737 83%,#ca3a37 88%,#c13737 93%,#c53937 100%)"></div><div style="top:483.55px;height:1.05px;background:linear-gradient(90deg,#ae3037 0%,#b03137 5%,#af3137 10%,#b33237 15%,#bd3637 20%,#bd3637 25%,#c13837 31%,#cd3d37 36%,#d0433a 41%,#bd3637 46%,#d2473b 53%,#da5641 58%,#d3493c 63%,#cd3c37 68%,#c73937 73%,#c23837 78%,#ba3537 83%,#b13237 88%,#b93437 93%,#b63337 100%)"></div><div style="top:484.56px;height:1.05px;background:linear-gradient(90deg,#b43337 0%,#b83437 5%,#b83437 10%,#c03737 15%,#c63937 20%,#c33837 25%,#c53937 31%,#cd3d37 36%,#d64f3e 41%,#ce3f38 46%,#d95440 53%,#da5741 58%,#c83a37 63%,#da5741 68%,#c53937 73%,#d2463b 78%,#c53937 83%,#c93a37 88%,#c73a37 93%,#c23837 100%)"></div><div style="top:485.56px;height:1.05px;background:linear-gradient(90deg,#b23237 0%,#b53337 5%,#ad3037 10%,#b63437 15%,#b43337 20%,#b43337 25%,#ac3037 31%,#c83a37 36%,#c03737 41%,#cd3c37 46%,#d04239 53%,#d7513f 58%,#d0433a 63%,#c03737 68%,#c83a37 73%,#c33837 78%,#c03737 83%,#b83437 88%,#b03137 93%,#c23837 100%)"></div><div style="top:486.56px;height:1.05px;background:linear-gradient(90deg,#b63337 0%,#b93537 5%,#b83437 10%,#b63437 15%,#b53337 20%,#b43337 25%,#b83437 31%,#c43937 36%,#c53937 41%,#c33837 46%,#ce3e38 53%,#c53937 58%,#cf4038 63%,#c73a37 68%,#bb3537 73%,#c13737 78%,#b23237 83%,#bc3537 88%,#b93537 93%,#bc3637 100%)"></div><div style="top:487.56px;height:1.05px;background:linear-gradient(90deg,#a72e37 0%,#b33237 5%,#b03137 10%,#af3137 15%,#bd3637 20%,#b73437 25%,#bd3637 31%,#c83a37 36%,#c33837 41%,#be3637 46%,#cb3b37 53%,#dc5b43 58%,#d7503f 63%,#c33837 68%,#cd3d37 73%,#ca3a37 78%,#c73a37 83%,#c73937 88%,#b53337 93%,#bd3637 100%)"></div><div style="top:488.56px;height:1.05px;background:linear-gradient(90deg,#b13237 0%,#b23237 5%,#b23237 10%,#b53337 15%,#ac3037 20%,#b23237 25%,#b83437 31%,#ad3037 36%,#c53937 41%,#ca3b37 46%,#d2463b 53%,#c53937 58%,#ce3f38 63%,#c23837 68%,#b93437 73%,#c63937 78%,#be3637 83%,#b93437 88%,#b23237 93%,#b63337 100%)"></div><div style="top:489.56px;height:1.05px;background:linear-gradient(90deg,#b23237 0%,#b23237 5%,#b53337 10%,#af3137 15%,#b63337 20%,#c83a37 25%,#ba3537 31%,#c13737 36%,#c93a37 41%,#b73437 46%,#c53937 53%,#d54c3d 58%,#ca3a37 63%,#c03737 68%,#b73437 73%,#ca3a37 78%,#bf3637 83%,#b43337 88%,#be3637 93%,#b13237 100%)"></div><div style="top:490.56px;height:1.05px;background:linear-gradient(90deg,#b73437 0%,#b13237 5%,#b23237 10%,#aa2f37 15%,#ae3137 20%,#ac3037 25%,#ba3537 31%,#b73437 36%,#c13737 41%,#bc3537 46%,#c23837 53%,#cf4038 58%,#d44a3c 63%,#c33837 68%,#be3637 73%,#bc3637 78%,#ba3537 83%,#bf3737 88%,#b83437 93%,#b23237 100%)"></div><div style="top:491.56px;height:1.05px;background:linear-gradient(90deg,#a72e37 0%,#ac3037 5%,#b33237 10%,#b43337 15%,#bf3737 20%,#b43337 25%,#b63337 31%,#b63337 36%,#be3637 41%,#ae3037 46%,#c03737 53%,#c93a37 58%,#b93437 63%,#bf3737 68%,#c93a37 73%,#ba3537 78%,#b43337 83%,#b43337 88%,#b63337 93%,#bc3637 100%)"></div><div style="top:492.56px;height:1.05px;background:linear-gradient(90deg,#b43337 0%,#af3137 5%,#b43337 10%,#b73437 15%,#ac3037 20%,#b33237 25%,#b53337 31%,#bb3537 36%,#b83437 41%,#c33837 46%,#bb3537 53%,#ca3b37 58%,#c83a37 63%,#c73937 68%,#c23837 73%,#b93537 78%,#b73437 83%,#b13237 88%,#bd3637 93%,#bd3637 100%)"></div><div style="top:493.56px;height:1.05px;background:linear-gradient(90deg,#af3137 0%,#b33237 5%,#a92f37 10%,#b33237 15%,#ad3037 20%,#b13237 25%,#ae3137 31%,#ad3037 36%,#b53337 41%,#c03737 46%,#b53337 53%,#bd3637 58%,#bc3637 63%,#bb3537 68%,#b63337 73%,#b53337 78%,#b33237 83%,#b23237 88%,#b43337 93%,#aa2f37 100%)"></div><div style="top:494.57px;height:1.05px;background:linear-gradient(90deg,#b43337 0%,#b03137 5%,#b03137 10%,#b13237 15%,#a92f37 20%,#b33237 25%,#b43337 31%,#b53337 36%,#af3137 41%,#b73437 46%,#c03737 53%,#c73a37 58%,#b33237 63%,#b93537 68%,#be3637 73%,#b43337 78%,#b63337 83%,#b73437 88%,#c03737 93%,#b23237 100%)"></div><div style="top:495.57px;height:1.05px;background:linear-gradient(90deg,#b33237 0%,#b23237 5%,#a62e38 10%,#ae3137 15%,#ad3037 20%,#b03137 25%,#b13237 31%,#b33237 36%,#b53337 41%,#b23237 46%,#b93437 53%,#bb3537 58%,#c03737 63%,#b93537 68%,#b33237 73%,#ae3137 78%,#bb3537 83%,#b83437 88%,#b43337 93%,#b13137 100%)"></div><div style="top:496.57px;height:1.05px;background:linear-gradient(90deg,#b33237 0%,#b13237 5%,#ae3037 10%,#ae3137 15%,#ab2f37 20%,#ae3137 25%,#b53337 31%,#b63337 36%,#b23237 41%,#b73437 46%,#ba3537 53%,#b83437 58%,#bf3737 63%,#b33337 68%,#b63337 73%,#b13137 78%,#b93537 83%,#b13237 88%,#b23237 93%,#a92f37 100%)"></div><div style="top:497.57px;height:1.05px;background:linear-gradient(90deg,#af3137 0%,#a82e37 5%,#b03137 10%,#ae3137 15%,#ab3037 20%,#bd3637 25%,#aa2f37 31%,#af3137 36%,#ae3037 41%,#b63437 46%,#c23837 53%,#c33837 58%,#bc3537 63%,#b73437 68%,#b83437 73%,#b83437 78%,#af3137 83%,#b43337 88%,#b43337 93%,#b43337 100%)"></div><div style="top:498.57px;height:1.05px;background:linear-gradient(90deg,#b23237 0%,#ac3037 5%,#b13237 10%,#b03137 15%,#ae3037 20%,#ab2f37 25%,#b23237 31%,#ac3037 36%,#b93437 41%,#b03137 46%,#ae3137 53%,#c33837 58%,#bc3637 63%,#b63337 68%,#be3637 73%,#a82f37 78%,#af3137 83%,#ad3037 88%,#a62e37 93%,#b43337 100%)"></div><div style="top:499.57px;height:1.05px;background:linear-gradient(90deg,#ad3037 0%,#a62e38 5%,#ae3037 10%,#a62e38 15%,#a92f37 20%,#ae3137 25%,#a92f37 31%,#b23237 36%,#b43337 41%,#aa2f37 46%,#a82e37 53%,#ad3037 58%,#b03137 63%,#b83437 68%,#ae3037 73%,#b53337 78%,#aa2f37 83%,#ac3037 88%,#b03137 93%,#a62e38 100%)"></div><div style="top:500.57px;height:1.05px;background:linear-gradient(90deg,#b33337 0%,#aa2f37 5%,#ae3037 10%,#ae3137 15%,#b53337 20%,#ba3537 25%,#b63337 31%,#b03137 36%,#b63337 41%,#bd3637 46%,#be3637 53%,#bc3637 58%,#b43337 63%,#af3137 68%,#bc3637 73%,#b53337 78%,#b53337 83%,#af3137 88%,#b93537 93%,#b93537 100%)"></div><div style="top:501.57px;height:1.05px;background:linear-gradient(90deg,#ac3037 0%,#aa2f37 5%,#aa2f37 10%,#b23237 15%,#b03137 20%,#b03137 25%,#ad3037 31%,#b23237 36%,#b23237 41%,#af3137 46%,#af3137 53%,#b73437 58%,#b43337 63%,#be3637 68%,#ac3037 73%,#ae3037 78%,#a72e37 83%,#ad3037 88%,#a62e37 93%,#a72e37 100%)"></div><div style="top:502.57px;height:1.05px;background:linear-gradient(90deg,#af3137 0%,#a72e37 5%,#a82e37 10%,#ad3037 15%,#b53337 20%,#af3137 25%,#a62e38 31%,#b83437 36%,#b03137 41%,#ac3037 46%,#bc3637 53%,#b93437 58%,#af3137 63%,#ae3137 68%,#b93537 73%,#b63337 78%,#a92f37 83%,#b33237 88%,#b03137 93%,#ad3037 100%)"></div><div style="top:503.57px;height:1.05px;background:linear-gradient(90deg,#a92f37 0%,#ae3037 5%,#ae3037 10%,#a92f37 15%,#b73437 20%,#ab2f37 25%,#b33237 31%,#a92f37 36%,#ac3037 41%,#b33237 46%,#ad3037 53%,#b53337 58%,#ac3037 63%,#a92f37 68%,#ae3037 73%,#aa2f37 78%,#b13237 83%,#b13237 88%,#a62e37 93%,#b13237 100%)"></div><div style="top:504.58px;height:1.05px;background:linear-gradient(90deg,#a72e37 0%,#b73437 5%,#ac3037 10%,#aa2f37 15%,#aa2f37 20%,#aa2f37 25%,#a92f37 31%,#aa2f37 36%,#ae3037 41%,#ae3137 46%,#ad3037 53%,#ba3537 58%,#b73437 63%,#b03137 68%,#ad3037 73%,#ac3037 78%,#af3137 83%,#af3137 88%,#a72e37 93%,#af3137 100%)"></div><div style="top:505.58px;height:1.05px;background:linear-gradient(90deg,#a62e37 0%,#a62e37 5%,#a92f37 10%,#b13237 15%,#b03137 20%,#a82e37 25%,#ad3037 31%,#b23237 36%,#a62e37 41%,#ad3037 46%,#ad3037 53%,#a92f37 58%,#aa2f37 63%,#ad3037 68%,#a82f37 73%,#a62e37 78%,#ba3537 83%,#b33237 88%,#a72e37 93%,#ac3037 100%)"></div><div style="top:506.58px;height:1.05px;background:linear-gradient(90deg,#b33237 0%,#a62e37 5%,#ab3037 10%,#a62e37 15%,#aa2f37 20%,#af3137 25%,#b13237 31%,#ab2f37 36%,#a72e37 41%,#a72e37 46%,#b13237 53%,#ae3137 58%,#b23237 63%,#aa2f37 68%,#a82e37 73%,#ab3037 78%,#a82e37 83%,#ab2f37 88%,#b13237 93%,#a72e37 100%)"></div><div style="top:507.58px;height:1.05px;background:linear-gradient(90deg,#a62e37 0%,#af3137 5%,#a72e37 10%,#ae3137 15%,#ad3037 20%,#a82e37 25%,#b03137 31%,#a62e38 36%,#ae3137 41%,#ae3137 46%,#b83437 53%,#ae3037 58%,#a82e37 63%,#af3137 68%,#a62e38 73%,#ae3037 78%,#a62e38 83%,#ae3137 88%,#a92f37 93%,#a62e38 100%)"></div><div style="top:508.58px;height:1.05px;background:linear-gradient(90deg,#af3137 0%,#ae3037 5%,#ab2f37 10%,#a62e38 15%,#ac3037 20%,#a62e37 25%,#ac3037 31%,#ac3037 36%,#af3137 41%,#a62e38 46%,#aa2f37 53%,#b53337 58%,#af3137 63%,#a62e38 68%,#ae3037 73%,#ad3037 78%,#b43337 83%,#ab3037 88%,#a62e38 93%,#a82e37 100%)"></div><div style="top:509.58px;height:1.05px;background:linear-gradient(90deg,#ae3037 0%,#ab2f37 5%,#a82f37 10%,#a62e38 15%,#a92f37 20%,#b03137 25%,#a92f37 31%,#aa2f37 36%,#a82e37 41%,#b13237 46%,#af3137 53%,#af3137 58%,#b33237 63%,#b33237 68%,#aa2f37 73%,#ad3037 78%,#b13237 83%,#b43337 88%,#ad3037 93%,#b03137 100%)"></div><div style="top:510.58px;height:1.05px;background:linear-gradient(90deg,#ad3037 0%,#a82e37 5%,#b33237 10%,#ae3137 15%,#b03137 20%,#a72e37 25%,#b63337 31%,#af3137 36%,#b13237 41%,#b13137 46%,#a62e38 53%,#b63337 58%,#b23237 63%,#b43337 68%,#ad3037 73%,#a72e37 78%,#b33237 83%,#af3137 88%,#a72e37 93%,#b13237 100%)"></div><div style="top:511.58px;height:1.05px;background:linear-gradient(90deg,#a62e38 0%,#a92f37 5%,#ac3037 10%,#a72e37 15%,#a72e37 20%,#a62e37 25%,#a92f37 31%,#ab2f37 36%,#ac3037 41%,#a82e37 46%,#a72e37 53%,#b23237 58%,#aa2f37 63%,#b43337 68%,#af3137 73%,#ad3037 78%,#ab3037 83%,#ab3037 88%,#a62e37 93%,#b43337 100%)"></div><div style="top:512.58px;height:1.05px;background:linear-gradient(90deg,#ab3037 0%,#a82e37 5%,#a62e38 10%,#ac3037 15%,#a62e38 20%,#ac3037 25%,#b23237 31%,#aa2f37 36%,#b03137 41%,#b33237 46%,#ad3037 53%,#aa2f37 58%,#ad3037 63%,#a62e38 68%,#ab2f37 73%,#a82e37 78%,#a82f37 83%,#a82f37 88%,#a62e38 93%,#aa2f37 100%)"></div><div style="top:513.58px;height:1.05px;background:linear-gradient(90deg,#a92f37 0%,#a62e38 5%,#af3137 10%,#ac3037 15%,#a62e38 20%,#ab3037 25%,#a82e37 31%,#ae3037 36%,#ac3037 41%,#b03137 46%,#af3137 53%,#af3137 58%,#ab3037 63%,#ae3137 68%,#ad3037 73%,#ab3037 78%,#ac3037 83%,#ab2f37 88%,#ab2f37 93%,#ab2f37 100%)"></div><div style="top:514.59px;height:1.05px;background:linear-gradient(90deg,#a62e38 0%,#ac3037 5%,#a82e37 10%,#b13237 15%,#a92f37 20%,#a82e37 25%,#a92f37 31%,#a62e38 36%,#a62e38 41%,#a92f37 46%,#a62e38 53%,#af3137 58%,#b03137 63%,#a92f37 68%,#ab2f37 73%,#a82e37 78%,#af3137 83%,#a62e38 88%,#b43337 93%,#a92f37 100%)"></div><div style="top:515.59px;height:1.05px;background:linear-gradient(90deg,#a62e38 0%,#a82e37 5%,#a62e38 10%,#a62e38 15%,#a92f37 20%,#a92f37 25%,#a92f37 31%,#a62e38 36%,#ad3037 41%,#ae3137 46%,#a62e37 53%,#b13237 58%,#a72e37 63%,#af3137 68%,#ad3037 73%,#a72e37 78%,#a62e38 83%,#aa2f37 88%,#a72e37 93%,#a62e37 100%)"></div><div style="top:516.59px;height:1.05px;background:linear-gradient(90deg,#a72e37 0%,#a72e37 5%,#a62e38 10%,#a62e38 15%,#a62e38 20%,#a62e38 25%,#ab2f37 31%,#a62e38 36%,#ac3037 41%,#ac3037 46%,#ac3037 53%,#a82e37 58%,#b13137 63%,#a62e38 68%,#a82f37 73%,#aa2f37 78%,#aa2f37 83%,#ae3137 88%,#a92f37 93%,#a62e38 100%)"></div><div style="top:517.59px;height:1.05px;background:linear-gradient(90deg,#ab2f37 0%,#ad3037 5%,#af3137 10%,#a62e38 15%,#aa2f37 20%,#a62e37 25%,#ad3037 31%,#b33237 36%,#a62e38 41%,#af3137 46%,#af3137 53%,#a82e37 58%,#b03137 63%,#a72e37 68%,#a82e37 73%,#ab3037 78%,#ab2f37 83%,#ae3137 88%,#ae3137 93%,#a62e37 100%)"></div><div style="top:518.59px;height:1.05px;background:linear-gradient(90deg,#aa2f37 0%,#a62e38 5%,#a62e38 10%,#ae3137 15%,#a62e38 20%,#ab2f37 25%,#a92f37 31%,#b13237 36%,#a92f37 41%,#a82f37 46%,#ae3137 53%,#b33237 58%,#ac3037 63%,#a72e37 68%,#ac3037 73%,#a72e37 78%,#ab3037 83%,#ad3037 88%,#a62e38 93%,#ad3037 100%)"></div><div style="top:519.59px;height:1.05px;background:linear-gradient(90deg,#a92f37 0%,#aa2f37 5%,#af3137 10%,#ad3037 15%,#ad3037 20%,#a92f37 25%,#a62e38 31%,#a92f37 36%,#b13137 41%,#aa2f37 46%,#aa2f37 53%,#ab2f37 58%,#a82e37 63%,#ac3037 68%,#ab3037 73%,#ab2f37 78%,#aa2f37 83%,#a62e38 88%,#ac3037 93%,#a62e38 100%)"></div><div style="top:520.59px;height:1.05px;background:linear-gradient(90deg,#ac3037 0%,#a72e37 5%,#ad3037 10%,#b03137 15%,#a62e38 20%,#a92f37 25%,#a62e38 31%,#a92f37 36%,#b33237 41%,#ad3037 46%,#ad3037 53%,#a62e38 58%,#a92f37 63%,#b03137 68%,#a72e37 73%,#ab2f37 78%,#a72e37 83%,#b13237 88%,#a62e38 93%,#b33237 100%)"></div><div style="top:521.59px;height:1.05px;background:linear-gradient(90deg,#aa2f37 0%,#a82e37 5%,#a72e37 10%,#a72e37 15%,#aa2f37 20%,#aa2f37 25%,#a92f37 31%,#ab3037 36%,#a92f37 41%,#a72e37 46%,#ae3037 53%,#ab2f37 58%,#ab3037 63%,#a92f37 68%,#a82e37 73%,#ae3137 78%,#a72e37 83%,#a92f37 88%,#a82f37 93%,#a62e38 100%)"></div><div style="top:522.59px;height:1.05px;background:linear-gradient(90deg,#a92f37 0%,#a72e37 5%,#b13237 10%,#a62e38 15%,#aa2f37 20%,#a62e37 25%,#ab3037 31%,#a72e37 36%,#a82e37 41%,#a92f37 46%,#ac3037 53%,#ac3037 58%,#a62e37 63%,#ad3037 68%,#b23237 73%,#ab2f37 78%,#a72e37 83%,#aa2f37 88%,#b33237 93%,#a62e38 100%)"></div><div style="top:523.59px;height:1.05px;background:linear-gradient(90deg,#a92f37 0%,#a72e37 5%,#ab2f37 10%,#a62e38 15%,#a82e37 20%,#aa2f37 25%,#a82e37 31%,#a62e37 36%,#ac3037 41%,#ac3037 46%,#ab3037 53%,#a62e38 58%,#b33237 63%,#ab2f37 68%,#b23237 73%,#ae3137 78%,#a92f37 83%,#aa2f37 88%,#a62e38 93%,#aa2f37 100%)"></div><div style="top:524.60px;height:1.05px;background:linear-gradient(90deg,#af3137 0%,#a82e37 5%,#a92f37 10%,#ac3037 15%,#ab3037 20%,#a72e37 25%,#ac3037 31%,#ae3137 36%,#a92f37 41%,#a62e38 46%,#ad3037 53%,#a82f37 58%,#b03137 63%,#b03137 68%,#ad3037 73%,#ac3037 78%,#a92f37 83%,#ab3037 88%,#a92f37 93%,#a62e38 100%)"></div><div style="top:525.60px;height:1.05px;background:linear-gradient(90deg,#a62e38 0%,#ad3037 5%,#ab3037 10%,#a62e38 15%,#af3137 20%,#aa2f37 25%,#a82e37 31%,#ac3037 36%,#a92f37 41%,#ab2f37 46%,#ab2f37 53%,#a62e37 58%,#a92f37 63%,#a82e37 68%,#a92f37 73%,#ae3037 78%,#a92f37 83%,#a62e38 88%,#b13237 93%,#a92f37 100%)"></div><div style="top:526.60px;height:1.05px;background:linear-gradient(90deg,#a62e37 0%,#a62e38 5%,#af3137 10%,#a62e38 15%,#ab3037 20%,#a62e38 25%,#a62e38 31%,#aa2f37 36%,#a62e38 41%,#a82f37 46%,#a72e37 53%,#a72e37 58%,#a62e37 63%,#ab3037 68%,#a62e38 73%,#a82e37 78%,#a62e38 83%,#a92f37 88%,#a92f37 93%,#aa2f37 100%)"></div><div style="top:527.60px;height:1.05px;background:linear-gradient(90deg,#a62e37 0%,#ae3137 5%,#ac3037 10%,#a92f37 15%,#a82f37 20%,#a62e38 25%,#ad3037 31%,#a62e37 36%,#a62e38 41%,#ab2f37 46%,#a72e37 53%,#ae3137 58%,#a92f37 63%,#b03137 68%,#a72e37 73%,#af3137 78%,#ac3037 83%,#a62e37 88%,#aa2f37 93%,#a62e38 100%)"></div><div style="top:528.60px;height:1.05px;background:linear-gradient(90deg,#a72e37 0%,#a62e38 5%,#a62e38 10%,#ac3037 15%,#ad3037 20%,#a82e37 25%,#a72e37 31%,#ab2f37 36%,#aa2f37 41%,#ab2f37 46%,#a92f37 53%,#ab3037 58%,#ac3037 63%,#a72e37 68%,#a62e38 73%,#ad3037 78%,#a62e38 83%,#a62e37 88%,#a62e37 93%,#b03137 100%)"></div></div>
<div style="position:absolute;left:458.3px;top:322.8px;width:7.7px;height:206.8px;background:linear-gradient(180deg,#373c91 0.0%,#42569f 5.0%,#4d6fae 10.0%,#5b88bc 15.0%,#709dc6 20.0%,#87b3d1 25.0%,#a1cadd 30.0%,#badce4 35.0%,#d5e8e7 40.0%,#e7efdc 45.0%,#f3f2c6 50.0%,#f7eaae 55.0%,#f5db94 60.0%,#f3c57d 65.0%,#f0ab68 70.0%,#ec8f5a 75.0%,#e6724d 80.0%,#db5842 85.0%,#ce3d37 90.0%,#ba3537 95.0%,#a62e38 100.0%)"></div>
<svg width="491" height="550" viewBox="0 0 491 550">
<text x="9" y="16.4" font-size="11" fill="#333" stroke="#333">a</text>
<g><rect x="23.80" y="16.30" width="24.0" height="12.15" fill="#f5c3c0"/><rect x="47.80" y="16.30" width="24.0" height="12.15" fill="#f5c5c2"/><rect x="71.80" y="16.30" width="24.0" height="12.15" fill="#ec7870"/><rect x="95.80" y="16.30" width="24.0" height="12.15" fill="#f7d4d2"/><rect x="23.80" y="28.45" width="24.0" height="12.15" fill="#f7d8d6"/><rect x="47.80" y="28.45" width="24.0" height="12.15" fill="#f7d5d2"/><rect x="71.80" y="28.45" width="24.0" height="12.15" fill="#f3b4af"/><rect x="95.80" y="28.45" width="24.0" height="12.15" fill="#f8dfdd"/><rect x="23.80" y="40.60" width="24.0" height="12.15" fill="#f7d5d3"/><rect x="47.80" y="40.60" width="24.0" height="12.15" fill="#f6d1ce"/><rect x="71.80" y="40.60" width="24.0" height="12.15" fill="#f2afab"/><rect x="95.80" y="40.60" width="24.0" height="12.15" fill="#fbf7f7"/><rect x="23.80" y="52.75" width="24.0" height="12.15" fill="#f7dcda"/><rect x="47.80" y="52.75" width="24.0" height="12.15" fill="#f3b4b0"/><rect x="71.80" y="52.75" width="24.0" height="12.15" fill="#f1a39d"/><rect x="95.80" y="52.75" width="24.0" height="12.15" fill="#faf6f5"/><rect x="23.80" y="64.90" width="24.0" height="12.15" fill="#f7d6d3"/><rect x="47.80" y="64.90" width="24.0" height="12.15" fill="#f4c1be"/><rect x="71.80" y="64.90" width="24.0" height="12.15" fill="#f1a39e"/><rect x="95.80" y="64.90" width="24.0" height="12.15" fill="#fbf8f7"/><rect x="23.80" y="77.05" width="24.0" height="12.15" fill="#f6ccc9"/><rect x="47.80" y="77.05" width="24.0" height="12.15" fill="#f5c8c5"/><rect x="71.80" y="77.05" width="24.0" height="12.15" fill="#f3b5b1"/><rect x="95.80" y="77.05" width="24.0" height="12.15" fill="#f6d3d0"/><rect x="23.80" y="89.20" width="24.0" height="12.15" fill="#f8dddb"/><rect x="47.80" y="89.20" width="24.0" height="12.15" fill="#f8e1df"/><rect x="71.80" y="89.20" width="24.0" height="12.15" fill="#f3b5b1"/><rect x="95.80" y="89.20" width="24.0" height="12.15" fill="#faf4f3"/><rect x="23.80" y="101.35" width="24.0" height="12.15" fill="#f7dbd9"/><rect x="47.80" y="101.35" width="24.0" height="12.15" fill="#f6cdca"/><rect x="71.80" y="101.35" width="24.0" height="12.15" fill="#f3b8b3"/><rect x="95.80" y="101.35" width="24.0" height="12.15" fill="#f9e8e7"/><rect x="23.80" y="113.50" width="24.0" height="12.15" fill="#f8e2e1"/><rect x="47.80" y="113.50" width="24.0" height="12.15" fill="#f8e0de"/><rect x="71.80" y="113.50" width="24.0" height="12.15" fill="#f4bab6"/><rect x="95.80" y="113.50" width="24.0" height="12.15" fill="#faf4f4"/><rect x="23.80" y="125.65" width="24.0" height="12.15" fill="#f8e3e2"/><rect x="47.80" y="125.65" width="24.0" height="12.15" fill="#f7d4d2"/><rect x="71.80" y="125.65" width="24.0" height="12.15" fill="#f1a7a2"/><rect x="95.80" y="125.65" width="24.0" height="12.15" fill="#f5c9c5"/><rect x="23.80" y="137.80" width="24.0" height="12.15" fill="#f8e4e2"/><rect x="47.80" y="137.80" width="24.0" height="12.15" fill="#f6ccca"/><rect x="71.80" y="137.80" width="24.0" height="12.15" fill="#f3b5b0"/><rect x="95.80" y="137.80" width="24.0" height="12.15" fill="#faeeed"/><rect x="23.80" y="149.95" width="24.0" height="12.15" fill="#f7d9d7"/><rect x="47.80" y="149.95" width="24.0" height="12.15" fill="#f8dddb"/><rect x="71.80" y="149.95" width="24.0" height="12.15" fill="#f4bbb7"/><rect x="95.80" y="149.95" width="24.0" height="12.15" fill="#f7f9fa"/><rect x="23.80" y="162.10" width="24.0" height="12.15" fill="#f8dddb"/><rect x="47.80" y="162.10" width="24.0" height="12.15" fill="#faf6f6"/><rect x="71.80" y="162.10" width="24.0" height="12.15" fill="#f3b4b0"/><rect x="95.80" y="162.10" width="24.0" height="12.15" fill="#fbf9f9"/><rect x="23.80" y="174.25" width="24.0" height="12.15" fill="#f8dddc"/><rect x="47.80" y="174.25" width="24.0" height="12.15" fill="#f8e2e1"/><rect x="71.80" y="174.25" width="24.0" height="12.15" fill="#f4bdb9"/><rect x="95.80" y="174.25" width="24.0" height="12.15" fill="#f9e9e8"/><rect x="23.80" y="186.40" width="24.0" height="12.15" fill="#f8e0de"/><rect x="47.80" y="186.40" width="24.0" height="12.15" fill="#f7d8d6"/><rect x="71.80" y="186.40" width="24.0" height="12.15" fill="#f4bdb9"/><rect x="95.80" y="186.40" width="24.0" height="12.15" fill="#fbfafa"/><rect x="23.80" y="198.55" width="24.0" height="12.15" fill="#f7d4d2"/><rect x="47.80" y="198.55" width="24.0" height="12.15" fill="#f7d8d5"/><rect x="71.80" y="198.55" width="24.0" height="12.15" fill="#f4beba"/><rect x="95.80" y="198.55" width="24.0" height="12.15" fill="#faf4f4"/><rect x="23.80" y="210.70" width="24.0" height="12.15" fill="#f9e9e8"/><rect x="47.80" y="210.70" width="24.0" height="12.15" fill="#f5c6c2"/><rect x="71.80" y="210.70" width="24.0" height="12.15" fill="#ef9690"/><rect x="95.80" y="210.70" width="24.0" height="12.15" fill="#fbfbfb"/><rect x="23.80" y="222.85" width="24.0" height="12.15" fill="#f9e9e8"/><rect x="47.80" y="222.85" width="24.0" height="12.15" fill="#f9e8e7"/><rect x="71.80" y="222.85" width="24.0" height="12.15" fill="#f3b9b5"/><rect x="95.80" y="222.85" width="24.0" height="12.15" fill="#f5c5c2"/><rect x="23.80" y="235.00" width="24.0" height="12.15" fill="#f9eae9"/><rect x="47.80" y="235.00" width="24.0" height="12.15" fill="#f6d4d1"/><rect x="71.80" y="235.00" width="24.0" height="12.15" fill="#f4c1be"/><rect x="95.80" y="235.00" width="24.0" height="12.15" fill="#f8e0df"/><rect x="23.80" y="247.15" width="24.0" height="12.15" fill="#f9eae9"/><rect x="47.80" y="247.15" width="24.0" height="12.15" fill="#faf5f5"/><rect x="71.80" y="247.15" width="24.0" height="12.15" fill="#f3b6b2"/><rect x="95.80" y="247.15" width="24.0" height="12.15" fill="#f3f6f8"/><rect x="23.80" y="259.30" width="24.0" height="12.15" fill="#a2c2dd"/><rect x="47.80" y="259.30" width="24.0" height="12.15" fill="#b6cfe4"/><rect x="71.80" y="259.30" width="24.0" height="12.15" fill="#88b1d4"/><rect x="95.80" y="259.30" width="24.0" height="12.15" fill="#a6c4de"/><rect x="23.80" y="271.45" width="24.0" height="12.15" fill="#9cbedb"/><rect x="47.80" y="271.45" width="24.0" height="12.15" fill="#bbd2e5"/><rect x="71.80" y="271.45" width="24.0" height="12.15" fill="#7fabd1"/><rect x="95.80" y="271.45" width="24.0" height="12.15" fill="#bfd5e7"/><rect x="23.80" y="283.60" width="24.0" height="12.15" fill="#a5c3de"/><rect x="47.80" y="283.60" width="24.0" height="12.15" fill="#b5cee3"/><rect x="71.80" y="283.60" width="24.0" height="12.15" fill="#8bb3d5"/><rect x="95.80" y="283.60" width="24.0" height="12.15" fill="#a5c4de"/><rect x="23.80" y="295.75" width="24.0" height="12.15" fill="#cfdfec"/><rect x="47.80" y="295.75" width="24.0" height="12.15" fill="#97bbd9"/><rect x="71.80" y="295.75" width="24.0" height="12.15" fill="#74a4cd"/><rect x="95.80" y="295.75" width="24.0" height="12.15" fill="#a9c6df"/><rect x="23.80" y="307.90" width="24.0" height="12.15" fill="#a9c6df"/><rect x="47.80" y="307.90" width="24.0" height="12.15" fill="#bad1e5"/><rect x="71.80" y="307.90" width="24.0" height="12.15" fill="#85afd3"/><rect x="95.80" y="307.90" width="24.0" height="12.15" fill="#b5cee3"/><rect x="23.80" y="320.05" width="24.0" height="12.15" fill="#aac7df"/><rect x="47.80" y="320.05" width="24.0" height="12.15" fill="#a8c6df"/><rect x="71.80" y="320.05" width="24.0" height="12.15" fill="#78a7ce"/><rect x="95.80" y="320.05" width="24.0" height="12.15" fill="#adc9e0"/><rect x="23.80" y="332.20" width="24.0" height="12.15" fill="#9cbedb"/><rect x="47.80" y="332.20" width="24.0" height="12.15" fill="#bfd5e7"/><rect x="71.80" y="332.20" width="24.0" height="12.15" fill="#84aed2"/><rect x="95.80" y="332.20" width="24.0" height="12.15" fill="#a8c6df"/><rect x="23.80" y="344.35" width="24.0" height="12.15" fill="#c6d9e9"/><rect x="47.80" y="344.35" width="24.0" height="12.15" fill="#b0cbe1"/><rect x="71.80" y="344.35" width="24.0" height="12.15" fill="#78a7ce"/><rect x="95.80" y="344.35" width="24.0" height="12.15" fill="#a7c5df"/><rect x="23.80" y="356.50" width="24.0" height="12.15" fill="#95b9d8"/><rect x="47.80" y="356.50" width="24.0" height="12.15" fill="#bcd2e5"/><rect x="71.80" y="356.50" width="24.0" height="12.15" fill="#8bb3d5"/><rect x="95.80" y="356.50" width="24.0" height="12.15" fill="#c6d9e9"/><rect x="23.80" y="368.65" width="24.0" height="12.15" fill="#afcae1"/><rect x="47.80" y="368.65" width="24.0" height="12.15" fill="#bbd2e5"/><rect x="71.80" y="368.65" width="24.0" height="12.15" fill="#8ab2d5"/><rect x="95.80" y="368.65" width="24.0" height="12.15" fill="#c0d5e7"/><rect x="23.80" y="380.80" width="24.0" height="12.15" fill="#afcae1"/><rect x="47.80" y="380.80" width="24.0" height="12.15" fill="#b9d1e5"/><rect x="71.80" y="380.80" width="24.0" height="12.15" fill="#91b7d7"/><rect x="95.80" y="380.80" width="24.0" height="12.15" fill="#b3cde2"/><rect x="23.80" y="392.95" width="24.0" height="12.15" fill="#afcae1"/><rect x="47.80" y="392.95" width="24.0" height="12.15" fill="#c0d5e7"/><rect x="71.80" y="392.95" width="24.0" height="12.15" fill="#91b7d7"/><rect x="95.80" y="392.95" width="24.0" height="12.15" fill="#adc9e0"/><rect x="23.80" y="405.10" width="24.0" height="12.15" fill="#a4c3dd"/><rect x="47.80" y="405.10" width="24.0" height="12.15" fill="#bed3e6"/><rect x="71.80" y="405.10" width="24.0" height="12.15" fill="#97bbd9"/><rect x="95.80" y="405.10" width="24.0" height="12.15" fill="#bed3e6"/><rect x="23.80" y="417.25" width="24.0" height="12.15" fill="#9cbedb"/><rect x="47.80" y="417.25" width="24.0" height="12.15" fill="#c4d8e8"/><rect x="71.80" y="417.25" width="24.0" height="12.15" fill="#83aed2"/><rect x="95.80" y="417.25" width="24.0" height="12.15" fill="#b8d0e4"/><rect x="23.80" y="429.40" width="24.0" height="12.15" fill="#9cbedb"/><rect x="47.80" y="429.40" width="24.0" height="12.15" fill="#c4d8e8"/><rect x="71.80" y="429.40" width="24.0" height="12.15" fill="#94b8d8"/><rect x="95.80" y="429.40" width="24.0" height="12.15" fill="#c4d8e8"/><rect x="23.80" y="441.55" width="24.0" height="12.15" fill="#a0c0dc"/><rect x="47.80" y="441.55" width="24.0" height="12.15" fill="#bdd3e6"/><rect x="71.80" y="441.55" width="24.0" height="12.15" fill="#97bbd9"/><rect x="95.80" y="441.55" width="24.0" height="12.15" fill="#c6d9e9"/><rect x="23.80" y="453.70" width="24.0" height="12.15" fill="#abc7e0"/><rect x="47.80" y="453.70" width="24.0" height="12.15" fill="#c5d8e8"/><rect x="71.80" y="453.70" width="24.0" height="12.15" fill="#85afd3"/><rect x="95.80" y="453.70" width="24.0" height="12.15" fill="#c3d7e8"/><rect x="23.80" y="465.85" width="24.0" height="12.15" fill="#b2cce2"/><rect x="47.80" y="465.85" width="24.0" height="12.15" fill="#c2d6e8"/><rect x="71.80" y="465.85" width="24.0" height="12.15" fill="#85afd3"/><rect x="95.80" y="465.85" width="24.0" height="12.15" fill="#acc8e0"/><rect x="23.80" y="478.00" width="24.0" height="12.15" fill="#aac7e0"/><rect x="47.80" y="478.00" width="24.0" height="12.15" fill="#c5d8e9"/><rect x="71.80" y="478.00" width="24.0" height="12.15" fill="#8eb5d6"/><rect x="95.80" y="478.00" width="24.0" height="12.15" fill="#a4c3dd"/><rect x="23.80" y="490.15" width="24.0" height="12.15" fill="#88b1d4"/><rect x="47.80" y="490.15" width="24.0" height="12.15" fill="#b5cee3"/><rect x="71.80" y="490.15" width="24.0" height="12.15" fill="#8eb4d6"/><rect x="95.80" y="490.15" width="24.0" height="12.15" fill="#c9dbea"/></g>
<path d="M23.80 16.30H119.80M23.80 28.45H119.80M23.80 40.60H119.80M23.80 52.75H119.80M23.80 64.90H119.80M23.80 77.05H119.80M23.80 89.20H119.80M23.80 101.35H119.80M23.80 113.50H119.80M23.80 125.65H119.80M23.80 137.80H119.80M23.80 149.95H119.80M23.80 162.10H119.80M23.80 174.25H119.80M23.80 186.40H119.80M23.80 198.55H119.80M23.80 210.70H119.80M23.80 222.85H119.80M23.80 235.00H119.80M23.80 247.15H119.80M23.80 259.30H119.80M23.80 271.45H119.80M23.80 283.60H119.80M23.80 295.75H119.80M23.80 307.90H119.80M23.80 320.05H119.80M23.80 332.20H119.80M23.80 344.35H119.80M23.80 356.50H119.80M23.80 368.65H119.80M23.80 380.80H119.80M23.80 392.95H119.80M23.80 405.10H119.80M23.80 417.25H119.80M23.80 429.40H119.80M23.80 441.55H119.80M23.80 453.70H119.80M23.80 465.85H119.80M23.80 478.00H119.80M23.80 490.15H119.80M23.80 502.30H119.80M23.80 16.30V502.30M47.80 16.30V502.30M71.80 16.30V502.30M95.80 16.30V502.30M119.80 16.30V502.30" stroke="#b2b2b2" stroke-width="0.9" fill="none"/>
<g font-size="6" fill="#686868" stroke="#686868" text-anchor="middle"><text x="35.80" y="24.32">6.17</text><text x="59.80" y="24.32">6.02</text><text x="83.80" y="24.32">11.57</text><text x="107.80" y="24.32">4.94</text><text x="35.80" y="36.48">4.65</text><text x="59.80" y="36.48">4.90</text><text x="83.80" y="36.48">7.27</text><text x="107.80" y="36.48">4.18</text><text x="35.80" y="48.63">4.85</text><text x="59.80" y="48.63">5.20</text><text x="83.80" y="48.63">7.58</text><text x="107.80" y="48.63">2.44</text><text x="35.80" y="60.78">4.36</text><text x="59.80" y="60.78">7.26</text><text x="83.80" y="60.78">8.49</text><text x="107.80" y="60.78">2.54</text><text x="35.80" y="72.93">4.83</text><text x="59.80" y="72.93">6.29</text><text x="83.80" y="72.93">8.47</text><text x="107.80" y="72.93">2.39</text><text x="35.80" y="85.08">5.51</text><text x="59.80" y="85.08">5.82</text><text x="83.80" y="85.08">7.16</text><text x="107.80" y="85.08">5.05</text><text x="35.80" y="97.23">4.29</text><text x="59.80" y="97.23">4.02</text><text x="83.80" y="97.23">7.19</text><text x="107.80" y="97.23">2.66</text><text x="35.80" y="109.38">4.45</text><text x="59.80" y="109.38">5.48</text><text x="83.80" y="109.38">7.00</text><text x="107.80" y="109.38">3.52</text><text x="35.80" y="121.53">3.92</text><text x="59.80" y="121.53">4.09</text><text x="83.80" y="121.53">6.80</text><text x="107.80" y="121.53">2.63</text><text x="35.80" y="133.67">3.84</text><text x="59.80" y="133.67">4.93</text><text x="83.80" y="133.67">8.21</text><text x="107.80" y="133.67">5.78</text><text x="35.80" y="145.82">3.83</text><text x="59.80" y="145.82">5.50</text><text x="83.80" y="145.82">7.20</text><text x="107.80" y="145.82">3.07</text><text x="35.80" y="157.97">4.57</text><text x="59.80" y="157.97">4.31</text><text x="83.80" y="157.97">6.74</text><text x="107.80" y="157.97">1.90</text><text x="35.80" y="170.12">4.29</text><text x="59.80" y="170.12">2.48</text><text x="83.80" y="170.12">7.23</text><text x="107.80" y="170.12">2.28</text><text x="35.80" y="182.28">4.28</text><text x="59.80" y="182.28">3.93</text><text x="83.80" y="182.28">6.63</text><text x="107.80" y="182.28">3.45</text><text x="35.80" y="194.42">4.09</text><text x="59.80" y="194.42">4.68</text><text x="83.80" y="194.42">6.61</text><text x="107.80" y="194.42">2.25</text><text x="35.80" y="206.57">4.95</text><text x="59.80" y="206.57">4.70</text><text x="83.80" y="206.57">6.56</text><text x="107.80" y="206.57">2.65</text><text x="35.80" y="218.72">3.44</text><text x="59.80" y="218.72">5.98</text><text x="83.80" y="218.72">9.38</text><text x="107.80" y="218.72">2.15</text><text x="35.80" y="230.88">3.43</text><text x="59.80" y="230.88">3.52</text><text x="83.80" y="230.88">6.88</text><text x="107.80" y="230.88">6.02</text><text x="35.80" y="243.03">3.36</text><text x="59.80" y="243.03">4.98</text><text x="83.80" y="243.03">6.31</text><text x="107.80" y="243.03">4.06</text><text x="35.80" y="255.17">3.34</text><text x="59.80" y="255.17">2.58</text><text x="83.80" y="255.17">7.10</text><text x="107.80" y="255.17">1.60</text><text x="35.80" y="267.32">−4.05</text><text x="59.80" y="267.32">−2.64</text><text x="83.80" y="267.32">−5.87</text><text x="107.80" y="267.32">−3.76</text><text x="35.80" y="279.47">−4.45</text><text x="59.80" y="279.47">−2.30</text><text x="83.80" y="279.47">−6.52</text><text x="107.80" y="279.47">−2.01</text><text x="35.80" y="291.62">−3.87</text><text x="59.80" y="291.62">−2.70</text><text x="83.80" y="291.62">−5.67</text><text x="107.80" y="291.62">−3.84</text><text x="35.80" y="303.77">−0.90</text><text x="59.80" y="303.77">−4.83</text><text x="83.80" y="303.77">−7.27</text><text x="107.80" y="303.77">−3.55</text><text x="35.80" y="315.93">−3.57</text><text x="59.80" y="315.93">−2.36</text><text x="83.80" y="315.93">−6.05</text><text x="107.80" y="315.93">−2.71</text><text x="35.80" y="328.07">−3.49</text><text x="59.80" y="328.07">−3.64</text><text x="83.80" y="328.07">−6.98</text><text x="107.80" y="328.07">−3.29</text><text x="35.80" y="340.23">−4.46</text><text x="59.80" y="340.23">−2.01</text><text x="83.80" y="340.23">−6.18</text><text x="107.80" y="340.23">−3.61</text><text x="35.80" y="352.38">−1.56</text><text x="59.80" y="352.38">−3.10</text><text x="83.80" y="352.38">−6.98</text><text x="107.80" y="352.38">−3.68</text><text x="35.80" y="364.52">−4.99</text><text x="59.80" y="364.52">−2.27</text><text x="83.80" y="364.52">−5.69</text><text x="107.80" y="364.52">−1.53</text><text x="35.80" y="376.68">−3.17</text><text x="59.80" y="376.68">−2.31</text><text x="83.80" y="376.68">−5.71</text><text x="107.80" y="376.68">−1.96</text><text x="35.80" y="388.82">−3.17</text><text x="59.80" y="388.82">−2.45</text><text x="83.80" y="388.82">−5.24</text><text x="107.80" y="388.82">−2.87</text><text x="35.80" y="400.98">−3.14</text><text x="59.80" y="400.98">−2.00</text><text x="83.80" y="400.98">−5.25</text><text x="107.80" y="400.98">−3.31</text><text x="35.80" y="413.12">−3.95</text><text x="59.80" y="413.12">−2.13</text><text x="83.80" y="413.12">−4.82</text><text x="107.80" y="413.12">−2.13</text><text x="35.80" y="425.27">−4.45</text><text x="59.80" y="425.27">−1.67</text><text x="83.80" y="425.27">−6.24</text><text x="107.80" y="425.27">−2.56</text><text x="35.80" y="437.43">−4.50</text><text x="59.80" y="437.43">−1.67</text><text x="83.80" y="437.43">−5.06</text><text x="107.80" y="437.43">−1.67</text><text x="35.80" y="449.57">−4.19</text><text x="59.80" y="449.57">−2.19</text><text x="83.80" y="449.57">−4.80</text><text x="107.80" y="449.57">−1.55</text><text x="35.80" y="461.73">−3.45</text><text x="59.80" y="461.73">−1.65</text><text x="83.80" y="461.73">−6.05</text><text x="107.80" y="461.73">−1.76</text><text x="35.80" y="473.88">−2.92</text><text x="59.80" y="473.88">−1.84</text><text x="83.80" y="473.88">−6.06</text><text x="107.80" y="473.88">−3.38</text><text x="35.80" y="486.02">−3.47</text><text x="59.80" y="486.02">−1.60</text><text x="83.80" y="486.02">−5.43</text><text x="107.80" y="486.02">−3.92</text><text x="35.80" y="498.18">−5.85</text><text x="59.80" y="498.18">−2.75</text><text x="83.80" y="498.18">−5.49</text><text x="107.80" y="498.18">−1.34</text></g>
<g font-size="7" font-style="italic" fill="#333" stroke="#333"><text x="122.4" y="25.38">Myl2</text><text x="122.4" y="37.53">Myh8</text><text x="122.4" y="49.68">Unc45b</text><text x="122.4" y="61.83">Myoz2</text><text x="122.4" y="73.98">Cav3</text><text x="122.4" y="86.12">Tcap</text><text x="122.4" y="98.28">Hspb3</text><text x="122.4" y="110.42">Csrp3</text><text x="122.4" y="122.58">Hspb7</text><text x="122.4" y="134.72">Cox6a2</text><text x="122.4" y="146.88">Actn2</text><text x="122.4" y="159.03">Trim63</text><text x="122.4" y="171.18">Atp1a2</text><text x="122.4" y="183.33">Ankrd2</text><text x="122.4" y="195.47">Pygm</text><text x="122.4" y="207.62">Myom1</text><text x="122.4" y="219.78">Casq1</text><text x="122.4" y="231.93">Mb</text><text x="122.4" y="244.08">Tmem182</text><text x="122.4" y="256.23">Fn3k</text><text x="122.4" y="268.38">Pbk</text><text x="122.4" y="280.52">Kif18b</text><text x="122.4" y="292.68">Birc5</text><text x="122.4" y="304.82">Aqp1</text><text x="122.4" y="316.98">Aurkb</text><text x="122.4" y="329.12">Igfbp2</text><text x="122.4" y="341.28">Plk1</text><text x="122.4" y="353.43">Ccnd1</text><text x="122.4" y="365.57">Kntc1</text><text x="122.4" y="377.73">Uhrf1</text><text x="122.4" y="389.88">Cdca8</text><text x="122.4" y="402.03">Kif22</text><text x="122.4" y="414.18">Spdl1</text><text x="122.4" y="426.32">Bub1b</text><text x="122.4" y="438.48">Cenpm</text><text x="122.4" y="450.62">Cdca5</text><text x="122.4" y="462.78">Kif4</text><text x="122.4" y="474.93">Cdc20</text><text x="122.4" y="487.07">Mcm5</text><text x="122.4" y="499.23">Tk1</text></g>
<g font-size="7.4" fill="#333" stroke="#333"><text transform="translate(33.10,505.2) rotate(90)" x="0" y="0">GSE11415</text><text transform="translate(57.10,505.2) rotate(90)" x="0" y="0">GSE16992</text><text transform="translate(81.10,505.2) rotate(90)" x="0" y="0">GSE41877</text><text transform="translate(105.10,505.2) rotate(90)" x="0" y="0">GSE80329</text></g>
<defs><linearGradient id="cba" x1="0" y1="0" x2="0" y2="1"><stop offset="0.000" stop-color="#ec7870"/><stop offset="0.050" stop-color="#ee857e"/><stop offset="0.100" stop-color="#ef928c"/><stop offset="0.150" stop-color="#f09f9a"/><stop offset="0.200" stop-color="#f2aca8"/><stop offset="0.250" stop-color="#f4bab6"/><stop offset="0.300" stop-color="#f5c7c3"/><stop offset="0.350" stop-color="#f6d4d1"/><stop offset="0.400" stop-color="#f8e1df"/><stop offset="0.450" stop-color="#faeeed"/><stop offset="0.500" stop-color="#fbfbfb"/><stop offset="0.550" stop-color="#eef2f6"/><stop offset="0.600" stop-color="#e0eaf2"/><stop offset="0.650" stop-color="#d2e1ed"/><stop offset="0.700" stop-color="#c5d8e9"/><stop offset="0.750" stop-color="#b8d0e4"/><stop offset="0.800" stop-color="#aac7df"/><stop offset="0.850" stop-color="#9cbedb"/><stop offset="0.900" stop-color="#8fb5d6"/><stop offset="0.950" stop-color="#82add2"/><stop offset="1.000" stop-color="#74a4cd"/></linearGradient></defs>
<rect x="152.2" y="16.5" width="7.7" height="113.0" fill="url(#cba)"/>
<g font-size="6.5" fill="#333" stroke="#333"><text x="163.3" y="28.65">10</text><text x="163.3" y="58.65">5</text><text x="163.3" y="88.65">0</text><text x="163.3" y="118.65">−5</text></g>
<text transform="translate(171.4,59.4) rotate(90)" font-size="7" fill="#333" stroke="#333">log<tspan font-size="5" dy="1.5">2</tspan><tspan dy="-1.5">FC</tspan></text>
<text x="189.6" y="16.7" font-size="11" fill="#333" stroke="#333">b</text>
<circle cx="328.4" cy="99.2" r="80.2" fill="#f6c2b4"/>
<circle cx="386" cy="99.1" r="30.6" fill="#c8daeb"/>
<clipPath id="bigc"><circle cx="328.4" cy="99.2" r="80.2"/></clipPath>
<circle cx="386" cy="99.1" r="30.6" fill="#c6bbc5" clip-path="url(#bigc)"/>
<circle cx="328.4" cy="99.2" r="80.2" fill="none" stroke="#707070" stroke-width="0.9"/>
<circle cx="386" cy="99.1" r="30.6" fill="none" stroke="#707070" stroke-width="0.9"/>
<g font-size="7" fill="#333" stroke="#333" text-anchor="middle"><text x="305.5" y="101">2722</text><text x="385.5" y="100.8">418</text></g>
<path d="M413.7 97.2L422.9 105.4" stroke="#555" stroke-width="0.6"/>
<g font-size="7" fill="#333" stroke="#333"><text x="420.2" y="112.6">34</text><text x="209.8" y="47.6">robust DEGs</text><text x="212.6" y="57">(RNA-Seq)</text><text x="412.2" y="75.2">robust DEGs</text><text x="420.6" y="85.9">(array)</text></g>
<text x="189.6" y="191.9" font-size="11" fill="#333" stroke="#333">c</text>
<g fill="none" stroke="#9c9c9c" stroke-width="0.8"><rect x="210.3" y="203.3" width="116.0" height="103.09999999999997"/><rect x="334.4" y="203.3" width="116.0" height="103.09999999999997"/></g>
<path d="M208.50 286.65H210.3M332.60 286.65H334.4M208.50 262.30H210.3M332.60 262.30H334.4M208.50 237.95H210.3M332.60 237.95H334.4M208.50 213.60H210.3M332.60 213.60H334.4M210.30 306.4V308.40M268.30 306.4V308.40M326.30 306.4V308.40M334.40 306.4V308.40M392.40 306.4V308.40M450.40 306.4V308.40" stroke="#9c9c9c" stroke-width="0.8"/>
<g font-size="7" fill="#333" stroke="#333" text-anchor="end"><text x="205.8" y="289.15">10</text><text x="205.8" y="264.80">20</text><text x="205.8" y="240.45">30</text><text x="205.8" y="216.10">40</text></g>
<text transform="translate(193.2,255) rotate(-90)" font-size="7" fill="#333" stroke="#333" text-anchor="middle">H3K27ac intensity</text>
<g font-size="7" fill="#333" stroke="#333" text-anchor="middle"><text x="267.4" y="199.3">down</text><text x="392.5" y="199.3">up</text></g>
<g font-size="7" fill="#333" stroke="#333"><text x="210.90" y="316.2">−2.0</text><text x="268.30" y="316.2" text-anchor="middle">TSS</text><text x="326.70" y="316.2" text-anchor="end">2.0 kb</text><text x="335.00" y="316.2">−2.0</text><text x="392.40" y="316.2" text-anchor="middle">TSS</text><text x="450.80" y="316.2" text-anchor="end">2.0 kb</text></g>
<g font-size="7" fill="#333" stroke="#333"><text x="210.90" y="540.2">−2.0</text><text x="268.30" y="540.2" text-anchor="middle">TSS</text><text x="326.70" y="540.2" text-anchor="end">2.0 kb</text><text x="335.00" y="540.2">−2.0</text><text x="392.40" y="540.2" text-anchor="middle">TSS</text><text x="450.80" y="540.2" text-anchor="end">2.0 kb</text></g>
<path d="M210.0 301.7 211.0 300.0 212.0 300.9 213.0 300.4 214.0 300.3 215.0 300.2 216.0 299.5 217.0 299.9 218.0 299.6 219.0 300.9 220.0 299.7 221.0 299.2 222.0 298.9 223.0 298.4 224.0 297.9 225.0 297.8 226.0 297.8 227.0 297.2 228.0 297.3 229.0 296.2 230.0 295.5 231.0 295.3 232.0 294.2 233.0 293.1 234.0 292.4 235.0 291.9 236.0 291.7 237.0 290.1 238.0 289.2 239.0 288.9 240.0 287.4 241.0 286.7 242.0 286.3 243.0 284.9 244.0 283.4 245.0 282.2 246.0 279.7 247.0 279.7 248.0 277.7 249.0 275.8 250.0 274.9 251.0 273.4 252.0 271.4 253.0 269.6 254.0 269.5 255.0 269.0 256.0 269.0 257.0 268.3 258.0 267.6 259.0 267.4 260.0 267.7 261.0 268.2 262.0 269.5 263.0 270.2 264.0 271.2 265.0 272.2 266.0 273.8 267.0 274.1 268.0 271.7 269.0 268.2 270.0 266.2 271.0 265.5 272.0 263.9 273.0 263.3 274.0 262.0 275.0 262.0 276.0 262.2 277.0 262.7 278.0 261.9 279.0 262.8 280.0 264.4 281.0 265.3 282.0 267.3 283.0 267.6 284.0 269.6 285.0 270.6 286.0 273.0 287.0 274.0 288.0 275.4 289.0 276.4 290.0 278.8 291.0 279.6 292.0 280.8 293.0 282.1 294.0 283.0 295.0 283.8 296.0 284.6 297.0 285.4 298.0 287.0 299.0 286.8 300.0 288.0 301.0 288.9 302.0 289.6 303.0 290.3 304.0 290.3 305.0 290.7 306.0 291.8 307.0 292.8 308.0 293.0 309.0 293.1 310.0 293.3 311.0 293.8 312.0 293.9 313.0 294.6 314.0 294.4 315.0 295.0 316.0 295.2 317.0 295.7 318.0 295.8 319.0 296.8 320.0 296.7 321.0 296.9 322.0 296.0 323.0 296.9 324.0 297.1 325.0 297.9 326.0 297.2" fill="none" stroke="#8dcb6c" stroke-width="1.5" stroke-linejoin="round"/>
<path d="M210.0 294.0 211.0 293.8 212.0 292.8 213.0 292.8 214.0 292.7 215.0 292.9 216.0 292.9 217.0 293.3 218.0 292.3 219.0 292.1 220.0 291.3 221.0 291.3 222.0 290.4 223.0 290.0 224.0 288.6 225.0 288.2 226.0 287.2 227.0 287.3 228.0 286.2 229.0 285.1 230.0 284.2 231.0 283.7 232.0 282.4 233.0 281.5 234.0 281.2 235.0 280.0 236.0 277.2 237.0 275.3 238.0 273.3 239.0 271.4 240.0 270.2 241.0 268.0 242.0 265.3 243.0 263.1 244.0 260.7 245.0 258.4 246.0 255.5 247.0 254.3 248.0 253.0 249.0 251.2 250.0 249.8 251.0 247.7 252.0 245.9 253.0 244.3 254.0 242.2 255.0 240.6 256.0 239.3 257.0 239.2 258.0 239.6 259.0 238.3 260.0 239.3 261.0 239.8 262.0 241.0 263.0 242.4 264.0 243.6 265.0 244.8 266.0 244.5 267.0 245.0 268.0 241.2 269.0 236.0 270.0 230.3 271.0 223.8 272.0 221.4 273.0 217.7 274.0 214.8 275.0 212.5 276.0 210.9 277.0 210.2 278.0 209.5 279.0 208.2 280.0 210.4 281.0 212.1 282.0 214.6 283.0 215.8 284.0 218.4 285.0 219.8 286.0 222.7 287.0 225.8 288.0 228.6 289.0 232.1 290.0 234.6 291.0 236.6 292.0 239.0 293.0 241.6 294.0 243.3 295.0 245.6 296.0 247.7 297.0 249.4 298.0 253.6 299.0 256.1 300.0 260.2 301.0 261.6 302.0 263.6 303.0 264.8 304.0 266.1 305.0 268.1 306.0 269.6 307.0 271.4 308.0 273.3 309.0 275.0 310.0 275.8 311.0 276.4 312.0 277.4 313.0 277.6 314.0 279.1 315.0 279.6 316.0 280.8 317.0 281.2 318.0 280.5 319.0 281.7 320.0 282.0 321.0 282.3 322.0 283.5 323.0 283.8 324.0 284.0 325.0 285.2 326.0 285.9" fill="none" stroke="#3d3f7f" stroke-width="1.5" stroke-linejoin="round"/>
<path d="M334.4 288.0 335.4 287.3 336.4 287.6 337.4 287.4 338.4 286.5 339.4 286.3 340.4 286.3 341.4 286.1 342.4 286.8 343.4 286.1 344.4 285.6 345.4 285.6 346.4 285.7 347.4 286.5 348.4 285.4 349.4 285.1 350.4 284.8 351.4 284.2 352.4 284.5 353.4 282.8 354.4 282.5 355.4 281.5 356.4 281.0 357.4 279.7 358.4 280.0 359.4 278.7 360.4 278.1 361.4 277.1 362.4 276.5 363.4 276.4 364.4 275.9 365.4 275.2 366.4 274.8 367.4 273.7 368.4 272.0 369.4 270.9 370.4 269.4 371.4 267.8 372.4 266.8 373.4 265.7 374.4 264.1 375.4 262.6 376.4 261.9 377.4 261.4 378.4 259.8 379.4 258.9 380.4 258.2 381.4 258.2 382.4 256.6 383.4 257.7 384.4 259.3 385.4 259.9 386.4 261.9 387.4 262.4 388.4 262.8 389.4 264.0 390.4 262.2 391.4 258.4 392.4 255.1 393.4 250.8 394.4 249.4 395.4 246.4 396.4 244.8 397.4 243.1 398.4 241.0 399.4 240.7 400.4 240.6 401.4 239.8 402.4 239.9 403.4 241.5 404.4 242.2 405.4 242.9 406.4 244.6 407.4 246.5 408.4 247.3 409.4 249.0 410.4 250.3 411.4 251.0 412.4 251.7 413.4 252.8 414.4 254.4 415.4 255.7 416.4 256.5 417.4 257.6 418.4 258.2 419.4 259.5 420.4 260.2 421.4 261.1 422.4 261.5 423.4 262.3 424.4 263.5 425.4 264.1 426.4 264.9 427.4 266.2 428.4 266.6 429.4 268.3 430.4 268.3 431.4 268.4 432.4 269.5 433.4 270.1 434.4 270.4 435.4 271.7 436.4 271.7 437.4 271.5 438.4 273.6 439.4 273.9 440.4 275.4 441.4 275.5 442.4 276.1 443.4 277.6 444.4 276.9 445.4 277.6 446.4 278.2 447.4 277.9 448.4 278.2 449.4 279.0 450.4 279.9" fill="none" stroke="#8dcb6c" stroke-width="1.5" stroke-linejoin="round"/>
<path d="M334.4 296.7 335.4 297.1 336.4 296.9 337.4 297.4 338.4 296.4 339.4 296.0 340.4 296.5 341.4 295.9 342.4 296.0 343.4 295.8 344.4 296.0 345.4 295.2 346.4 295.2 347.4 294.2 348.4 294.5 349.4 295.0 350.4 293.9 351.4 293.5 352.4 292.9 353.4 293.2 354.4 292.7 355.4 291.8 356.4 292.0 357.4 291.4 358.4 291.1 359.4 290.1 360.4 290.4 361.4 289.4 362.4 288.8 363.4 288.1 364.4 287.6 365.4 287.4 366.4 286.3 367.4 286.1 368.4 285.3 369.4 284.9 370.4 283.9 371.4 282.6 372.4 280.9 373.4 280.7 374.4 279.8 375.4 278.3 376.4 277.2 377.4 275.6 378.4 274.7 379.4 274.0 380.4 274.3 381.4 273.4 382.4 273.0 383.4 273.2 384.4 274.1 385.4 275.2 386.4 275.3 387.4 275.4 388.4 276.6 389.4 277.0 390.4 277.3 391.4 274.5 392.4 271.8 393.4 268.9 394.4 266.6 395.4 264.4 396.4 263.5 397.4 261.9 398.4 262.0 399.4 260.0 400.4 260.9 401.4 261.5 402.4 261.6 403.4 262.7 404.4 264.1 405.4 265.4 406.4 266.3 407.4 267.7 408.4 269.4 409.4 270.7 410.4 271.4 411.4 272.4 412.4 273.5 413.4 274.8 414.4 275.0 415.4 275.9 416.4 277.4 417.4 277.8 418.4 278.8 419.4 279.9 420.4 280.8 421.4 281.1 422.4 282.5 423.4 282.3 424.4 283.8 425.4 283.7 426.4 284.5 427.4 285.8 428.4 286.1 429.4 286.5 430.4 287.2 431.4 288.1 432.4 288.5 433.4 289.0 434.4 289.9 435.4 289.8 436.4 290.3 437.4 290.7 438.4 291.7 439.4 292.1 440.4 292.6 441.4 292.4 442.4 292.6 443.4 293.2 444.4 293.0 445.4 293.7 446.4 294.0 447.4 293.8 448.4 294.3 449.4 294.6 450.4 295.6" fill="none" stroke="#3d3f7f" stroke-width="1.5" stroke-linejoin="round"/>
<path d="M413.4 211.4H426" stroke="#3d3f7f" stroke-width="1.5"/><path d="M413.4 220H426" stroke="#8dcb6c" stroke-width="1.5"/>
<g font-size="7" fill="#333" stroke="#333"><text x="430.4" y="213.9">MB</text><text x="430.4" y="222.5">MT</text></g>
<path d="M466 529.00H468M466 489.44H468M466 449.88H468M466 410.32H468M466 370.76H468M466 331.20H468" stroke="#666" stroke-width="0.7"/>
<g font-size="6.5" fill="#333" stroke="#333"><text x="470.6" y="531.35">0</text><text x="470.6" y="491.79">20</text><text x="470.6" y="452.23">40</text><text x="470.6" y="412.67">60</text><text x="470.6" y="373.11">80</text><text x="470.6" y="333.55">100</text></g>
<g font-size="7" fill="#333" stroke="#333" text-anchor="middle"><text transform="translate(205.9,372.9) rotate(-90)">MB</text><text transform="translate(205.9,482.3) rotate(-90)">MT</text></g>
<path d="M210.30 529.6V532M268.30 529.6V532M326.30 529.6V532M334.30 529.6V532M392.30 529.6V532M450.30 529.6V532" stroke="#9c9c9c" stroke-width="0.8"/>
</svg>
</div></body></html>
